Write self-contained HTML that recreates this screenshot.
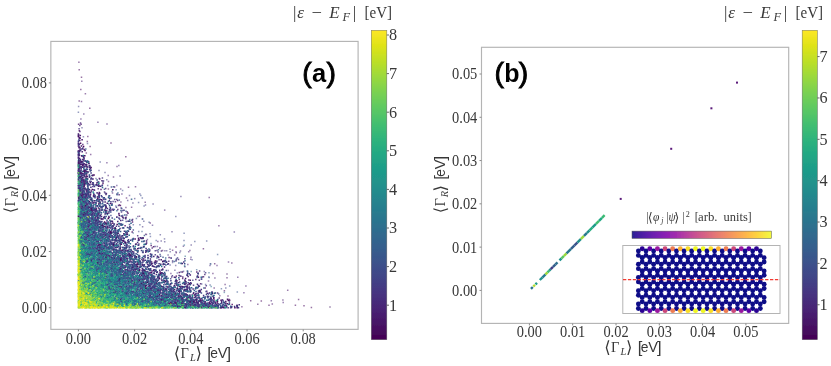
<!DOCTYPE html><html><head><meta charset="utf-8"><style>html,body{margin:0;padding:0;background:#fff;}svg{display:block;}</style></head><body><svg width="831" height="366" viewBox="0 0 831 366"><defs><linearGradient id="vir" x1="0" y1="1" x2="0" y2="0"><stop offset="0.000" stop-color="#440154"/><stop offset="0.050" stop-color="#471365"/><stop offset="0.100" stop-color="#482475"/><stop offset="0.150" stop-color="#463480"/><stop offset="0.200" stop-color="#414487"/><stop offset="0.250" stop-color="#3b528b"/><stop offset="0.300" stop-color="#355f8d"/><stop offset="0.350" stop-color="#2f6c8e"/><stop offset="0.400" stop-color="#2a788e"/><stop offset="0.450" stop-color="#25848e"/><stop offset="0.500" stop-color="#21918c"/><stop offset="0.550" stop-color="#1e9c89"/><stop offset="0.600" stop-color="#22a884"/><stop offset="0.650" stop-color="#2fb47c"/><stop offset="0.700" stop-color="#44bf70"/><stop offset="0.750" stop-color="#5ec962"/><stop offset="0.800" stop-color="#7ad151"/><stop offset="0.850" stop-color="#9bd93c"/><stop offset="0.900" stop-color="#bddf26"/><stop offset="0.950" stop-color="#dfe318"/><stop offset="1.000" stop-color="#fde725"/></linearGradient><linearGradient id="pla" x1="0" y1="0" x2="1" y2="0"><stop offset="0.000" stop-color="#0d0887"/><stop offset="0.050" stop-color="#2a0593"/><stop offset="0.100" stop-color="#41049d"/><stop offset="0.150" stop-color="#5601a4"/><stop offset="0.200" stop-color="#6a00a8"/><stop offset="0.250" stop-color="#7e03a8"/><stop offset="0.300" stop-color="#8f0da4"/><stop offset="0.350" stop-color="#a11b9b"/><stop offset="0.400" stop-color="#b12a90"/><stop offset="0.450" stop-color="#bf3984"/><stop offset="0.500" stop-color="#cc4778"/><stop offset="0.550" stop-color="#d6556d"/><stop offset="0.600" stop-color="#e16462"/><stop offset="0.650" stop-color="#ea7457"/><stop offset="0.700" stop-color="#f2844b"/><stop offset="0.750" stop-color="#f89540"/><stop offset="0.800" stop-color="#fca636"/><stop offset="0.850" stop-color="#feba2c"/><stop offset="0.900" stop-color="#fcce25"/><stop offset="0.950" stop-color="#f7e425"/><stop offset="1.000" stop-color="#f0f921"/></linearGradient><clipPath id="clipA"><rect x="51" y="41.5" width="306.5" height="287.3"/></clipPath><filter id="bl" x="-5%" y="-5%" width="110%" height="110%"><feGaussianBlur stdDeviation="0.45"/></filter></defs><rect width="831" height="366" fill="#fff"/><filter id="gb" x="0" y="0" width="100%" height="100%" filterUnits="userSpaceOnUse"><feGaussianBlur stdDeviation="0.3"/></filter><g filter="url(#gb)"><g clip-path="url(#clipA)"><g filter="url(#bl)" stroke-linecap="square" stroke-width="1.5" fill="none"><path stroke="#46085c" d="M100.1 199.4h0M92.3 189.6h0M128.4 241.6h0M183.6 297.8h0M146.1 273.5h0M177.9 300.2h0M160.7 292.4h0M102.0 218.9h0M79.6 150.2h0M228.3 300.4h0M120.6 247.2h0M209.9 306.1h0M237.2 305.4h0M85.9 177.1h0M117.2 224.6h0M119.3 215.4h0M203.4 303.5h0M83.0 175.7h0M110.5 221.3h0M81.6 178.7h0M90.1 214.1h0M146.8 279.9h0M167.5 286.9h0M179.5 286.6h0M135.1 239.1h0M80.5 171.8h0M223.6 307.6h0M114.9 258.5h0M215.1 306.6h0M80.2 171.6h0M175.8 281.3h0M125.2 267.5h0M96.4 184.7h0M186.9 286.2h0M79.7 140.4h0M176.9 280.7h0M80.0 138.2h0M89.5 189.7h0M94.2 196.6h0M131.6 258.2h0M131.6 276.3h0M84.6 184.5h0M104.3 197.8h0M79.5 155.4h0M92.3 210.1h0M80.6 143.3h0M194.6 294.9h0M102.7 227.3h0M99.1 224.2h0M157.1 281.7h0M99.8 231.6h0M113.8 245.8h0M84.0 182.5h0M79.6 167.8h0M150.0 285.9h0M212.1 292.6h0M86.4 199.0h0M85.0 150.6h0M91.6 209.7h0M139.4 291.0h0M177.0 285.2h0M94.3 210.6h0M84.3 206.9h0M78.4 136.6h0M160.1 271.9h0M217.3 302.1h0M237.2 307.7h0M94.0 194.5h0M82.8 165.5h0M114.4 242.3h0M99.4 201.3h0M97.9 219.3h0M100.1 202.3h0M197.8 302.9h0M146.6 275.9h0M101.8 257.6h0M79.0 166.2h0M131.5 255.1h0M201.1 298.7h0M84.8 155.7h0M113.7 243.7h0M84.0 225.0h0M88.5 194.3h0M122.3 265.8h0M105.7 206.7h0M133.2 261.8h0M229.4 304.1h0M103.0 231.8h0M117.2 233.2h0M109.4 236.3h0M86.5 175.0h0M78.4 164.6h0M85.7 194.1h0M172.6 294.2h0M222.1 307.3h0M82.5 180.2h0M83.9 164.0h0M96.5 251.6h0M143.0 260.6h0M78.4 150.9h0M120.3 248.8h0M83.0 194.6h0M187.3 275.3h0M80.3 195.7h0M204.4 303.4h0M141.6 275.6h0M200.1 300.1h0M120.3 244.0h0M108.3 218.5h0M174.0 298.3h0M89.3 201.6h0"/><path stroke="#46085c" stroke-opacity="0.8" d="M125.1 225.8h0M127.3 211.9h0M229.1 299.4h0M196.8 272.0h0M101.0 189.6h0M153.5 246.7h0M229.7 300.3h0M205.1 288.0h0M132.5 222.0h0M120.4 205.6h0M128.0 213.3h0M132.2 232.0h0"/><path stroke="#46085c" stroke-opacity="0.55" d="M79.2 69.8h0M81.5 77.3h0M80.8 89.4h0M269.0 305.3h0M250.7 300.8h0M261.3 301.0h0M298.6 299.5h0M295.4 305.3h0M304.0 305.7h0M311.4 307.4h0M79.2 101.0h0M111.0 143.0h0M86.3 152.9h0M125.8 156.7h0M89.8 108.3h0M214.7 263.8h0M150.2 222.9h0M228.0 296.1h0M203.4 248.7h0M224.4 290.7h0M176.0 247.0h0"/><path stroke="#48186a" d="M138.6 239.0h0M104.0 217.2h0M83.3 194.7h0M198.1 293.3h0M125.4 217.9h0M82.0 155.9h0M110.1 235.8h0M82.9 188.8h0M116.2 238.5h0M137.4 266.3h0M91.6 214.4h0M148.6 281.3h0M236.8 305.4h0M183.1 286.8h0M106.8 211.1h0M109.6 259.0h0M201.2 304.7h0M84.5 185.3h0M218.0 303.7h0M200.2 291.9h0M84.8 176.7h0M89.6 218.1h0M79.1 147.8h0M155.4 262.6h0M170.2 290.4h0M193.7 306.6h0M82.6 164.5h0M89.7 176.8h0M85.9 170.0h0M216.4 304.3h0M126.3 247.8h0M150.9 272.4h0M181.3 296.4h0M112.9 223.2h0M91.8 215.8h0M227.5 299.2h0M210.5 301.0h0M83.1 186.7h0M110.7 203.4h0M198.5 285.6h0M96.9 183.1h0M89.9 197.8h0M154.2 273.6h0M139.4 275.9h0M84.8 172.1h0M107.3 203.3h0M103.7 248.7h0M88.6 192.7h0M112.4 248.1h0M84.8 170.0h0M92.2 184.3h0M80.3 135.6h0M198.4 277.2h0M84.8 172.9h0M90.4 195.0h0M161.2 259.7h0M88.3 208.8h0M127.4 234.6h0M119.0 258.1h0M188.6 300.7h0M94.0 210.4h0M157.8 277.8h0M190.2 291.2h0M181.5 293.9h0M142.3 279.6h0M86.8 192.0h0M84.3 170.9h0M97.2 223.2h0M80.8 164.4h0M124.5 248.3h0M129.2 261.5h0M164.1 280.7h0M187.2 290.8h0M90.3 210.4h0M79.9 163.9h0M99.4 210.2h0M133.3 265.9h0M140.2 261.8h0M106.0 246.3h0M144.2 273.6h0M181.9 286.5h0M114.1 228.2h0M225.8 301.6h0M98.7 240.0h0M109.8 256.1h0M107.8 227.9h0M86.7 164.9h0M144.7 270.2h0M81.4 146.1h0M223.3 307.4h0M199.4 300.9h0M80.1 188.6h0M133.5 270.8h0M181.4 298.0h0M91.3 215.2h0M127.2 251.2h0M185.6 281.7h0M199.9 306.8h0M174.6 289.6h0M151.6 261.9h0M136.1 279.1h0M94.6 217.9h0M116.6 236.9h0M89.2 184.8h0M163.2 264.4h0M160.7 264.3h0M164.3 281.1h0M98.6 184.4h0M146.0 283.5h0M195.7 288.6h0M184.2 294.9h0M90.6 230.0h0M209.1 307.3h0M117.8 236.9h0M142.6 270.1h0M138.5 238.3h0M112.4 221.6h0M121.1 237.1h0M132.4 265.4h0M198.9 291.4h0M195.5 296.8h0M98.6 208.1h0M157.4 280.7h0M81.4 180.7h0M158.9 282.7h0M91.3 191.0h0M105.6 210.7h0M163.7 302.7h0M151.6 272.8h0M99.9 227.5h0M182.9 295.1h0M101.7 199.8h0M151.2 277.3h0M143.7 259.0h0M139.7 260.9h0M158.7 265.7h0M140.1 266.4h0M111.0 209.9h0M81.6 195.1h0M78.4 134.0h0M85.0 221.8h0M171.1 290.1h0M113.3 266.7h0"/><path stroke="#48186a" stroke-opacity="0.8" d="M188.8 279.9h0M217.6 292.9h0M94.5 190.2h0M78.6 124.2h0M146.2 244.0h0M132.6 219.5h0M106.4 193.4h0M202.4 276.9h0M182.8 276.9h0M119.1 194.8h0M118.9 213.4h0M109.6 195.8h0"/><path stroke="#48186a" stroke-opacity="0.55" d="M78.9 62.2h0M231.8 262.9h0M212.9 273.5h0M272.3 303.9h0M227.0 273.9h0M227.0 277.7h0M257.8 304.3h0M287.7 290.2h0M85.4 93.7h0M81.5 101.6h0M117.0 166.5h0M330.0 307.0h0M282.9 300.0h0M162.5 250.5h0M218.9 225.8h0M241.9 306.8h0M125.9 207.6h0M90.7 154.5h0M112.5 192.9h0M126.5 198.1h0M113.5 176.9h0M214.2 288.0h0M120.9 201.9h0M184.9 266.7h0M171.0 257.7h0"/><path stroke="#482576" d="M82.5 179.9h0M178.8 298.9h0M146.6 243.0h0M157.6 292.8h0M205.2 301.7h0M118.8 240.6h0M79.3 146.9h0M107.3 233.4h0M112.7 255.3h0M187.8 291.7h0M126.6 245.2h0M133.8 269.5h0M125.1 269.7h0M209.6 306.6h0M84.3 217.5h0M199.5 297.9h0M137.9 281.8h0M129.6 257.7h0M87.5 191.0h0M89.7 211.3h0M139.0 281.6h0M81.3 164.2h0M86.4 164.4h0M178.5 282.7h0M87.1 198.9h0M78.4 155.2h0M213.0 296.4h0M161.0 273.8h0M106.1 212.9h0M78.4 144.3h0M137.7 268.6h0M98.6 182.1h0M186.8 289.3h0M190.3 275.0h0M82.8 159.6h0M198.2 273.7h0M164.5 267.0h0M88.7 161.7h0M90.9 178.9h0M113.9 259.0h0M103.6 234.5h0M93.3 183.0h0M161.1 295.9h0M220.5 307.7h0M88.9 216.6h0M83.7 201.0h0M214.7 305.2h0M86.4 197.1h0M113.6 231.4h0M145.2 282.4h0M101.3 218.9h0M99.7 193.2h0M105.1 234.8h0M169.6 294.2h0M97.3 205.8h0M182.4 297.9h0M192.1 294.9h0M160.3 291.9h0M153.8 256.4h0M116.5 249.5h0M101.0 218.5h0M135.3 270.0h0M148.5 275.2h0M183.8 282.7h0M164.4 291.8h0M88.2 192.9h0M157.4 256.2h0M161.7 269.9h0M148.9 269.6h0M145.8 252.3h0M115.4 233.7h0M164.2 261.1h0M101.5 240.4h0M94.3 200.7h0M106.6 255.7h0M105.1 214.1h0M107.4 208.5h0M153.7 266.6h0M129.9 254.6h0M90.7 192.5h0M210.5 307.0h0M168.3 297.3h0M142.6 257.8h0M117.4 247.2h0M101.8 243.8h0M133.4 246.1h0M143.0 280.5h0M99.4 194.9h0M80.0 186.9h0M187.5 285.1h0M136.1 264.3h0M80.2 172.2h0M104.0 254.0h0M200.4 291.0h0M122.2 272.4h0M224.4 302.8h0M221.0 307.2h0M204.9 306.2h0M150.6 278.6h0M214.6 301.9h0M83.2 156.3h0M102.4 225.4h0M102.3 185.2h0M88.4 183.8h0M98.9 213.0h0M116.0 234.4h0M138.6 245.2h0M150.4 288.3h0M118.4 233.4h0M179.1 275.4h0M186.5 296.0h0M213.2 306.0h0M195.8 294.0h0M84.7 212.8h0M108.5 268.0h0M186.9 286.8h0M83.9 184.9h0M97.0 199.5h0M95.6 239.6h0M97.7 217.3h0M84.1 181.1h0M205.9 305.1h0M131.3 268.6h0M150.4 258.9h0M147.5 262.4h0M103.9 199.4h0M113.3 257.0h0M113.6 249.5h0M118.2 261.1h0M196.1 295.7h0M94.4 238.7h0M120.0 238.1h0M97.1 220.4h0M155.0 284.7h0M221.8 307.4h0M122.7 255.4h0M199.4 297.4h0M102.1 234.5h0M128.5 231.3h0M140.8 288.7h0M134.6 278.9h0M105.6 211.5h0M96.0 220.5h0M78.4 162.0h0M130.0 266.4h0M150.5 254.0h0M193.1 288.9h0M94.9 209.6h0M78.6 173.7h0M185.5 303.9h0M82.9 223.4h0M92.3 211.6h0M95.0 196.4h0M112.6 236.0h0M110.3 237.3h0M136.2 269.4h0"/><path stroke="#482576" stroke-opacity="0.8" d="M201.5 278.9h0M204.8 274.5h0M79.8 125.5h0M157.0 250.5h0M178.5 259.5h0M199.6 270.9h0M171.7 277.1h0M99.8 179.1h0M187.6 271.6h0M105.7 188.5h0M104.5 191.9h0M98.2 188.7h0M199.3 280.2h0M106.0 194.6h0M122.5 228.1h0M138.9 244.0h0M181.0 276.2h0M193.5 285.2h0M161.4 251.1h0M176.0 261.1h0"/><path stroke="#482576" stroke-opacity="0.55" d="M81.8 81.2h0M228.5 261.9h0M271.3 300.8h0M217.0 265.4h0M245.9 286.0h0M237.8 277.3h0M243.9 292.8h0M83.8 114.0h0M107.0 124.0h0M97.9 122.2h0M283.2 302.4h0M147.4 239.5h0M188.7 251.7h0M80.9 119.1h0M146.4 234.5h0M190.7 259.2h0M214.9 278.1h0M108.2 175.6h0M187.8 264.5h0M183.4 246.3h0"/><path stroke="#46337f" d="M87.3 179.8h0M125.5 242.4h0M130.9 249.5h0M107.3 226.2h0M198.0 297.6h0M176.7 282.3h0M206.6 305.6h0M102.4 206.2h0M114.8 235.4h0M101.1 210.4h0M99.7 209.1h0M168.4 263.7h0M126.2 233.9h0M124.0 210.2h0M172.9 288.7h0M110.7 228.0h0M132.1 266.5h0M154.4 262.9h0M120.0 228.6h0M183.6 295.9h0M83.5 165.1h0M111.8 221.2h0M146.1 248.6h0M82.9 148.0h0M137.1 261.9h0M156.2 267.4h0M94.5 208.8h0M208.1 306.0h0M104.3 231.4h0M210.2 299.2h0M215.6 302.2h0M103.5 225.7h0M212.0 292.1h0M119.9 240.9h0M138.9 264.2h0M101.6 216.6h0M142.4 264.2h0M108.5 197.4h0M97.1 193.0h0M103.2 230.3h0M117.5 240.3h0M109.7 198.8h0M151.0 284.8h0M112.1 203.9h0M137.6 242.5h0M133.6 251.9h0M163.4 273.8h0M129.6 258.1h0M85.1 161.2h0M207.6 296.2h0M105.5 223.0h0M139.6 256.2h0M175.4 293.7h0M102.4 231.7h0M96.9 219.3h0M83.7 184.9h0M162.3 293.2h0M113.1 232.3h0M197.4 284.2h0M177.0 293.1h0M123.5 240.5h0M122.7 247.5h0M107.2 253.1h0M118.2 236.0h0M97.7 222.3h0M123.5 271.2h0M195.3 294.4h0M87.1 179.6h0M206.9 304.9h0M160.2 292.8h0M215.6 302.9h0M167.1 291.0h0M162.2 272.9h0M171.0 286.6h0M83.7 190.6h0M160.2 292.9h0M150.6 270.3h0M181.5 288.6h0M114.3 224.1h0M96.4 209.0h0M150.7 268.8h0M154.6 262.2h0M81.3 169.9h0M145.0 278.7h0M128.4 250.4h0M95.1 222.6h0M115.5 249.7h0M112.7 237.7h0M118.6 259.5h0M90.5 202.6h0M115.9 245.3h0M144.6 273.3h0M130.1 277.3h0M159.2 274.9h0M209.5 302.4h0M120.0 250.1h0M194.5 300.8h0M78.7 143.8h0M136.2 265.2h0M190.2 291.9h0M153.3 279.4h0M165.3 277.1h0M112.3 253.3h0M145.4 260.2h0M103.0 243.9h0M116.8 243.7h0M156.9 261.2h0M174.6 291.4h0M156.9 283.4h0M176.9 283.7h0M115.7 228.9h0M140.3 237.8h0M185.4 291.0h0M129.6 278.0h0M129.0 245.9h0M179.7 294.1h0M84.0 210.6h0M115.2 237.6h0M80.5 167.4h0M118.6 246.8h0M148.2 273.4h0M125.7 272.4h0M124.8 245.4h0M141.2 238.6h0M121.9 259.5h0M164.8 264.2h0M178.8 295.7h0M98.0 201.3h0M119.8 239.6h0M157.2 266.0h0M138.9 272.7h0M110.0 233.5h0M159.7 282.7h0M79.6 168.5h0M111.5 230.1h0M97.8 218.7h0M97.1 192.8h0M123.3 218.1h0M138.5 270.8h0M201.1 300.3h0M190.7 290.2h0M148.9 277.5h0M95.5 219.0h0M143.8 269.8h0M104.5 210.1h0M97.9 243.7h0M158.8 276.8h0M156.2 283.5h0M125.5 273.5h0M130.2 229.3h0M145.0 255.6h0M183.3 303.1h0M102.1 231.0h0M99.0 195.4h0M125.8 218.8h0M159.3 288.6h0M179.7 288.7h0M94.1 223.1h0M93.8 233.6h0M114.0 256.9h0M104.9 204.9h0M102.1 200.8h0M171.2 288.9h0M118.4 256.7h0M183.1 293.2h0M121.7 257.5h0M91.2 227.6h0M79.8 187.8h0M175.7 299.3h0M163.5 292.3h0M97.6 219.4h0M108.1 235.8h0M184.6 284.3h0M183.6 302.3h0M87.0 183.6h0M160.0 298.7h0M187.7 295.3h0M194.9 300.5h0M99.1 201.8h0M93.6 196.6h0M105.1 233.8h0M87.8 188.9h0M105.2 253.7h0M85.3 181.6h0M168.3 295.3h0"/><path stroke="#46337f" stroke-opacity="0.8" d="M172.4 275.8h0M118.5 205.5h0M206.3 285.7h0M102.4 177.9h0M158.1 252.0h0M79.1 128.8h0M105.1 193.1h0M116.9 194.0h0M116.7 199.6h0M180.1 276.0h0M155.3 254.8h0M155.3 250.7h0M184.8 258.8h0M114.7 199.5h0"/><path stroke="#46337f" stroke-opacity="0.55" d="M174.7 254.9h0M168.1 255.0h0M120.1 175.9h0M234.3 232.0h0M164.9 250.7h0M161.2 241.0h0M191.0 257.2h0M210.0 265.5h0M96.0 178.4h0M118.8 165.5h0M132.9 202.9h0M116.8 185.6h0M145.5 204.9h0"/><path stroke="#424086" d="M196.2 287.3h0M88.6 205.9h0M167.7 282.1h0M114.2 240.0h0M181.4 298.6h0M92.0 207.0h0M170.9 280.8h0M211.2 300.9h0M99.4 245.9h0M203.6 297.3h0M106.0 252.1h0M88.2 212.2h0M186.2 300.1h0M113.0 244.3h0M163.9 284.8h0M92.5 228.7h0M85.1 194.2h0M169.0 286.5h0M96.0 184.9h0M115.0 254.3h0M80.8 149.9h0M152.5 286.2h0M96.3 200.8h0M124.6 248.8h0M145.7 268.4h0M78.4 163.3h0M97.8 199.6h0M103.3 227.5h0M96.1 237.1h0M89.9 207.6h0M185.2 300.4h0M91.3 178.4h0M199.5 291.9h0M171.0 288.2h0M124.8 258.5h0M156.6 263.1h0M95.3 221.7h0M159.5 286.5h0M115.7 238.4h0M124.8 247.8h0M198.1 287.6h0M133.8 253.3h0M101.0 214.2h0M81.8 167.1h0M129.1 262.5h0M139.8 274.8h0M158.7 290.5h0M85.1 196.1h0M178.1 296.9h0M126.0 243.3h0M98.3 217.2h0M133.4 255.1h0M110.5 208.2h0M151.8 287.6h0M111.3 244.1h0M174.9 295.1h0M167.7 264.3h0M128.5 239.8h0M107.0 222.1h0M78.4 141.3h0M108.9 216.5h0M80.9 187.9h0M147.3 275.5h0M216.7 305.7h0M153.2 281.2h0M147.6 276.0h0M129.8 221.2h0M231.8 306.7h0M142.6 284.3h0M218.4 306.9h0M141.5 250.4h0M166.5 280.5h0M93.3 184.6h0M182.3 287.8h0M165.5 289.0h0M121.0 253.1h0M98.6 218.1h0M109.1 234.4h0M204.0 301.8h0M86.7 161.2h0M88.9 202.9h0M151.8 254.5h0M91.4 178.0h0M118.2 231.7h0M88.0 187.4h0M178.8 290.0h0M144.9 256.4h0M158.3 280.2h0M155.0 269.7h0M109.6 246.2h0M134.7 256.0h0M102.9 202.1h0M202.4 300.7h0M150.5 261.1h0M127.9 242.8h0M105.6 199.3h0M186.4 304.5h0M142.6 238.0h0M116.2 249.7h0M149.0 281.9h0M128.8 275.7h0M121.2 260.6h0M83.8 223.1h0M190.7 282.8h0M119.2 241.1h0M120.6 274.1h0M113.2 210.2h0M97.6 182.2h0M118.9 226.3h0M109.5 255.4h0M142.5 292.4h0M99.3 197.5h0M90.3 228.8h0M162.7 282.4h0M111.0 267.0h0M120.3 259.6h0M84.2 166.3h0M95.6 225.3h0M91.1 170.2h0M118.9 250.5h0M110.1 223.1h0M87.1 194.7h0M102.8 229.8h0M118.1 258.2h0M93.9 235.4h0M87.4 212.1h0M116.3 240.5h0M143.7 270.6h0M103.0 257.7h0M83.0 177.7h0M85.1 173.5h0M145.1 257.5h0M116.5 232.5h0M127.8 240.8h0M95.5 219.7h0M210.8 303.9h0M166.8 298.8h0M122.1 265.9h0M105.0 251.9h0M144.0 246.7h0M121.3 224.1h0M97.4 255.1h0M90.8 170.4h0M111.9 261.3h0M86.9 206.2h0M85.5 196.5h0M158.7 275.0h0M107.2 250.9h0M110.6 242.4h0M157.6 284.8h0M104.5 248.6h0M114.7 245.9h0M158.4 291.2h0M223.8 302.1h0M112.4 260.7h0M119.9 253.0h0M89.7 169.4h0M115.6 231.1h0M193.9 301.1h0M84.9 198.1h0M104.0 223.3h0M154.4 283.9h0M175.6 277.6h0M80.8 185.1h0"/><path stroke="#424086" stroke-opacity="0.8" d="M122.7 220.3h0M166.3 270.5h0M192.8 280.3h0M155.0 246.6h0M92.7 179.0h0M181.0 272.1h0"/><path stroke="#424086" stroke-opacity="0.55" d="M210.4 263.8h0M175.7 265.6h0M164.7 241.8h0M170.1 265.0h0M139.9 194.1h0M82.0 127.8h0M83.4 136.7h0M143.8 221.2h0M172.6 262.4h0M105.0 172.6h0M129.5 195.6h0"/><path stroke="#3e4c8a" d="M162.8 261.4h0M135.6 244.6h0M133.4 246.8h0M89.9 181.2h0M114.0 244.4h0M91.5 197.9h0M189.8 287.9h0M126.8 263.3h0M86.7 176.7h0M96.4 230.5h0M193.6 299.8h0M108.3 221.9h0M85.0 198.4h0M176.3 282.9h0M130.7 281.0h0M117.8 230.8h0M175.3 281.6h0M128.5 264.8h0M140.5 265.1h0M163.4 286.5h0M109.9 246.8h0M109.4 230.7h0M105.8 230.6h0M205.5 297.1h0M111.5 270.3h0M109.5 243.6h0M133.6 278.5h0M84.4 189.0h0M152.3 265.9h0M126.7 258.3h0M115.4 239.7h0M160.4 274.9h0M216.5 305.6h0M133.1 274.2h0M168.3 299.6h0M129.6 268.8h0M92.2 225.2h0M82.7 173.7h0M140.7 274.0h0M184.9 279.9h0M103.0 232.8h0M106.1 206.2h0M100.2 226.4h0M208.8 296.6h0M153.4 273.3h0M97.1 225.0h0M98.1 226.4h0M106.7 230.5h0M122.3 262.6h0M120.5 261.1h0M208.4 294.0h0M91.9 175.5h0M100.5 241.1h0M78.8 140.1h0M158.2 287.5h0M92.2 208.7h0M100.0 212.0h0M217.8 299.6h0M148.2 276.9h0M112.2 263.0h0M112.2 225.9h0M126.7 269.7h0M112.4 239.3h0M223.6 304.8h0M129.4 261.2h0M83.1 185.9h0M85.3 182.0h0M126.9 273.2h0M93.1 220.6h0M123.4 262.2h0M92.0 227.7h0M126.9 231.9h0M91.3 218.6h0M96.5 223.0h0M124.2 261.9h0M154.4 271.9h0M107.9 234.0h0M105.6 230.1h0M151.7 274.4h0M122.5 262.7h0M211.6 299.9h0M90.9 228.9h0M82.9 161.3h0M144.5 270.5h0M130.6 275.3h0M106.6 241.5h0M195.5 288.7h0M147.8 276.2h0M90.3 213.3h0M166.2 290.0h0M95.7 223.9h0M156.0 270.7h0M80.5 161.0h0M115.2 227.7h0M96.8 241.5h0M101.4 233.0h0M113.2 249.8h0M130.9 276.2h0M182.9 299.2h0M87.8 213.1h0M109.7 245.1h0M124.4 252.4h0M136.9 267.1h0M93.7 212.3h0M150.5 275.1h0M143.8 264.9h0M105.5 246.6h0M132.5 280.8h0M110.0 269.0h0M113.4 254.9h0M173.9 299.3h0M116.8 257.9h0M80.9 190.4h0M113.5 258.8h0M141.0 272.4h0M102.4 235.8h0M100.0 230.7h0M88.0 215.3h0M127.8 250.8h0M115.8 230.4h0M143.3 285.1h0M144.2 241.1h0M109.6 205.7h0M176.0 297.7h0M125.7 232.2h0M187.3 297.5h0M82.8 221.3h0M165.5 260.2h0M197.9 295.3h0M88.2 201.6h0M83.5 225.1h0M129.0 271.0h0M208.1 300.3h0M86.1 189.3h0M167.9 281.5h0M100.8 203.8h0M130.9 273.1h0M115.0 252.5h0M123.8 255.8h0M109.2 232.9h0M184.6 295.4h0M138.3 240.4h0M95.9 213.6h0M78.6 157.8h0M97.0 234.6h0M189.7 300.8h0M128.7 253.9h0"/><path stroke="#3e4c8a" stroke-opacity="0.8" d="M123.8 228.1h0M116.9 217.0h0M163.0 257.2h0M104.4 189.2h0M160.6 256.2h0M110.9 215.4h0"/><path stroke="#3e4c8a" stroke-opacity="0.55" d="M184.0 240.4h0M156.2 240.5h0M177.3 272.9h0M100.2 162.0h0M206.7 240.9h0M142.3 198.0h0M138.6 202.6h0M142.3 218.9h0M150.0 233.7h0M144.1 206.1h0M194.8 241.4h0M168.2 270.6h0"/><path stroke="#38588c" d="M111.4 242.4h0M119.6 248.5h0M134.7 255.3h0M111.4 262.8h0M138.2 272.3h0M138.1 250.7h0M131.3 250.2h0M198.3 302.5h0M124.9 215.1h0M135.1 256.4h0M138.6 248.3h0M98.2 232.3h0M146.8 261.2h0M214.4 293.3h0M164.2 288.1h0M149.9 262.9h0M102.6 225.2h0M182.6 283.5h0M143.5 241.4h0M98.4 224.5h0M100.6 226.6h0M140.0 264.8h0M80.9 171.0h0M151.6 255.8h0M141.5 266.7h0M90.2 171.1h0M83.7 205.2h0M88.1 202.8h0M133.6 276.7h0M108.0 241.6h0M164.5 272.5h0M143.0 251.0h0M112.3 229.5h0M203.9 303.6h0M117.5 240.7h0M196.0 291.5h0M97.1 180.1h0M187.0 275.0h0M220.8 303.7h0M131.8 276.9h0M195.7 297.4h0M127.5 278.9h0M193.2 299.7h0M89.4 213.9h0M135.6 275.4h0M176.5 290.2h0M129.1 266.3h0M80.3 177.9h0M111.6 249.0h0M207.0 300.5h0M138.8 268.9h0M131.0 268.1h0M138.3 273.3h0M118.9 262.5h0M79.3 164.3h0M105.4 205.5h0M197.2 295.6h0M115.7 235.8h0M147.4 266.7h0M98.5 222.2h0M130.3 251.2h0M177.4 288.0h0M129.2 251.2h0M121.0 210.4h0M103.4 206.2h0M184.6 293.4h0M122.7 256.6h0M166.7 262.0h0M109.7 226.1h0M131.3 275.5h0M179.5 292.7h0M122.2 280.2h0M114.8 242.9h0M98.8 200.1h0M166.5 281.9h0M176.7 284.5h0M184.8 303.6h0M198.0 273.5h0M125.7 274.2h0M117.8 264.9h0M171.7 287.8h0M105.5 212.6h0M126.4 248.8h0M169.1 296.4h0M181.9 301.0h0M165.9 288.2h0M141.1 281.5h0M136.5 257.4h0M111.7 205.1h0M86.0 193.6h0M125.8 266.4h0M161.3 282.8h0M99.7 222.1h0M132.4 254.6h0M81.3 214.9h0M148.5 261.8h0M91.8 198.8h0M125.4 257.3h0M139.4 286.6h0M82.3 179.6h0M125.3 248.4h0M110.2 241.4h0M166.2 278.1h0M119.2 249.0h0M125.7 274.7h0M120.6 231.5h0M122.8 261.9h0M99.9 245.1h0M172.4 291.3h0M95.0 229.7h0M187.7 273.1h0M145.4 283.4h0M108.9 195.9h0M171.4 283.2h0M89.3 222.6h0M185.1 304.8h0M150.5 280.1h0M176.8 291.0h0"/><path stroke="#38588c" stroke-opacity="0.8" d="M156.9 257.9h0M126.1 211.3h0M218.7 293.9h0M117.1 194.8h0M144.4 235.6h0"/><path stroke="#38588c" stroke-opacity="0.55" d="M229.7 286.1h0M112.0 191.6h0M142.7 219.1h0M209.2 277.6h0M142.0 231.5h0"/><path stroke="#33638d" d="M123.0 237.6h0M129.1 251.8h0M117.7 237.3h0M154.7 279.5h0M85.0 199.1h0M119.2 267.3h0M136.8 266.6h0M142.6 238.6h0M178.8 277.8h0M116.1 247.3h0M98.5 233.9h0M158.5 275.7h0M104.3 224.2h0M87.5 192.7h0M106.6 230.8h0M129.0 242.9h0M191.6 287.8h0M106.7 231.7h0M153.3 290.9h0M190.3 284.7h0M112.5 249.3h0M191.0 291.5h0M112.9 246.0h0M101.5 212.8h0M89.6 210.7h0M190.3 296.6h0M125.6 271.8h0M105.8 252.4h0M80.9 215.9h0M117.2 234.7h0M158.6 274.2h0M128.7 221.2h0M149.7 270.6h0M217.3 305.3h0M103.0 235.8h0M140.2 293.2h0M116.5 255.6h0M146.3 262.8h0M142.3 257.7h0M198.8 295.2h0M146.4 282.5h0M105.9 250.4h0M148.5 282.9h0M126.2 236.6h0M98.8 204.6h0M217.3 300.6h0M116.9 262.3h0M110.3 246.9h0M182.1 302.1h0M168.0 278.2h0M90.2 249.1h0M92.8 200.6h0M179.1 288.7h0M132.3 269.6h0M183.7 297.2h0M99.3 196.8h0M115.5 271.4h0M91.8 219.4h0M104.0 197.7h0M156.1 270.2h0M89.0 204.0h0M82.9 185.1h0M167.1 297.6h0M164.1 278.7h0M162.4 298.5h0M101.3 246.7h0M98.1 225.0h0M88.5 222.8h0M181.5 299.6h0M86.6 244.7h0M207.8 305.4h0M123.1 261.8h0M87.2 184.1h0M118.9 267.6h0M166.0 301.6h0M85.7 215.5h0M111.4 252.7h0M81.5 187.0h0M98.1 224.1h0M133.7 272.3h0M151.4 275.7h0M165.0 273.5h0M85.4 211.4h0M129.1 258.7h0M137.6 277.5h0M115.4 273.2h0M79.5 165.7h0M92.8 239.0h0M194.6 306.1h0M137.5 254.5h0"/><path stroke="#33638d" stroke-opacity="0.8" d="M178.9 263.0h0M113.4 186.8h0M117.9 193.0h0"/><path stroke="#33638d" stroke-opacity="0.55" d="M151.0 243.5h0M196.7 269.7h0M191.2 271.5h0M209.0 272.8h0"/><path stroke="#2e6d8e" d="M106.3 211.8h0M93.6 193.2h0M149.0 277.0h0M129.2 235.2h0M150.5 283.3h0M111.0 259.2h0M204.7 299.0h0M107.6 251.4h0M103.6 223.2h0M110.2 257.4h0M78.4 152.3h0M171.3 294.5h0M158.6 288.9h0M118.0 265.7h0M138.6 257.6h0M119.3 259.8h0M102.2 240.9h0M202.3 297.9h0M160.4 285.3h0M192.1 297.8h0M162.2 294.0h0M95.6 236.1h0M95.8 238.6h0M132.6 241.0h0M170.4 293.1h0M108.2 237.9h0M150.3 288.3h0M163.7 286.9h0M83.2 207.8h0M101.4 260.3h0M118.9 252.9h0M152.6 282.8h0M120.5 242.9h0M198.5 295.1h0M123.6 257.7h0M86.8 194.4h0M107.4 214.6h0M140.6 276.7h0M153.5 294.6h0M171.2 298.0h0M162.5 293.7h0M97.5 227.0h0M201.2 277.3h0"/><path stroke="#2e6d8e" stroke-opacity="0.8" d="M184.6 266.0h0M116.9 210.7h0"/><path stroke="#2e6d8e" stroke-opacity="0.55" d="M184.3 245.1h0"/><path stroke="#2a778e" d="M133.2 258.9h0M138.3 268.2h0M100.7 225.0h0M88.1 206.5h0M135.4 261.7h0M144.4 274.4h0M143.6 247.0h0M117.5 257.3h0M161.7 274.7h0M113.0 269.6h0M122.7 260.2h0M91.7 205.5h0M108.3 240.9h0M95.4 216.3h0M98.6 237.8h0M102.4 245.5h0M126.0 278.8h0M115.4 256.5h0M184.1 290.6h0M106.2 241.3h0M123.7 243.7h0M81.9 185.7h0M109.9 220.3h0M109.8 252.6h0M164.2 278.2h0M105.5 245.7h0"/><path stroke="#2a778e" stroke-opacity="0.55" d="M131.7 199.3h0"/><path stroke="#26828e" d="M186.7 296.9h0M146.8 274.4h0M118.5 277.2h0M81.8 202.8h0M110.0 251.4h0M99.6 202.1h0M90.1 197.2h0M144.1 244.6h0M210.8 305.5h0M127.8 271.9h0M82.3 191.2h0M127.4 271.6h0M103.2 225.9h0M203.8 306.3h0"/><path stroke="#228b8d" d="M190.5 300.7h0M83.3 223.2h0M122.4 253.6h0M121.2 274.7h0M132.4 273.7h0M131.3 277.5h0M131.1 278.0h0"/><path stroke="#1f958b" d="M148.3 284.2h0M92.0 225.0h0M147.1 282.1h0"/><path stroke="#1fa088" d="M139.6 271.7h0M128.7 277.3h0M86.3 222.6h0"/><path stroke="#3fbc73" d="M97.7 219.7h0"/><path stroke="#46085c" d="M91.3 208.4h0M98.8 212.9h0M193.3 305.3h0M79.1 161.1h0M143.2 238.0h0M85.9 225.6h0M79.0 172.6h0M79.5 196.9h0M123.8 284.7h0M83.9 160.0h0M123.9 233.7h0M87.6 211.1h0M109.0 217.4h0M160.3 273.2h0M110.4 232.7h0M80.4 177.3h0M185.1 281.0h0M161.9 295.5h0M121.4 244.3h0M148.7 268.7h0M170.4 284.0h0M84.0 183.6h0M105.7 254.8h0M116.5 250.9h0M161.3 286.3h0M155.5 261.1h0M83.1 180.7h0M86.3 178.8h0M91.1 167.4h0M116.6 269.9h0M103.0 236.7h0M108.4 253.3h0M208.4 307.6h0M90.8 226.3h0M170.9 297.2h0M182.3 300.9h0M159.3 278.8h0M153.6 270.5h0M87.4 178.8h0M179.8 290.7h0M114.1 236.9h0M98.5 196.6h0M106.1 207.6h0M106.0 235.3h0M82.9 167.3h0M134.8 273.4h0M100.4 244.5h0M166.1 289.3h0M174.9 293.7h0M124.0 241.4h0M84.8 170.6h0M87.9 171.8h0M85.7 164.8h0M225.8 303.2h0M128.8 271.6h0M100.4 215.7h0M102.2 209.7h0M91.5 243.6h0M96.1 209.1h0M182.3 299.0h0M80.4 215.1h0M87.6 185.9h0M104.6 221.9h0M120.7 243.4h0M122.6 217.0h0M122.5 235.7h0M162.6 292.3h0M85.0 208.6h0M90.7 209.0h0M97.8 198.6h0M86.3 195.3h0M139.1 240.1h0M112.8 265.7h0M138.5 262.8h0M119.5 271.0h0M86.5 214.0h0M234.9 307.7h0M128.7 293.7h0M144.5 270.9h0M80.1 181.7h0M189.4 283.4h0M78.4 173.5h0M115.3 228.4h0M147.3 282.2h0M85.8 180.1h0M129.9 286.8h0M96.3 220.7h0M112.6 263.8h0M136.4 256.8h0M136.8 272.3h0M104.4 250.2h0M198.0 304.6h0M172.1 300.3h0M127.0 275.5h0M162.9 261.6h0"/><path stroke="#46085c" stroke-opacity="0.8" d="M179.3 272.4h0M119.4 205.1h0M94.2 174.9h0M182.5 272.0h0"/><path stroke="#46085c" stroke-opacity="0.55" d="M108.4 189.1h0M176.3 252.8h0M139.5 216.3h0M128.5 187.2h0"/><path stroke="#48186a" d="M188.1 301.5h0M79.5 158.5h0M82.3 162.1h0M124.7 254.7h0M99.3 192.5h0M80.4 191.7h0M198.8 301.4h0M197.3 276.5h0M179.0 294.1h0M88.2 189.0h0M142.2 265.3h0M114.8 240.4h0M186.0 283.6h0M132.4 259.6h0M84.0 163.8h0M84.2 186.5h0M85.0 188.7h0M98.6 245.2h0M176.9 295.1h0M88.6 219.1h0M164.2 290.1h0M82.6 177.4h0M136.1 250.3h0M121.2 239.8h0M137.7 251.9h0M146.4 292.2h0M94.6 213.7h0M125.1 242.7h0M117.3 261.8h0M78.4 146.1h0M97.4 197.0h0M89.8 167.6h0M187.5 288.0h0M94.0 202.4h0M87.2 176.4h0M147.2 267.0h0M205.4 305.1h0M123.2 240.5h0M164.2 275.0h0M84.6 194.0h0M84.1 149.6h0M105.2 244.4h0M139.4 281.3h0M83.6 196.5h0M164.9 296.1h0M80.1 148.1h0M152.0 270.9h0M86.2 171.7h0M103.4 262.1h0M130.5 259.9h0M113.3 250.4h0M94.4 215.6h0M142.1 288.5h0M178.1 297.6h0M188.8 305.4h0M88.2 208.4h0M207.2 293.3h0M100.8 255.3h0M87.4 226.1h0M165.3 303.1h0M92.9 213.8h0M137.7 248.8h0M181.5 303.0h0M184.0 300.8h0M78.4 135.4h0M88.1 190.9h0M82.1 193.7h0M82.1 139.7h0M103.9 217.7h0M187.1 287.6h0M94.3 255.3h0M89.6 207.2h0M78.4 180.1h0M190.2 280.2h0M169.3 296.3h0M100.3 224.3h0M124.9 267.7h0M78.4 179.6h0M79.7 151.4h0M104.9 235.9h0M83.8 188.3h0M78.8 159.4h0M82.3 206.7h0M111.1 224.0h0M85.0 166.5h0M83.7 157.5h0M78.4 154.4h0M85.7 183.5h0M179.0 296.2h0M174.7 285.4h0M222.7 306.7h0M129.0 287.8h0M137.2 288.9h0M209.4 303.4h0"/><path stroke="#48186a" stroke-opacity="0.8" d="M82.8 144.5h0M114.5 187.0h0M117.8 209.6h0M117.7 200.4h0M99.3 178.5h0"/><path stroke="#48186a" stroke-opacity="0.55" d="M209.2 197.4h0M145.7 234.2h0M131.6 207.2h0M189.9 250.4h0M172.6 250.3h0M108.5 181.6h0M225.1 284.6h0M135.5 186.7h0"/><path stroke="#482576" d="M202.6 300.1h0M187.0 294.8h0M118.0 252.7h0M82.8 208.3h0M129.9 226.5h0M108.1 227.0h0M184.6 296.7h0M194.2 297.6h0M93.5 243.2h0M183.5 301.2h0M104.5 243.5h0M84.1 183.6h0M149.9 273.9h0M78.7 134.9h0M191.8 300.3h0M213.7 298.2h0M78.4 157.9h0M90.5 168.4h0M86.7 173.4h0M180.4 297.8h0M194.7 307.1h0M93.7 210.0h0M90.5 194.3h0M80.0 190.7h0M187.3 289.6h0M144.6 275.3h0M105.5 210.2h0M81.7 155.7h0M87.7 204.1h0M218.5 307.7h0M117.8 221.6h0M105.1 202.0h0M237.4 306.7h0M102.0 180.7h0M81.0 166.6h0M128.5 273.9h0M78.4 157.0h0M183.8 299.7h0M86.9 162.2h0M208.9 304.6h0M157.1 284.6h0M185.5 289.4h0M149.8 249.9h0M95.0 240.2h0M166.3 262.2h0M99.2 253.8h0M189.7 295.8h0M182.3 263.4h0M147.3 276.2h0M112.7 240.2h0M89.8 220.9h0M204.3 305.2h0M135.1 248.6h0M114.4 271.6h0M205.5 303.1h0M79.6 138.1h0M154.3 285.2h0M116.6 269.1h0M123.8 273.9h0M199.1 306.6h0M89.7 196.0h0M87.7 228.9h0M115.4 269.1h0M146.5 241.0h0M127.4 250.5h0M103.0 218.9h0M90.9 250.1h0M142.7 271.6h0M86.7 178.9h0M82.2 151.7h0M171.6 291.5h0M107.6 254.7h0M211.2 298.6h0M93.6 195.8h0M152.7 287.7h0M189.9 301.5h0M83.3 163.7h0M143.0 252.4h0M129.8 278.8h0M142.7 297.0h0M142.8 293.1h0M142.4 273.0h0M124.2 266.1h0M106.7 227.7h0M92.1 202.9h0M127.7 273.2h0M80.9 181.2h0M137.6 261.7h0M93.5 209.5h0M135.2 269.3h0M130.5 259.0h0M189.3 304.9h0M215.2 303.6h0M192.6 301.2h0M99.5 259.8h0M159.7 274.5h0M99.0 255.5h0M217.3 307.7h0M129.5 256.2h0M119.1 268.1h0M86.4 190.9h0M211.8 306.2h0M211.4 307.7h0M114.7 268.4h0M78.4 143.1h0M209.4 292.9h0M85.5 170.9h0M172.3 294.9h0M152.7 266.1h0M95.3 209.5h0M97.5 217.2h0M122.2 266.2h0M149.9 272.7h0M81.1 189.7h0M189.3 296.6h0M119.9 278.2h0M200.2 307.1h0M171.8 295.8h0M98.5 242.3h0M89.0 222.2h0M158.7 257.4h0M100.1 260.4h0M81.7 179.4h0M95.9 206.9h0M96.0 211.6h0M78.7 162.9h0M173.3 288.0h0M87.4 238.6h0M109.1 256.4h0M160.9 289.9h0M83.6 157.4h0M172.9 303.4h0M131.9 256.8h0M95.2 233.8h0M93.6 203.1h0M174.1 285.9h0M126.1 234.4h0M149.3 303.3h0"/><path stroke="#482576" stroke-opacity="0.8" d="M127.9 221.2h0M159.1 259.7h0M80.5 123.1h0M115.4 201.8h0M152.2 247.9h0M203.5 276.8h0M116.8 217.3h0M79.9 131.6h0M168.8 261.3h0"/><path stroke="#482576" stroke-opacity="0.55" d="M106.9 162.7h0M157.3 246.4h0M120.7 189.0h0M208.5 281.0h0M170.9 273.4h0"/><path stroke="#46337f" d="M180.6 287.2h0M152.5 277.7h0M104.0 233.0h0M80.7 162.7h0M86.3 213.2h0M198.5 304.3h0M149.0 266.2h0M81.5 162.5h0M121.0 238.9h0M92.7 215.7h0M145.4 288.3h0M189.6 303.9h0M132.5 256.6h0M114.7 233.0h0M129.6 254.7h0M143.6 246.4h0M188.5 303.5h0M95.7 217.8h0M113.2 226.1h0M170.3 286.5h0M182.1 293.3h0M144.5 283.5h0M102.4 207.0h0M88.1 191.4h0M133.5 266.7h0M197.3 302.8h0M83.7 211.3h0M103.6 232.3h0M118.6 276.7h0M127.3 233.0h0M161.7 277.1h0M180.4 299.9h0M93.3 232.6h0M135.8 264.8h0M228.1 307.7h0M144.0 276.4h0M150.2 261.9h0M100.5 224.7h0M162.9 294.7h0M127.6 270.2h0M189.2 286.9h0M96.5 230.3h0M82.2 148.8h0M110.7 233.8h0M151.3 263.9h0M196.1 293.5h0M109.5 209.4h0M150.3 265.3h0M166.6 292.9h0M148.7 265.1h0M127.8 254.9h0M89.2 225.9h0M144.1 287.2h0M126.5 261.3h0M84.2 214.1h0M85.5 193.5h0M83.2 201.6h0M175.3 302.9h0M180.4 289.7h0M144.6 292.1h0M104.5 243.1h0M92.9 186.5h0M126.2 246.8h0M91.1 181.5h0M112.9 209.2h0M105.6 205.2h0M140.5 285.6h0M151.7 275.0h0M131.2 264.2h0M181.8 302.9h0M212.3 304.5h0M122.0 277.2h0M163.5 303.4h0M156.4 274.6h0M186.0 282.0h0M130.3 256.0h0M142.0 274.6h0M155.2 280.9h0M184.3 289.7h0M128.4 264.3h0M164.1 261.2h0M182.0 297.8h0M108.6 247.8h0M146.9 288.6h0M81.8 213.2h0M128.0 253.1h0M175.1 283.7h0M186.0 303.8h0M134.0 249.0h0M158.0 256.9h0M97.8 238.0h0M126.4 258.5h0M127.2 274.2h0M87.9 213.4h0M108.4 223.4h0M218.7 305.2h0M135.5 266.7h0M89.3 165.6h0M87.9 167.1h0M99.2 185.9h0M234.6 306.5h0M130.8 288.1h0M86.4 209.2h0M142.3 274.1h0M82.1 184.2h0M121.9 251.9h0M100.8 206.7h0M94.9 236.4h0M155.3 290.3h0M154.8 283.6h0M192.0 298.1h0M173.4 303.2h0M134.3 263.3h0M155.3 296.5h0M187.6 273.8h0M201.8 301.1h0M142.1 270.8h0M138.9 270.5h0M180.8 286.4h0M126.4 245.0h0M90.4 235.4h0M124.6 256.8h0M79.5 162.9h0M152.8 286.6h0M139.6 269.4h0M203.6 295.5h0M132.1 291.4h0M91.5 204.8h0M174.1 301.0h0M84.0 202.2h0M88.3 189.9h0M82.0 149.1h0"/><path stroke="#46337f" stroke-opacity="0.8" d="M103.0 182.0h0M106.2 193.7h0M121.5 212.1h0M172.6 261.1h0M176.5 258.9h0M126.8 214.9h0"/><path stroke="#46337f" stroke-opacity="0.55" d="M204.3 271.5h0M191.2 245.1h0M142.6 226.8h0M137.8 216.5h0M180.9 196.5h0M127.7 200.4h0M152.5 225.3h0"/><path stroke="#424086" d="M79.2 178.6h0M94.2 215.1h0M127.4 236.8h0M137.2 294.2h0M167.1 284.6h0M159.5 282.4h0M91.1 172.9h0M113.9 271.4h0M124.0 235.0h0M171.3 293.9h0M84.0 197.6h0M100.0 237.9h0M125.9 272.1h0M85.5 179.1h0M132.6 264.4h0M133.8 277.6h0M123.5 258.1h0M119.3 260.4h0M97.3 185.6h0M213.0 302.4h0M83.1 163.1h0M179.2 298.0h0M92.4 218.3h0M110.6 237.2h0M113.2 252.7h0M159.1 263.8h0M92.7 182.7h0M122.9 258.5h0M113.9 224.9h0M110.9 242.9h0M159.8 284.1h0M109.0 240.4h0M96.6 210.6h0M202.1 303.7h0M138.8 277.2h0M199.3 300.3h0M189.6 289.8h0M129.1 264.8h0M114.0 247.8h0M139.4 284.6h0M184.1 287.5h0M128.3 254.9h0M137.7 275.2h0M103.4 245.9h0M101.3 236.2h0M78.9 171.2h0M106.9 224.7h0M102.9 249.9h0M199.2 304.5h0M145.2 276.8h0M134.7 257.7h0M150.5 256.6h0M121.9 238.5h0M105.2 238.4h0M125.7 277.3h0M140.3 288.5h0M148.6 274.9h0M129.3 285.8h0M96.3 203.0h0M133.7 263.2h0M81.0 196.9h0M104.7 232.4h0M128.1 277.9h0M119.3 281.9h0M87.8 184.0h0M104.7 216.6h0M131.4 255.7h0M149.5 251.3h0M85.6 223.6h0M135.5 266.3h0M84.7 214.0h0M120.1 255.2h0M226.1 307.6h0M106.8 236.9h0M119.3 223.5h0M80.3 199.2h0M81.3 211.7h0M155.2 264.2h0M118.5 237.2h0M166.1 290.8h0M148.1 292.6h0M80.8 166.9h0M94.5 186.4h0M97.4 213.6h0M110.6 264.0h0M99.8 215.6h0M108.9 213.0h0M90.0 184.7h0M112.3 228.3h0M212.8 305.0h0M78.4 200.9h0M145.1 266.7h0M116.7 251.6h0M109.7 251.8h0M150.1 294.6h0M134.6 264.4h0M153.8 286.7h0M195.4 304.4h0M106.2 242.6h0M177.8 286.1h0M149.5 287.5h0M140.1 289.8h0M85.2 196.2h0M93.8 185.1h0M91.7 218.0h0M163.3 288.3h0M96.0 205.5h0M83.8 221.1h0M95.3 219.4h0M115.9 276.1h0M88.4 189.5h0M127.6 277.1h0M107.7 237.6h0M156.4 288.9h0M142.9 278.9h0M238.5 307.7h0M117.8 250.4h0M129.1 241.8h0M224.6 305.8h0M83.3 211.3h0M110.5 225.6h0M132.0 220.2h0M148.1 269.3h0M94.2 210.2h0M122.2 242.6h0M99.6 199.4h0M110.9 275.9h0M98.6 226.9h0M115.6 264.4h0M119.5 284.1h0M213.7 301.6h0M86.3 199.9h0M189.7 288.4h0M115.6 239.4h0M159.7 270.3h0M161.4 289.2h0M188.4 307.1h0M94.9 232.7h0M137.4 283.5h0M218.2 306.3h0M145.5 244.3h0M138.4 285.5h0M111.7 266.6h0M138.1 285.9h0M107.3 256.2h0M202.2 302.9h0M80.8 176.2h0M109.3 238.9h0M80.8 173.7h0M170.2 289.2h0M166.7 276.4h0M127.1 244.9h0M121.0 258.8h0M91.6 242.8h0M88.2 198.1h0M131.9 274.4h0M105.7 237.7h0M109.7 227.4h0M201.2 306.9h0M80.5 207.4h0M118.1 272.3h0M120.3 277.3h0M92.3 201.7h0M137.8 289.8h0M101.9 221.4h0M136.2 268.2h0M95.6 204.2h0"/><path stroke="#424086" stroke-opacity="0.8" d="M121.1 207.9h0M205.6 272.7h0M170.7 278.7h0M116.4 207.3h0M122.8 210.4h0"/><path stroke="#424086" stroke-opacity="0.55" d="M106.8 179.8h0M225.8 287.9h0M160.3 234.7h0M166.7 250.8h0M107.7 185.6h0M205.6 284.6h0M78.6 106.5h0M170.2 251.7h0M170.0 249.3h0"/><path stroke="#3e4c8a" d="M102.4 234.2h0M140.0 281.7h0M102.1 254.3h0M139.1 285.1h0M146.3 285.5h0M190.3 298.2h0M185.9 304.3h0M140.3 262.2h0M101.3 230.0h0M84.7 193.0h0M125.9 265.2h0M83.5 191.3h0M151.1 254.8h0M105.9 213.5h0M80.9 194.4h0M99.1 230.8h0M107.8 223.6h0M105.3 232.2h0M185.1 284.4h0M86.1 236.4h0M111.1 261.4h0M98.2 220.4h0M128.3 274.9h0M79.0 154.9h0M134.3 259.7h0M86.2 166.4h0M105.9 226.3h0M108.6 238.8h0M118.0 252.4h0M117.7 232.3h0M121.0 225.3h0M151.2 284.5h0M114.1 230.7h0M148.7 280.1h0M85.3 210.0h0M229.4 302.0h0M135.1 284.4h0M96.0 240.6h0M180.4 288.7h0M213.4 295.8h0M108.8 243.9h0M131.3 262.0h0M154.1 282.1h0M101.5 222.1h0M111.0 247.6h0M157.4 271.9h0M132.0 252.9h0M114.1 252.3h0M134.9 255.8h0M143.8 272.7h0M165.2 278.2h0M195.8 302.9h0M91.1 221.6h0M93.8 223.7h0M130.4 251.7h0M127.1 263.1h0M96.7 216.2h0M111.2 274.8h0M130.9 251.9h0M123.9 251.8h0M98.3 184.8h0M176.9 290.5h0M157.7 291.0h0M105.6 208.4h0M204.8 304.3h0M111.0 197.9h0M127.4 269.5h0M148.1 277.8h0M133.8 267.1h0M133.6 264.1h0M113.8 244.8h0M105.2 269.9h0M188.2 282.7h0M111.2 251.0h0M163.8 299.3h0M113.6 232.3h0M116.7 282.8h0M151.6 257.1h0M80.8 201.6h0M110.5 234.4h0M107.4 248.0h0M172.3 287.7h0M155.7 279.8h0M205.0 298.3h0M88.3 200.5h0M134.2 268.7h0M206.4 294.4h0M125.8 283.8h0M185.0 294.7h0M100.4 254.1h0M124.2 257.8h0M112.2 218.1h0M114.8 284.8h0M104.9 241.9h0M163.9 298.2h0M223.0 304.3h0M81.9 207.1h0M164.1 299.9h0M81.9 222.4h0M117.0 245.3h0M107.5 237.9h0M188.7 306.4h0M92.6 215.0h0M92.0 216.7h0M135.5 258.7h0M127.5 247.1h0M99.6 221.6h0M122.2 261.0h0M162.3 273.4h0M127.5 227.4h0M96.0 223.4h0M105.0 264.0h0M157.7 289.7h0M130.6 256.6h0M100.0 233.2h0M118.9 218.0h0M123.7 275.3h0M187.8 301.8h0M85.7 206.9h0M138.7 283.0h0M136.8 259.4h0M110.8 262.9h0M141.7 278.3h0M222.7 305.5h0M98.2 259.5h0M147.8 296.7h0M133.0 281.3h0M185.5 306.0h0M165.8 290.8h0M212.4 300.1h0M103.3 198.1h0M159.8 291.3h0M143.3 277.8h0M163.4 282.0h0M109.4 260.2h0M151.2 279.6h0M118.5 263.1h0M101.4 251.8h0M141.9 283.1h0M86.5 203.9h0M111.8 232.9h0M92.4 222.5h0M94.4 228.5h0M155.0 291.7h0M78.7 201.4h0M137.1 275.2h0M127.2 259.8h0M169.9 293.0h0M83.9 225.9h0M100.5 234.3h0M196.4 304.1h0M101.8 225.7h0M116.5 284.2h0M142.8 299.4h0M142.0 285.9h0M95.2 226.6h0M116.8 261.4h0M105.6 259.3h0M175.4 302.1h0M179.8 301.8h0M80.5 182.6h0M90.9 204.7h0M187.4 303.1h0M201.4 293.1h0"/><path stroke="#3e4c8a" stroke-opacity="0.8" d="M160.1 254.6h0M201.5 279.2h0M129.5 224.5h0M133.3 230.0h0"/><path stroke="#3e4c8a" stroke-opacity="0.55" d="M201.7 283.9h0M133.3 224.8h0M210.1 285.0h0M78.4 112.3h0M138.7 231.4h0M87.5 143.4h0M184.1 233.3h0M115.8 206.0h0M150.4 236.5h0M116.1 189.8h0"/><path stroke="#38588c" d="M95.2 233.0h0M196.8 300.6h0M149.7 260.9h0M164.7 303.3h0M114.2 266.2h0M178.9 291.6h0M134.7 271.5h0M175.7 296.2h0M158.9 283.7h0M165.8 298.5h0M95.9 215.5h0M99.9 239.9h0M81.2 201.5h0M132.3 240.0h0M159.0 266.2h0M151.1 289.0h0M115.9 249.7h0M95.0 223.5h0M105.9 261.4h0M87.7 209.5h0M97.6 237.6h0M140.6 263.8h0M119.7 257.7h0M123.7 268.4h0M143.8 266.4h0M110.2 251.3h0M83.8 204.8h0M94.8 235.6h0M142.6 268.5h0M90.1 240.4h0M119.0 251.9h0M175.6 295.4h0M81.8 175.4h0M102.2 256.0h0M184.2 287.4h0M182.4 300.1h0M128.1 271.9h0M90.5 219.1h0M129.2 274.8h0M84.2 175.9h0M110.8 225.1h0M105.2 237.8h0M211.0 294.5h0M122.2 270.5h0M93.6 207.1h0M103.7 252.2h0M138.1 244.9h0M112.3 244.8h0M153.5 285.5h0M104.0 205.0h0M129.3 228.9h0M122.0 264.2h0M158.1 279.1h0M96.4 244.1h0M79.5 183.2h0M215.4 305.3h0M209.3 299.2h0M99.7 238.7h0M141.6 291.2h0M104.0 228.9h0M179.7 282.0h0M106.1 265.6h0M111.9 237.3h0M160.9 300.6h0M213.2 303.3h0M89.4 229.8h0M137.0 283.8h0M117.0 257.8h0M121.6 240.6h0M114.3 257.4h0M165.1 261.8h0M163.5 299.2h0M122.8 271.1h0M172.9 300.4h0M148.6 284.1h0M118.3 280.0h0M165.6 284.5h0M96.1 244.8h0M114.2 240.2h0M144.0 265.5h0M94.7 225.1h0M107.7 260.4h0M99.5 209.5h0M168.1 293.1h0M106.1 228.6h0M91.4 199.3h0M106.4 249.1h0M96.8 232.6h0M190.5 299.8h0M108.1 252.0h0M118.9 256.1h0M124.9 272.1h0M120.1 253.3h0M96.0 244.1h0M134.4 265.3h0M101.3 237.7h0M82.9 224.2h0M147.2 278.4h0M122.7 275.6h0M89.0 196.7h0M143.1 285.9h0M91.4 249.3h0M112.5 258.0h0M81.9 225.7h0M110.3 248.1h0M158.8 296.6h0M118.9 271.2h0M90.8 206.8h0M111.0 256.4h0M111.3 230.7h0M107.1 259.2h0M106.1 247.9h0M89.3 220.2h0M95.0 197.7h0M103.2 254.6h0M149.7 262.9h0M132.7 262.6h0M136.6 268.6h0M143.3 295.4h0M152.8 293.3h0M216.8 306.1h0M87.7 160.9h0M115.5 252.4h0M192.3 296.8h0M81.1 199.3h0M109.3 247.9h0M109.0 211.6h0M189.3 302.6h0M148.6 269.1h0M194.2 304.7h0M191.3 301.8h0M128.5 275.9h0M155.9 286.6h0M156.3 296.4h0M118.3 229.8h0M123.4 284.3h0M82.0 214.2h0M211.4 307.6h0M114.2 261.6h0M127.4 275.4h0M88.2 234.3h0M88.9 227.9h0M85.5 226.3h0M104.4 234.3h0M131.9 282.0h0M84.5 191.0h0M165.9 265.0h0M93.3 226.6h0M129.9 265.0h0M101.8 275.8h0M122.2 271.2h0M93.0 221.8h0M135.7 294.5h0M152.7 281.8h0M114.7 272.6h0M156.8 266.7h0M165.7 277.9h0M84.3 191.9h0M88.5 230.7h0M141.9 284.9h0M117.3 263.5h0M93.0 228.2h0M94.4 229.4h0M111.6 279.6h0M104.5 254.2h0M159.7 295.3h0M96.2 255.6h0M105.4 227.4h0M148.1 272.2h0M132.6 266.3h0M127.8 263.6h0M217.1 306.6h0M122.6 278.6h0M108.9 203.9h0M80.7 178.9h0M157.7 284.1h0"/><path stroke="#38588c" stroke-opacity="0.8" d="M119.3 200.1h0"/><path stroke="#38588c" stroke-opacity="0.55" d="M136.4 218.4h0M149.1 222.3h0M122.6 190.4h0M133.2 233.1h0"/><path stroke="#33638d" d="M98.9 239.8h0M84.1 169.2h0M101.9 207.2h0M97.9 238.6h0M87.9 186.1h0M78.5 175.3h0M142.3 276.4h0M138.6 256.5h0M146.1 285.0h0M80.7 200.4h0M130.9 265.9h0M126.5 288.3h0M134.7 266.3h0M149.8 269.6h0M83.8 168.3h0M93.6 207.9h0M86.1 172.7h0M88.6 189.1h0M148.3 281.0h0M115.9 233.2h0M132.7 268.9h0M111.6 244.5h0M101.6 257.8h0M129.4 267.7h0M85.4 197.9h0M140.3 267.3h0M123.8 276.2h0M133.2 275.1h0M94.5 237.6h0M125.3 254.0h0M96.9 228.2h0M97.6 235.4h0M169.7 295.1h0M112.7 238.6h0M118.3 264.7h0M171.8 283.3h0M85.0 223.3h0M82.3 188.8h0M129.3 288.8h0M149.5 284.6h0M130.4 246.7h0M118.9 276.4h0M105.8 239.8h0M107.6 261.1h0M135.2 262.3h0M109.0 249.8h0M149.9 288.9h0M144.6 289.2h0M87.6 179.0h0M172.4 301.6h0M113.0 236.7h0M105.9 261.7h0M124.0 273.8h0M117.6 269.3h0M188.5 291.3h0M101.8 242.5h0M106.0 245.4h0M109.4 267.3h0M160.3 288.9h0M103.5 229.0h0M148.9 248.9h0M132.5 267.1h0M97.7 246.8h0M201.0 302.0h0M175.0 305.5h0M139.6 293.6h0M91.4 224.5h0M119.2 239.4h0M118.6 269.3h0M175.3 306.1h0M183.3 302.3h0M79.5 188.7h0M128.8 284.4h0M112.1 274.7h0M102.6 203.7h0M152.0 277.3h0M117.7 261.2h0M92.7 229.3h0M87.9 219.5h0M225.1 303.9h0M168.4 288.9h0M117.1 232.6h0M113.8 262.1h0M99.1 266.6h0M110.0 271.2h0M99.8 206.2h0M117.7 274.4h0M107.0 239.3h0M130.9 279.8h0M211.6 294.6h0M172.8 297.1h0M144.6 292.2h0M129.1 271.8h0M132.0 295.5h0M88.6 240.7h0M127.0 274.7h0M90.2 199.6h0M143.0 291.3h0M142.0 300.3h0M93.2 205.7h0M94.5 242.8h0M124.7 275.2h0M116.7 272.6h0M136.7 276.3h0M169.1 292.7h0M168.4 289.4h0M97.8 249.8h0M87.6 230.6h0M185.6 296.0h0M139.3 293.1h0M122.9 277.0h0M156.3 297.4h0M84.3 199.5h0M105.3 255.0h0M121.6 251.5h0M121.1 279.1h0M96.1 221.6h0M108.0 254.6h0M176.2 305.3h0M173.2 289.2h0M148.0 258.1h0M92.7 242.4h0M95.8 237.1h0M85.1 205.2h0M95.0 243.2h0M152.9 289.9h0M135.9 278.0h0M118.6 264.7h0M118.9 279.4h0M84.9 174.3h0M106.7 245.4h0M121.4 267.1h0M181.8 293.1h0M82.5 197.7h0M84.9 204.7h0M80.7 177.0h0M99.2 211.2h0M145.3 299.6h0M88.5 162.9h0M194.4 302.2h0M103.7 259.4h0M189.6 306.3h0M141.5 283.9h0"/><path stroke="#33638d" stroke-opacity="0.8" d="M165.7 258.0h0M174.2 261.6h0M203.8 288.0h0M197.1 277.4h0M158.5 249.7h0M185.0 260.8h0"/><path stroke="#33638d" stroke-opacity="0.55" d="M224.3 292.4h0"/><path stroke="#2e6d8e" d="M114.4 250.9h0M178.3 284.8h0M101.5 227.8h0M182.3 293.8h0M128.6 266.5h0M90.5 228.3h0M155.2 280.8h0M152.9 284.0h0M210.9 296.9h0M207.6 306.4h0M146.0 297.5h0M82.6 223.6h0M142.7 290.5h0M116.4 269.2h0M89.9 223.8h0M145.7 268.5h0M172.9 293.0h0M93.7 222.1h0M98.1 227.8h0M81.5 210.1h0M129.8 287.3h0M151.7 276.2h0M95.1 208.2h0M106.2 250.9h0M136.3 271.7h0M135.0 249.9h0M104.7 238.9h0M155.6 285.5h0M110.2 274.2h0M101.3 225.9h0M101.7 245.0h0M83.1 225.6h0M118.1 273.2h0M99.6 212.6h0M120.0 285.1h0M143.7 294.7h0M124.0 277.7h0M196.4 302.3h0M92.7 223.3h0M117.1 252.5h0M135.3 295.3h0M162.1 276.1h0M82.5 229.3h0M104.7 241.2h0M192.8 304.7h0M105.6 261.5h0M137.2 283.7h0M114.5 260.3h0M95.0 256.4h0M133.2 284.6h0M112.1 271.2h0M162.7 269.8h0M98.4 250.4h0M87.6 182.3h0M130.2 285.8h0M133.1 272.0h0M174.4 302.9h0M135.0 286.6h0M195.8 287.8h0M141.0 286.3h0M113.4 267.7h0"/><path stroke="#2e6d8e" stroke-opacity="0.8" d="M114.5 219.2h0M187.4 270.9h0"/><path stroke="#2e6d8e" stroke-opacity="0.55" d="M211.2 286.5h0"/><path stroke="#2a778e" d="M85.6 188.7h0M176.4 295.2h0M104.7 248.3h0M166.2 297.5h0M107.5 245.7h0M90.0 211.0h0M92.5 242.9h0M146.4 279.3h0M102.9 259.9h0M117.4 283.3h0M167.2 294.5h0M79.6 174.8h0M109.0 225.0h0M108.5 251.6h0M81.3 176.8h0M211.9 306.0h0M91.7 243.4h0M165.0 299.4h0M162.6 303.4h0M111.1 239.5h0M188.8 296.0h0M105.9 264.3h0M85.4 224.5h0M138.3 264.4h0M128.2 256.6h0M165.2 300.4h0M104.7 247.1h0M124.2 281.5h0M141.1 290.2h0M99.2 243.1h0M166.4 292.2h0M109.0 259.9h0M103.3 260.6h0M91.1 204.1h0M98.2 234.3h0M121.4 277.5h0M173.6 294.7h0M87.3 219.1h0M162.3 282.5h0M139.8 294.8h0M104.9 240.6h0"/><path stroke="#26828e" d="M90.3 227.3h0M150.4 274.7h0M92.5 244.3h0M147.1 290.5h0M204.5 305.5h0M105.5 251.8h0M177.1 301.5h0M136.8 293.3h0M166.7 278.8h0M94.7 255.1h0M121.4 269.4h0M94.7 247.2h0M152.1 294.8h0M126.2 264.0h0M105.3 218.6h0M122.8 280.6h0M108.4 201.6h0M117.4 267.1h0M94.9 220.4h0M228.6 304.4h0M101.2 256.3h0M122.6 267.1h0M117.9 278.7h0M114.0 270.9h0M143.6 283.6h0M138.3 260.3h0M98.7 242.8h0M104.6 259.6h0M117.5 281.9h0M92.4 223.9h0M145.7 300.5h0M102.0 265.7h0M125.9 276.4h0M113.9 267.3h0M87.2 198.5h0M83.9 209.2h0M149.2 287.1h0M85.6 237.7h0M142.9 281.2h0M157.9 292.1h0M136.7 273.1h0M156.2 286.3h0M119.0 288.6h0M126.0 287.0h0"/><path stroke="#228b8d" d="M98.4 230.3h0M124.3 260.7h0M118.7 283.3h0M94.0 246.6h0M149.3 297.4h0M98.9 249.1h0M89.3 219.2h0M133.1 285.2h0M156.0 289.7h0M151.4 280.8h0M129.1 281.7h0M153.5 298.6h0M181.0 297.6h0M87.3 225.3h0M103.1 230.9h0M145.0 283.9h0M126.4 253.5h0M87.6 231.6h0M115.4 284.5h0M156.2 291.2h0M201.2 303.5h0M94.3 239.9h0M142.6 276.8h0M100.7 242.5h0M90.8 199.4h0M135.3 246.5h0M83.0 220.1h0"/><path stroke="#1f958b" d="M87.2 200.4h0M146.8 289.4h0M143.1 295.9h0M128.5 282.5h0M129.3 282.0h0M209.8 307.5h0M121.3 263.0h0M116.6 273.6h0M176.5 298.3h0M83.8 211.4h0M130.8 275.9h0M135.0 276.9h0M89.5 248.9h0M98.9 183.3h0M126.0 270.9h0M151.1 303.5h0"/><path stroke="#1fa088" d="M139.8 280.9h0M78.4 160.6h0M163.1 296.4h0M192.7 295.6h0M105.6 249.9h0M137.9 280.1h0M83.7 211.8h0M123.7 259.2h0M118.4 281.6h0M97.8 264.8h0"/><path stroke="#23a983" d="M121.4 271.8h0M189.8 305.8h0M83.5 237.6h0"/><path stroke="#2eb37c" d="M137.6 290.2h0M198.4 307.7h0"/><path stroke="#46085c" d="M125.4 242.4h0M137.3 264.3h0M104.8 226.6h0M152.3 288.6h0M189.5 301.8h0M128.4 281.0h0M82.4 197.0h0M113.5 244.7h0M130.1 255.3h0M124.3 273.9h0M159.6 294.6h0M82.5 206.4h0M94.0 244.2h0M112.7 226.5h0M88.4 235.7h0M177.1 294.5h0M91.4 230.6h0M99.0 203.6h0M214.0 299.9h0M187.2 300.1h0M226.1 305.3h0M97.4 247.9h0M182.9 304.1h0M154.9 297.6h0M176.6 305.0h0M90.8 247.7h0M86.0 248.7h0M151.7 290.7h0M85.5 213.7h0M82.6 199.9h0M132.7 267.6h0M196.6 298.8h0M95.0 273.7h0M86.7 230.2h0M217.5 301.6h0M78.9 163.0h0M99.1 244.5h0M92.8 175.5h0M204.5 307.6h0M157.5 289.6h0M88.7 216.5h0M145.2 286.8h0M151.7 263.8h0M126.0 255.4h0M150.9 288.7h0M84.4 221.7h0M85.6 238.3h0M221.1 300.3h0M99.7 250.4h0M199.5 290.6h0M147.2 277.1h0M119.4 280.4h0M112.8 189.8h0M86.9 205.0h0"/><path stroke="#46085c" stroke-opacity="0.8" d="M79.3 130.7h0"/><path stroke="#46085c" stroke-opacity="0.55" d="M87.8 136.5h0M87.3 141.4h0M90.1 146.5h0"/><path stroke="#48186a" d="M92.2 234.1h0M99.7 227.3h0M87.5 222.8h0M114.9 257.9h0M79.1 174.1h0M95.7 211.1h0M141.8 283.0h0M227.4 303.8h0M161.7 297.1h0M156.3 283.0h0M176.1 298.7h0M134.3 285.1h0M105.2 238.6h0M120.8 277.5h0M164.6 282.7h0M132.3 280.4h0M187.8 304.5h0M176.1 303.6h0M91.1 199.6h0M122.7 240.7h0M146.3 251.3h0M179.7 292.1h0M185.6 278.6h0M87.0 167.0h0M104.6 246.1h0M89.7 165.8h0M80.2 194.1h0M89.8 167.2h0M143.9 293.8h0M161.5 299.8h0M193.3 302.2h0M79.3 137.4h0M120.6 260.8h0M100.4 228.4h0M79.5 177.1h0M89.0 163.4h0M156.9 291.4h0M99.4 252.0h0M78.6 198.8h0M124.2 238.6h0M195.4 305.2h0M129.2 279.2h0M91.6 210.8h0M98.4 239.4h0M83.9 179.5h0M161.7 301.1h0M166.0 294.1h0M143.7 290.4h0M85.3 197.5h0M137.8 264.0h0M84.4 212.5h0M95.1 249.0h0M120.1 250.9h0M83.8 174.0h0M108.9 247.1h0M78.5 187.3h0M157.9 276.4h0M161.9 280.4h0M91.8 237.8h0M213.1 307.4h0M132.6 287.2h0M91.4 246.3h0M104.6 277.9h0M82.0 192.3h0M113.6 245.6h0M101.2 264.8h0M98.5 194.0h0M122.7 264.8h0M164.8 305.7h0M153.8 295.6h0M91.6 199.9h0M82.3 173.5h0M80.1 207.7h0M82.8 213.0h0M82.8 208.9h0"/><path stroke="#48186a" stroke-opacity="0.8" d="M169.1 257.5h0M200.6 283.8h0M182.7 278.4h0M126.1 217.2h0M179.3 279.4h0"/><path stroke="#48186a" stroke-opacity="0.55" d="M145.2 202.3h0"/><path stroke="#482576" d="M88.0 224.3h0M78.7 166.9h0M221.6 303.0h0M174.4 277.3h0M79.9 199.7h0M82.5 201.9h0M187.4 298.4h0M137.4 295.2h0M177.4 301.6h0M86.8 212.3h0M146.6 296.5h0M127.2 258.6h0M85.5 205.4h0M135.5 292.7h0M123.5 284.9h0M141.8 279.0h0M174.0 304.6h0M196.9 305.8h0M199.3 307.5h0M188.8 297.6h0M132.6 273.1h0M174.9 293.5h0M86.2 239.4h0M191.9 303.0h0M98.5 229.9h0M88.7 250.8h0M188.1 276.4h0M195.0 304.8h0M127.9 269.9h0M122.2 263.3h0M196.9 299.6h0M123.7 249.9h0M167.9 303.3h0M194.5 303.0h0M135.0 292.3h0M78.6 200.4h0M102.4 267.0h0M136.1 269.3h0M189.0 284.6h0M84.6 175.3h0M120.5 244.3h0M116.3 262.5h0M120.8 220.4h0M81.0 176.7h0M147.9 297.8h0M141.6 238.2h0M114.6 284.0h0M111.4 232.4h0M221.6 301.4h0M87.0 196.0h0M210.7 298.1h0M116.0 240.4h0M82.6 189.4h0M116.8 274.3h0M133.8 296.0h0M88.6 226.2h0M86.2 211.8h0M186.1 307.4h0M173.5 290.7h0M160.8 287.1h0M215.1 307.7h0M202.4 305.6h0M143.8 279.0h0M204.5 303.5h0M79.0 200.2h0M87.0 220.8h0M184.3 290.6h0M173.4 296.1h0M86.3 190.0h0M186.3 294.2h0M108.6 232.3h0M84.0 181.1h0M78.7 183.8h0M95.9 220.7h0M79.5 170.9h0M107.9 290.2h0M120.5 255.6h0M154.7 287.1h0M79.1 187.4h0M183.9 305.4h0M98.9 257.0h0M155.7 307.1h0M99.8 221.2h0M198.0 303.3h0M134.2 301.5h0M80.7 202.1h0M100.7 186.3h0M191.2 299.1h0M88.1 246.1h0M79.9 208.2h0M109.6 236.7h0M79.0 154.3h0"/><path stroke="#482576" stroke-opacity="0.8" d="M181.3 263.4h0M93.2 175.1h0M206.8 291.3h0M159.9 248.0h0M137.7 235.8h0M222.4 299.8h0"/><path stroke="#482576" stroke-opacity="0.55" d="M157.8 241.4h0M121.9 194.1h0"/><path stroke="#46337f" d="M92.6 219.6h0M93.9 189.7h0M90.0 221.1h0M84.9 201.0h0M89.3 176.9h0M182.4 303.9h0M103.3 226.6h0M147.2 249.9h0M109.3 256.8h0M208.1 302.9h0M153.4 299.0h0M178.2 299.8h0M108.8 261.8h0M127.6 255.2h0M85.4 180.6h0M147.9 303.8h0M86.6 203.3h0M90.0 203.0h0M91.2 238.9h0M170.7 284.0h0M164.9 293.6h0M185.9 304.4h0M132.5 259.8h0M156.0 282.5h0M111.7 235.4h0M102.7 224.0h0M181.2 291.3h0M102.0 209.1h0M204.7 301.5h0M197.7 306.2h0M79.4 144.2h0M192.0 305.7h0M86.2 195.0h0M159.9 293.0h0M80.3 173.0h0M147.2 281.0h0M135.0 280.3h0M125.5 270.0h0M206.5 303.8h0M190.0 297.8h0M107.0 247.3h0M211.7 302.2h0M144.4 264.8h0M85.4 240.2h0M108.7 272.2h0M140.2 248.2h0M158.2 300.2h0M87.6 214.8h0M99.8 265.3h0M148.0 255.6h0M185.4 289.8h0M126.2 292.7h0M192.3 302.1h0M80.5 159.5h0M78.4 183.4h0M196.1 302.2h0M85.3 193.9h0M139.5 275.5h0M88.4 193.9h0M90.4 211.2h0M145.3 295.2h0M110.5 240.9h0M147.6 264.3h0M79.7 194.0h0M174.3 299.7h0M125.1 251.8h0M113.4 243.1h0M98.9 247.4h0M171.3 291.6h0M93.2 219.1h0M151.8 302.2h0M87.6 248.7h0M81.7 175.2h0M92.4 217.4h0M186.4 306.4h0M152.0 276.3h0M109.9 275.6h0M201.3 289.6h0M146.3 296.3h0M123.9 265.5h0M136.7 282.3h0M187.4 297.6h0M133.2 300.6h0M87.9 240.2h0M140.8 282.9h0M98.4 261.8h0M179.1 300.1h0M107.8 282.0h0M226.1 305.7h0M81.2 248.5h0M111.2 270.1h0M128.1 288.7h0M130.9 261.7h0M186.6 305.6h0M94.6 225.4h0M154.7 276.9h0M123.7 256.4h0M156.1 280.2h0M128.0 294.3h0M82.9 228.7h0M130.6 274.1h0M183.8 262.0h0M126.6 293.4h0M131.1 270.6h0M148.1 257.8h0M110.4 244.9h0M111.8 243.5h0M106.7 254.2h0M122.8 268.1h0M112.9 276.3h0M117.3 254.7h0M86.4 217.3h0M85.2 248.8h0M80.0 200.7h0M109.3 200.8h0M187.0 301.9h0M211.3 299.0h0M108.6 265.5h0M182.2 297.2h0M148.2 286.3h0M88.1 250.6h0M81.1 174.8h0M86.0 164.6h0M131.6 279.0h0M207.6 296.8h0M161.3 278.9h0M212.7 303.6h0M149.1 295.8h0M92.9 239.9h0M198.5 306.6h0M166.1 296.1h0M116.2 244.7h0M108.9 260.6h0M136.3 284.9h0M99.2 259.0h0M151.1 288.9h0M112.2 273.4h0M131.9 278.9h0M152.1 263.6h0M89.8 243.6h0"/><path stroke="#46337f" stroke-opacity="0.8" d="M103.5 180.9h0"/><path stroke="#46337f" stroke-opacity="0.55" d="M172.0 231.8h0M153.1 204.0h0M174.9 270.3h0M180.5 250.9h0"/><path stroke="#424086" d="M89.4 174.9h0M102.2 261.7h0M89.3 225.3h0M147.1 287.4h0M198.5 286.2h0M125.4 261.6h0M147.5 271.4h0M79.2 153.1h0M120.1 247.2h0M86.5 231.1h0M120.3 224.0h0M150.7 286.3h0M109.6 248.4h0M108.1 236.8h0M171.8 290.1h0M133.3 277.1h0M223.0 300.4h0M154.5 288.4h0M131.8 288.0h0M174.3 303.8h0M133.2 285.8h0M107.9 260.1h0M148.2 251.1h0M126.5 294.8h0M78.5 153.2h0M99.1 229.0h0M80.1 213.1h0M184.4 306.1h0M121.1 270.3h0M79.3 196.2h0M180.3 291.1h0M124.4 260.1h0M214.6 306.3h0M115.1 255.7h0M134.9 271.6h0M162.5 290.2h0M150.8 281.2h0M94.1 240.7h0M83.3 171.5h0M93.5 254.9h0M117.1 284.4h0M139.4 256.7h0M138.7 289.6h0M154.1 286.0h0M167.9 283.2h0M188.0 287.9h0M201.6 306.1h0M124.7 241.4h0M143.4 266.0h0M107.0 220.3h0M92.7 207.8h0M130.6 240.3h0M101.2 255.1h0M144.1 260.7h0M173.8 306.8h0M137.8 289.5h0M142.3 300.7h0M152.3 280.9h0M101.9 248.8h0M94.8 214.1h0M100.4 229.9h0M124.8 283.9h0M97.1 249.6h0M94.8 219.9h0M78.9 181.2h0M163.0 297.9h0M112.5 272.0h0M117.8 256.3h0M84.5 219.1h0M108.7 248.6h0M146.1 300.8h0M176.7 300.1h0M95.1 212.4h0M100.9 276.2h0M80.2 160.5h0M153.0 299.2h0M80.0 180.2h0M122.6 261.1h0M110.7 221.7h0M110.5 279.3h0M126.9 265.7h0M85.9 221.6h0M95.7 247.3h0M195.2 299.5h0M97.7 262.9h0M159.8 296.3h0M177.4 302.7h0M138.3 279.6h0M123.7 238.3h0M91.2 244.8h0M127.0 278.0h0M136.4 297.0h0M163.3 305.8h0M136.1 296.3h0M116.4 226.2h0M92.0 212.0h0M83.6 220.1h0M153.4 291.7h0M91.9 211.2h0M100.4 223.9h0M123.9 259.4h0M85.0 198.0h0M154.4 287.1h0M95.7 223.1h0M142.8 287.3h0M86.5 161.8h0M78.6 193.1h0M142.0 262.6h0M121.7 263.9h0M87.4 197.2h0M83.9 215.4h0M146.1 303.0h0M148.5 291.1h0M87.0 235.2h0M87.5 193.6h0M195.0 306.6h0M191.2 304.6h0M85.1 197.1h0M103.3 296.5h0M170.8 295.7h0M224.8 307.7h0M159.7 297.1h0M84.1 158.5h0M86.1 211.7h0M138.9 255.4h0M171.5 297.9h0M148.4 260.8h0M79.7 189.5h0M129.8 280.3h0M131.5 296.0h0M106.9 257.4h0M88.0 241.9h0M105.0 272.3h0M98.4 256.4h0M90.5 260.5h0"/><path stroke="#424086" stroke-opacity="0.8" d="M171.2 258.3h0M114.3 209.6h0M206.0 291.5h0"/><path stroke="#424086" stroke-opacity="0.55" d="M164.5 238.9h0"/><path stroke="#3e4c8a" d="M135.7 289.3h0M111.2 276.2h0M125.9 267.0h0M100.7 247.3h0M185.7 299.2h0M116.2 253.8h0M196.7 298.2h0M125.8 282.6h0M159.4 285.1h0M86.6 215.1h0M201.8 305.5h0M91.5 226.7h0M89.9 212.9h0M87.8 217.5h0M132.4 277.2h0M85.3 233.9h0M94.0 223.9h0M160.9 288.6h0M146.6 272.1h0M208.9 304.7h0M130.2 272.8h0M96.1 200.7h0M89.4 203.9h0M136.7 291.8h0M99.9 246.2h0M116.3 271.7h0M156.4 279.1h0M135.4 284.2h0M166.3 279.0h0M153.9 282.4h0M118.4 238.3h0M112.0 240.8h0M113.2 259.8h0M108.9 241.8h0M184.7 263.7h0M117.2 276.0h0M128.0 263.7h0M124.4 276.3h0M84.4 173.7h0M90.5 233.0h0M107.1 240.0h0M94.5 214.0h0M193.0 299.4h0M139.0 286.8h0M87.8 208.4h0M162.1 296.4h0M144.7 272.2h0M210.7 307.6h0M124.8 250.1h0M137.2 287.7h0M90.4 224.0h0M166.9 288.7h0M166.2 286.5h0M119.0 274.1h0M97.8 240.9h0M93.6 220.6h0M121.9 236.0h0M168.7 295.9h0M97.7 214.8h0M121.9 271.0h0M120.1 273.5h0M101.1 254.6h0M97.1 252.4h0M124.0 272.5h0M142.7 301.3h0M148.4 302.5h0M155.5 294.9h0M119.4 281.7h0M79.6 216.9h0M166.8 283.8h0M144.3 300.7h0M151.3 282.7h0M111.0 272.9h0M175.6 300.8h0M139.4 280.1h0M84.2 216.3h0M89.3 191.9h0M128.7 267.6h0M114.8 274.0h0M84.3 204.5h0M82.7 189.9h0M106.1 216.4h0M97.9 235.9h0M105.6 262.5h0M127.8 267.7h0M81.8 224.6h0M106.3 280.6h0M173.9 301.4h0M118.2 256.5h0M137.0 295.3h0M102.2 229.6h0M97.4 248.5h0M111.4 274.1h0M135.0 272.0h0M88.4 224.8h0M80.8 214.0h0M159.7 300.0h0M207.9 297.8h0M150.1 265.1h0M86.1 223.7h0M154.8 292.6h0M100.5 235.7h0M79.7 197.7h0M86.3 232.5h0M154.0 285.8h0M104.0 265.0h0M122.7 274.5h0M123.9 296.3h0M163.6 296.0h0M188.6 305.1h0M148.3 288.5h0M158.1 293.2h0M167.8 294.6h0M110.3 273.8h0M105.3 258.0h0M129.3 247.8h0M81.5 223.9h0M90.6 258.6h0M83.4 233.5h0M141.8 247.8h0M106.9 289.2h0M149.3 293.2h0M152.0 303.0h0M112.3 265.0h0M119.8 241.2h0M103.1 241.0h0M92.5 214.3h0M105.1 218.2h0M80.8 183.2h0M138.9 299.6h0M83.0 199.7h0M86.7 182.5h0M125.9 237.2h0M80.4 188.9h0M136.1 253.7h0M109.3 225.6h0M86.9 227.1h0M96.0 251.3h0M177.5 305.5h0M130.2 271.6h0M104.5 273.9h0M110.5 235.2h0M115.1 263.3h0M89.7 166.4h0M128.3 283.6h0M154.7 302.9h0M105.4 257.4h0M198.5 291.0h0M119.6 270.3h0M100.1 267.8h0M174.2 305.1h0M94.3 227.0h0M89.7 245.4h0M112.3 286.3h0"/><path stroke="#3e4c8a" stroke-opacity="0.8" d="M111.4 186.9h0M126.2 221.4h0M122.7 215.6h0M121.8 208.6h0M142.6 252.3h0"/><path stroke="#3e4c8a" stroke-opacity="0.55" d="M139.9 224.8h0M183.5 271.2h0M140.8 195.5h0M179.8 252.4h0"/><path stroke="#38588c" d="M147.3 279.7h0M169.0 303.0h0M110.6 281.9h0M115.7 259.7h0M89.2 249.4h0M96.7 227.6h0M84.6 225.8h0M93.7 244.0h0M127.6 273.5h0M159.2 298.2h0M112.9 260.3h0M85.3 224.8h0M131.5 253.3h0M127.3 282.1h0M159.1 266.6h0M107.2 249.1h0M119.7 235.1h0M120.4 283.5h0M150.2 287.0h0M150.2 286.4h0M97.4 228.4h0M86.0 208.6h0M169.8 289.0h0M178.7 293.8h0M116.5 252.6h0M179.6 300.2h0M133.0 288.5h0M137.4 280.1h0M172.2 302.3h0M82.5 203.9h0M128.7 287.2h0M169.5 291.3h0M91.5 229.9h0M89.5 192.3h0M153.2 276.3h0M148.1 284.7h0M114.6 281.2h0M99.1 218.5h0M86.5 219.9h0M86.1 207.3h0M147.4 289.3h0M85.6 200.9h0M87.7 185.5h0M185.5 306.9h0M108.0 267.0h0M101.1 247.6h0M97.6 219.7h0M133.7 260.2h0M82.6 210.4h0M184.8 286.7h0M104.6 255.2h0M167.7 304.4h0M94.0 254.0h0M94.0 239.5h0M152.2 275.2h0M164.3 294.8h0M131.0 289.1h0M111.8 257.8h0M125.0 279.5h0M161.3 298.3h0M91.2 246.3h0M125.4 256.3h0M107.0 280.4h0M98.0 265.0h0M119.4 272.7h0M112.0 255.0h0M184.0 294.2h0M168.8 300.5h0M112.1 269.0h0M105.1 262.0h0M158.4 298.6h0M93.9 248.1h0M143.5 274.6h0M94.0 229.9h0M110.2 207.6h0M174.9 301.7h0M115.8 278.0h0M135.4 289.1h0M131.4 284.9h0M149.5 302.1h0M208.8 299.9h0M167.5 297.3h0M101.3 267.8h0M95.1 195.5h0M123.9 278.2h0M98.9 243.5h0M79.6 198.0h0M120.6 266.2h0M143.4 300.2h0M110.4 267.6h0M84.3 233.6h0M132.5 272.1h0M139.3 300.0h0M196.6 305.1h0M138.8 279.4h0M87.4 169.2h0M100.7 228.1h0M111.7 246.7h0M138.3 298.4h0M95.4 245.4h0M88.7 230.9h0M115.9 285.5h0M146.1 293.7h0M88.5 237.1h0M150.5 296.1h0M88.5 233.3h0M146.8 291.0h0M78.4 173.0h0M126.0 291.7h0M88.0 208.0h0M96.4 250.8h0M120.9 251.7h0M84.8 236.6h0M88.6 214.7h0M79.0 160.4h0M145.8 294.1h0M87.5 207.7h0M101.1 251.9h0M107.2 290.2h0M109.1 285.4h0M175.3 292.3h0M83.8 229.3h0M87.9 206.9h0M152.7 277.3h0M94.4 253.4h0M136.2 293.5h0M80.7 197.4h0M104.0 271.3h0M114.7 267.0h0M115.5 276.7h0M127.5 267.1h0M90.8 207.0h0M92.2 235.0h0M162.1 304.8h0M117.3 265.6h0M85.4 214.2h0M98.8 231.8h0M120.9 242.6h0M155.2 302.9h0M95.0 219.3h0M100.0 226.8h0M116.8 279.3h0M146.4 301.4h0M103.7 266.5h0M86.6 181.1h0M136.2 285.4h0M136.9 280.3h0M97.0 271.4h0M202.9 307.4h0M85.0 229.1h0M175.1 286.9h0M190.3 301.7h0M119.4 279.4h0M146.3 292.6h0M92.6 245.4h0M79.9 206.9h0M128.0 271.3h0M137.7 286.5h0M78.9 173.1h0"/><path stroke="#38588c" stroke-opacity="0.55" d="M131.4 199.2h0M221.4 288.7h0"/><path stroke="#33638d" d="M84.5 222.6h0M116.5 260.3h0M125.2 278.4h0M127.4 275.8h0M127.7 268.5h0M197.3 288.0h0M127.3 283.2h0M87.5 209.2h0M84.3 242.5h0M162.7 292.5h0M135.0 281.8h0M184.6 301.2h0M115.7 253.5h0M127.8 287.5h0M105.6 243.4h0M85.4 244.5h0M102.9 265.6h0M168.8 301.8h0M154.5 282.9h0M95.5 256.5h0M90.1 224.4h0M203.2 303.9h0M106.1 263.0h0M87.2 234.3h0M116.7 263.5h0M141.9 241.6h0M79.8 193.0h0M103.2 258.0h0M131.9 280.9h0M119.2 243.0h0M87.1 221.9h0M101.0 243.0h0M83.6 203.0h0M138.9 259.6h0M122.5 250.3h0M197.1 307.3h0M131.5 283.5h0M118.8 270.2h0M145.5 290.7h0M121.4 278.6h0M168.0 284.2h0M126.1 253.9h0M150.9 292.8h0M155.0 294.0h0M82.5 214.1h0M158.8 285.3h0M103.7 211.9h0M82.5 224.3h0M105.5 266.8h0M105.6 267.5h0M190.8 299.5h0M135.5 276.8h0M104.6 247.7h0M164.4 297.6h0M98.1 253.0h0M83.6 208.6h0M105.5 256.2h0M169.6 299.4h0M165.6 297.1h0M102.5 187.4h0M82.6 208.5h0M107.4 278.0h0M156.6 288.9h0M90.3 206.3h0M123.2 247.6h0M154.0 289.7h0M121.9 225.0h0M189.6 301.8h0M207.0 303.3h0M112.2 259.4h0M90.8 225.4h0M100.7 259.0h0M126.8 285.7h0M96.5 214.4h0M139.2 278.6h0M167.6 296.0h0M128.2 293.4h0M150.0 297.5h0M119.0 287.0h0M116.0 283.4h0M108.5 264.0h0M86.6 208.7h0M120.2 245.8h0M192.9 303.1h0M194.3 290.5h0M150.1 270.6h0M105.1 266.6h0M147.8 297.9h0M88.1 200.8h0M138.7 287.5h0M147.9 260.3h0M183.6 291.9h0M87.5 254.0h0M138.0 296.4h0M125.3 293.4h0M135.9 293.8h0M128.7 261.6h0M191.1 303.0h0M109.8 274.0h0M96.0 282.7h0M157.0 295.6h0M158.7 300.5h0M118.4 272.1h0M102.5 236.8h0M88.6 246.8h0M148.9 293.0h0M131.1 293.2h0M106.5 244.3h0M103.2 242.5h0M116.0 259.3h0M123.9 294.5h0M85.3 227.0h0M172.7 304.9h0M117.2 265.2h0M151.4 294.3h0M102.8 239.3h0M86.1 253.2h0M90.2 250.6h0M126.6 264.9h0M124.1 284.2h0M96.8 199.9h0M148.8 300.0h0M86.4 168.9h0M113.9 273.0h0M105.7 224.1h0M130.7 282.6h0M96.2 248.4h0M93.9 204.7h0M103.0 238.2h0M128.0 251.7h0M88.5 242.2h0M152.3 293.2h0M91.5 200.4h0M137.5 278.2h0M116.3 285.2h0M117.1 252.0h0M113.6 284.1h0M230.7 306.2h0M134.3 248.2h0M115.0 267.0h0M118.2 275.1h0M91.7 266.2h0M141.5 295.6h0M150.1 291.2h0M100.8 256.2h0M118.6 287.2h0M152.3 282.3h0M93.4 219.3h0M91.9 262.9h0M89.1 247.5h0M92.3 226.1h0M140.7 299.8h0M102.1 268.5h0M117.4 281.4h0M87.3 228.2h0M155.3 295.3h0M85.0 243.8h0M101.4 253.2h0M141.2 287.5h0M106.7 233.2h0M125.7 296.0h0M111.4 278.4h0M104.4 236.2h0M80.6 241.2h0M104.4 272.7h0M122.3 254.2h0"/><path stroke="#33638d" stroke-opacity="0.55" d="M210.7 264.0h0"/><path stroke="#2e6d8e" d="M105.8 243.8h0M106.7 242.3h0M146.2 299.2h0M83.8 230.5h0M154.6 276.3h0M86.8 200.7h0M111.5 233.3h0M133.8 279.0h0M188.1 304.3h0M82.9 205.5h0M94.5 244.4h0M104.2 253.0h0M133.8 261.8h0M113.8 249.7h0M136.9 273.8h0M96.4 254.8h0M112.9 269.2h0M164.3 303.5h0M90.8 242.9h0M156.8 291.8h0M92.1 244.6h0M136.1 286.6h0M159.5 301.4h0M175.2 287.5h0M167.6 299.5h0M141.6 273.6h0M112.7 275.6h0M102.9 252.0h0M166.8 294.0h0M145.1 298.9h0M170.0 286.3h0M137.9 284.7h0M142.6 293.9h0M87.3 229.7h0M178.0 289.5h0M82.3 218.3h0M203.7 301.1h0M146.6 300.5h0M84.7 241.9h0M126.2 286.4h0M114.6 262.0h0M87.6 223.4h0M123.4 285.2h0M168.7 291.8h0M173.6 287.2h0M120.3 262.8h0M154.4 305.9h0M164.5 299.1h0M183.5 282.4h0M163.0 297.7h0M199.2 298.3h0M109.2 229.4h0M141.1 290.8h0M134.1 288.2h0M130.5 293.4h0M186.5 290.7h0M187.6 305.9h0M134.1 273.4h0M99.5 271.9h0M131.6 271.9h0M145.4 290.3h0M119.3 229.7h0M145.2 301.5h0M89.3 242.7h0M81.7 187.3h0M119.3 269.0h0M83.7 236.4h0M125.9 286.3h0M157.5 284.0h0M155.1 301.3h0M178.8 305.1h0M88.4 248.4h0M137.6 251.5h0M158.9 283.0h0M109.3 258.3h0M92.9 234.9h0M114.2 249.2h0M78.9 193.5h0M81.9 229.3h0M88.7 196.3h0M113.8 234.2h0M127.9 230.7h0M113.5 268.9h0M163.5 290.7h0M143.8 297.5h0M181.0 290.5h0M111.5 271.5h0M148.0 294.2h0M111.5 268.3h0M80.4 204.4h0M96.9 215.3h0M168.0 305.5h0M115.1 263.9h0M81.9 241.3h0M118.8 231.0h0"/><path stroke="#2e6d8e" stroke-opacity="0.8" d="M181.0 263.3h0"/><path stroke="#2a778e" d="M113.8 262.5h0M98.1 240.7h0M104.7 239.4h0M160.1 301.7h0M111.0 269.3h0M133.9 282.1h0M154.2 293.6h0M117.1 268.4h0M84.7 224.5h0M167.5 283.9h0M152.0 292.2h0M94.9 246.9h0M81.0 216.5h0M96.7 239.2h0M86.3 241.2h0M119.5 261.3h0M153.3 297.1h0M111.0 262.6h0M179.1 305.7h0M107.7 244.7h0M109.7 262.6h0M172.3 302.6h0M107.4 279.5h0M89.3 240.2h0M127.7 288.1h0M178.6 285.6h0M137.8 285.3h0M113.2 279.5h0M135.3 285.9h0M146.9 294.8h0M117.8 260.3h0M96.9 264.2h0M124.2 280.7h0M118.9 223.7h0M145.2 293.2h0M99.0 215.5h0M90.4 251.9h0M163.3 302.8h0M108.6 286.6h0M163.9 305.0h0M126.2 278.2h0M165.5 303.5h0M187.2 296.8h0M82.8 209.6h0M138.9 261.7h0M138.8 262.7h0M130.6 291.3h0M103.9 262.9h0M119.9 291.2h0M121.4 268.5h0M160.6 265.3h0M128.2 262.9h0M166.8 306.2h0M117.5 275.1h0M98.8 246.9h0M111.6 248.3h0M113.5 271.3h0M125.7 288.7h0M85.3 260.2h0M137.2 261.3h0M122.3 269.4h0M147.6 301.3h0M129.1 277.7h0M126.5 280.3h0M98.2 228.6h0M107.1 266.7h0M139.3 294.0h0M108.7 263.0h0M164.2 275.8h0M128.6 294.6h0M93.9 271.1h0M133.9 276.4h0M86.0 240.8h0M96.7 229.8h0M78.6 202.5h0M97.6 286.5h0M115.2 255.0h0M104.6 270.6h0M146.1 303.9h0M119.8 281.8h0M175.1 297.3h0M158.7 287.5h0M99.5 268.9h0M79.3 183.8h0M148.7 290.4h0M87.3 242.4h0M91.3 236.2h0"/><path stroke="#26828e" d="M142.3 299.0h0M161.7 302.5h0M181.3 304.9h0M144.0 290.0h0M91.3 251.2h0M119.6 274.2h0M174.8 306.2h0M149.7 292.3h0M80.8 210.5h0M133.8 281.8h0M140.2 277.7h0M129.1 279.9h0M83.6 213.8h0M93.1 192.1h0M136.9 281.9h0M207.5 307.7h0M130.4 273.6h0M103.3 265.5h0M87.9 241.5h0M98.4 263.3h0M82.5 202.7h0M138.1 291.3h0M98.8 233.4h0M84.9 245.7h0M124.5 295.7h0M109.4 246.9h0M107.0 271.4h0M121.9 263.1h0M80.6 211.6h0M120.8 278.3h0M103.4 247.3h0M145.4 288.7h0M90.8 211.7h0M120.4 278.0h0M131.8 289.7h0M131.9 259.0h0M82.8 249.2h0M122.4 281.3h0M107.3 285.0h0M160.3 286.7h0M104.8 252.9h0M175.9 307.1h0M107.4 263.9h0M125.5 292.0h0M135.1 288.0h0M86.3 232.0h0M116.9 277.5h0M160.2 304.1h0M125.6 283.5h0M126.5 289.9h0M159.5 292.5h0M96.7 236.7h0M161.2 301.5h0M144.1 286.7h0M114.4 269.7h0M122.0 299.0h0M142.1 296.5h0M101.8 277.6h0M90.1 241.5h0M165.7 302.6h0M88.9 251.2h0M143.9 280.9h0M95.0 238.0h0M156.3 301.0h0"/><path stroke="#228b8d" d="M124.5 277.5h0M123.8 283.1h0M99.2 265.5h0M81.2 196.9h0M136.1 283.1h0M138.6 296.0h0M129.2 274.1h0M155.2 298.1h0M87.9 162.3h0M130.3 279.2h0M83.2 226.6h0M115.8 245.7h0M85.1 238.4h0M104.0 256.0h0M174.6 304.4h0M148.8 298.4h0M101.3 243.5h0M97.7 260.0h0M187.0 300.9h0M146.9 298.7h0M103.2 251.2h0M138.3 276.5h0M101.0 271.6h0M169.7 292.5h0M156.7 306.1h0M155.9 293.2h0M89.3 236.3h0M166.0 299.7h0M144.0 297.0h0M83.3 200.2h0M106.3 244.0h0M109.2 254.0h0M116.3 272.4h0M108.3 267.9h0M93.4 255.5h0M116.1 258.2h0M89.6 231.1h0M163.2 294.0h0M94.1 245.6h0M108.9 269.4h0M100.1 262.0h0M146.2 277.0h0M153.1 297.0h0M116.3 263.7h0M95.9 253.3h0M108.2 280.8h0M122.4 288.2h0M80.2 217.7h0M99.2 248.9h0M109.7 267.0h0M104.2 272.6h0M165.3 305.1h0M104.6 258.6h0"/><path stroke="#1f958b" d="M135.8 294.2h0M140.9 291.3h0M116.5 278.8h0M134.5 295.5h0M109.0 278.6h0M205.2 307.2h0M100.8 250.3h0M103.4 278.1h0M140.3 298.7h0M154.9 290.2h0M104.0 279.4h0M146.8 300.8h0M122.8 287.0h0M124.7 292.7h0M123.0 279.4h0M84.2 234.5h0M138.1 275.7h0M111.7 276.0h0M95.3 263.9h0M92.9 253.6h0M141.6 300.9h0M88.1 244.0h0M101.3 265.7h0M113.2 278.0h0M123.9 268.3h0M95.9 271.0h0M95.8 267.0h0M157.0 305.6h0M102.8 279.6h0M96.4 230.3h0M134.8 300.1h0"/><path stroke="#1fa088" d="M151.3 302.8h0M93.2 246.3h0M110.9 280.5h0M100.9 274.5h0M115.6 274.6h0M123.8 280.2h0M216.2 300.4h0M181.8 305.8h0M101.6 268.5h0M130.0 284.1h0M96.7 226.5h0M130.8 298.8h0M100.9 257.9h0M114.8 270.4h0M133.2 297.8h0M114.8 282.4h0M87.6 271.3h0M141.3 295.0h0M128.1 289.7h0M98.2 258.0h0M132.4 285.8h0"/><path stroke="#23a983" d="M217.9 307.7h0M95.4 255.5h0M107.9 262.1h0M114.2 265.3h0M110.8 254.3h0M79.5 198.7h0M128.0 277.0h0M105.6 256.2h0M98.2 263.0h0M137.6 270.4h0M104.9 278.6h0M79.8 204.9h0M133.8 297.1h0M149.2 301.8h0M96.2 264.2h0M103.9 231.0h0M98.1 269.6h0M89.7 255.6h0M82.0 198.7h0M134.3 293.0h0M100.5 275.5h0"/><path stroke="#2eb37c" d="M107.1 281.4h0M102.2 267.6h0M115.4 288.9h0M109.3 283.5h0M131.4 298.6h0M148.9 304.0h0M110.5 279.9h0M82.5 272.3h0M136.7 299.0h0"/><path stroke="#3fbc73" d="M87.0 260.1h0M114.3 267.3h0M150.1 304.8h0M108.9 265.0h0M113.1 274.3h0"/><path stroke="#52c569" d="M78.4 176.8h0M90.9 264.1h0M190.5 305.4h0"/><path stroke="#46085c" d="M102.1 225.2h0M112.1 268.0h0M190.0 301.6h0M91.5 260.8h0M79.0 218.3h0M177.2 288.6h0M193.4 293.5h0M125.9 289.2h0M81.1 182.4h0M146.0 288.2h0M144.0 284.9h0M85.6 205.8h0M111.0 232.9h0M97.1 270.4h0M140.8 283.7h0M80.8 218.1h0M169.4 303.8h0M122.0 250.3h0M99.9 252.9h0M106.1 223.6h0M110.2 291.1h0M102.5 299.4h0M143.2 273.3h0M212.4 293.5h0M139.6 270.2h0M150.3 290.6h0M137.6 266.5h0M185.7 307.7h0M121.3 275.2h0M156.9 272.3h0M81.2 161.4h0M105.9 257.3h0M83.6 146.5h0M176.5 303.1h0M124.6 292.7h0M145.9 285.7h0M190.7 307.7h0M114.4 291.1h0"/><path stroke="#46085c" stroke-opacity="0.8" d="M232.2 304.5h0M103.0 183.5h0M162.7 269.1h0"/><path stroke="#48186a" d="M78.5 185.8h0M81.7 199.5h0M125.5 287.3h0M196.9 301.7h0M213.8 297.8h0M182.5 303.4h0M166.4 297.3h0M89.2 239.9h0M177.0 303.8h0M100.0 236.6h0M149.7 297.1h0M107.6 213.3h0M190.5 305.0h0M125.8 250.4h0M90.3 182.7h0M99.5 247.6h0M157.4 296.3h0M178.8 291.2h0M165.4 306.2h0M91.7 210.1h0M102.5 253.5h0M191.1 283.6h0M88.4 220.9h0M175.1 302.5h0M86.9 234.2h0M149.4 285.7h0M134.6 282.6h0M221.1 307.7h0M166.2 294.7h0M85.3 232.4h0M136.1 244.0h0M79.0 198.2h0M139.5 280.3h0M86.0 242.8h0M88.4 226.6h0M83.5 246.5h0M206.2 307.5h0M78.5 170.1h0M80.8 231.1h0M80.3 229.8h0M125.7 301.6h0M78.5 168.7h0M79.7 170.1h0M85.9 183.4h0M158.3 303.5h0M144.6 279.0h0M79.8 176.7h0M120.5 258.1h0"/><path stroke="#48186a" stroke-opacity="0.8" d="M219.2 298.1h0M151.2 245.6h0M195.8 279.4h0"/><path stroke="#48186a" stroke-opacity="0.55" d="M219.8 295.7h0"/><path stroke="#482576" d="M151.7 297.8h0M173.8 292.0h0M170.3 302.5h0M126.4 286.3h0M102.2 279.6h0M155.2 292.1h0M175.3 306.5h0M96.9 241.9h0M125.9 281.5h0M190.7 302.8h0M101.7 272.5h0M144.0 285.2h0M113.8 249.3h0M129.5 253.6h0M181.7 306.1h0M142.4 268.7h0M144.9 277.9h0M87.3 181.9h0M150.4 295.5h0M79.5 185.8h0M165.1 301.2h0M145.7 271.6h0M94.1 258.3h0M192.6 307.7h0M201.8 302.4h0M203.2 305.9h0M173.8 292.7h0M113.2 286.3h0M131.7 304.9h0M215.6 307.2h0M88.0 252.9h0M132.4 251.4h0M180.2 296.3h0M143.6 293.0h0M91.4 253.1h0M104.2 274.7h0M93.1 248.5h0M97.9 258.9h0M160.2 290.2h0M96.9 260.1h0M166.7 304.2h0M123.1 289.9h0M115.3 264.8h0M78.4 172.1h0M94.2 236.9h0M100.1 234.4h0M79.4 138.6h0M87.8 236.6h0M109.8 287.4h0M79.5 190.7h0M100.3 264.7h0M134.1 305.3h0M115.8 247.8h0M80.9 205.9h0M163.8 291.5h0M106.0 271.6h0M126.5 298.2h0M112.6 299.4h0"/><path stroke="#482576" stroke-opacity="0.8" d="M118.9 214.1h0M230.6 307.7h0"/><path stroke="#482576" stroke-opacity="0.55" d="M164.7 210.1h0"/><path stroke="#46337f" d="M104.6 246.1h0M85.1 188.0h0M87.9 264.8h0M88.4 226.9h0M98.2 241.7h0M153.0 281.1h0M170.9 302.3h0M164.1 301.6h0M161.0 302.4h0M101.5 248.3h0M80.1 237.2h0M91.4 223.7h0M155.9 288.5h0M150.4 292.3h0M85.7 202.9h0M135.4 258.1h0M111.2 259.8h0M95.1 274.8h0M112.5 275.3h0M78.6 200.5h0M108.6 283.3h0M169.6 305.3h0M163.4 288.0h0M94.6 267.9h0M199.4 286.2h0M81.9 240.2h0M166.7 297.2h0M167.5 300.5h0M90.3 197.0h0M179.4 306.5h0M146.4 250.7h0M85.6 228.1h0M159.1 277.5h0M150.2 298.1h0M177.5 303.5h0M200.9 307.1h0M116.9 259.1h0M106.2 273.2h0M174.3 307.6h0M89.0 238.0h0M124.4 231.3h0M98.5 254.1h0M83.9 218.2h0M153.9 287.8h0M84.4 252.4h0M97.6 215.4h0M122.9 289.4h0M217.3 307.5h0M153.1 279.1h0M94.2 266.0h0M114.9 264.8h0M78.4 170.8h0M103.1 259.3h0M105.5 278.2h0M80.9 234.7h0M162.3 286.7h0M81.8 204.9h0M110.4 280.2h0M136.1 290.6h0M112.9 281.1h0M134.6 280.3h0M94.2 260.1h0M186.7 299.1h0M127.2 263.8h0M197.5 307.7h0M119.6 219.1h0M81.9 244.7h0M139.5 267.4h0M226.8 306.2h0M131.0 280.8h0M143.1 302.1h0M110.0 210.6h0M85.0 215.0h0M114.5 290.5h0M119.8 236.1h0M83.1 217.9h0M106.9 243.3h0M81.9 231.5h0M96.0 274.4h0M95.0 231.4h0M138.4 293.9h0M86.2 269.0h0"/><path stroke="#46337f" stroke-opacity="0.55" d="M176.0 251.8h0"/><path stroke="#424086" d="M158.9 304.5h0M83.0 209.7h0M137.6 292.4h0M154.7 301.7h0M80.1 150.2h0M99.4 257.6h0M82.5 191.0h0M91.5 261.7h0M150.6 277.9h0M182.6 305.5h0M130.2 286.3h0M134.9 261.4h0M156.0 302.8h0M201.0 302.8h0M143.0 262.1h0M96.1 233.4h0M97.3 246.4h0M83.6 191.9h0M177.3 304.6h0M121.2 258.1h0M129.1 227.8h0M163.1 280.1h0M80.6 183.8h0M213.3 301.2h0M125.5 259.5h0M163.2 289.8h0M98.1 221.6h0M132.5 239.3h0M85.9 259.5h0M148.3 278.8h0M80.2 243.8h0M154.8 266.8h0M139.9 261.1h0M100.8 235.4h0M124.6 293.8h0M171.6 304.0h0M155.3 292.9h0M107.5 284.2h0M211.4 292.7h0M88.4 193.9h0M88.5 208.0h0M164.6 298.3h0M155.2 271.0h0M106.5 234.4h0M127.6 262.0h0M198.8 297.0h0M157.2 272.3h0M128.4 290.4h0M83.9 198.2h0M83.2 198.3h0M125.4 294.2h0M154.0 277.8h0M97.5 271.3h0M91.9 212.5h0M128.0 291.3h0M133.6 291.3h0M198.2 305.6h0M87.1 217.8h0M122.4 282.8h0M88.2 232.2h0M110.5 291.8h0M99.2 206.1h0M176.5 298.8h0M171.8 300.8h0M106.1 274.3h0M84.2 203.7h0M88.8 215.1h0M130.6 278.6h0M84.2 202.1h0M86.4 202.7h0M131.9 269.5h0M126.7 265.4h0M100.5 276.6h0M101.4 195.7h0M99.7 283.3h0M83.7 226.9h0M140.3 279.5h0M149.8 296.5h0M107.7 273.6h0M104.4 293.0h0M81.2 168.3h0M206.8 304.3h0M155.8 286.5h0M94.8 259.9h0M115.3 232.2h0M95.1 282.3h0M87.8 251.3h0M111.7 267.4h0M103.2 282.5h0M112.5 285.1h0M102.6 250.4h0M121.3 216.0h0M169.9 300.9h0M160.4 299.6h0M147.9 299.9h0M80.9 247.3h0M152.7 297.7h0M151.1 278.7h0M146.3 305.3h0M78.4 166.4h0M142.5 289.4h0M112.1 243.0h0M81.3 199.6h0M154.6 278.9h0M89.6 232.2h0"/><path stroke="#424086" stroke-opacity="0.8" d="M177.5 257.9h0"/><path stroke="#424086" stroke-opacity="0.55" d="M99.0 170.5h0M192.1 259.8h0M175.8 216.4h0"/><path stroke="#3e4c8a" d="M127.4 289.2h0M130.2 256.8h0M171.4 293.0h0M142.4 298.6h0M106.5 262.4h0M111.9 265.5h0M123.7 299.0h0M116.2 282.2h0M162.5 276.4h0M117.8 285.5h0M97.4 245.3h0M93.4 251.7h0M124.2 258.3h0M90.7 223.3h0M116.8 251.9h0M140.1 284.8h0M111.4 263.2h0M168.3 302.1h0M99.8 263.0h0M185.5 286.4h0M89.7 259.7h0M135.7 276.7h0M182.2 289.1h0M100.1 249.7h0M109.3 231.2h0M117.7 297.9h0M125.0 252.9h0M109.3 275.9h0M147.8 289.8h0M123.1 284.7h0M112.1 275.8h0M153.1 276.0h0M105.4 199.5h0M172.2 296.3h0M89.7 239.0h0M101.3 260.6h0M130.3 294.4h0M200.8 305.0h0M95.7 202.7h0M89.9 230.2h0M158.9 295.8h0M116.6 275.8h0M81.0 172.5h0M131.6 267.8h0M85.8 219.1h0M83.2 217.1h0M116.7 246.9h0M86.9 169.5h0M120.9 271.2h0M128.0 286.0h0M127.3 260.7h0M102.4 246.9h0M83.6 238.8h0M165.2 274.9h0M141.7 294.6h0M93.6 228.1h0M128.9 291.3h0M106.9 244.6h0M117.2 281.3h0M126.4 280.8h0M146.1 278.3h0M85.4 201.8h0M144.0 291.5h0M93.1 222.7h0M130.2 271.0h0M92.5 251.7h0M134.2 273.7h0M165.6 305.3h0M159.3 305.0h0M167.0 280.5h0M91.6 249.5h0M106.7 234.7h0M211.7 305.4h0M116.0 280.8h0M109.8 286.3h0M137.1 269.6h0M88.9 238.3h0M111.3 281.6h0M82.9 230.7h0M111.0 248.5h0M107.3 257.9h0M87.8 232.7h0M81.1 236.7h0M144.5 297.6h0M83.5 227.2h0M117.4 270.8h0M127.4 292.3h0M178.3 289.9h0M163.5 263.8h0M89.6 244.5h0M128.2 277.6h0M119.8 251.0h0M84.0 242.5h0M86.4 220.6h0M120.6 264.6h0M102.4 250.8h0M109.9 285.7h0M80.1 215.7h0M121.4 289.9h0M78.9 216.9h0M92.7 247.6h0M79.6 174.2h0M149.3 283.6h0M116.1 261.7h0M103.7 300.1h0M126.2 278.0h0M192.6 300.3h0M137.0 295.4h0M93.5 256.6h0M133.9 292.6h0M101.6 252.8h0M123.8 278.6h0M100.4 248.2h0M116.2 283.5h0M102.9 281.1h0M157.8 300.7h0M119.6 291.4h0M83.9 167.2h0M81.0 185.5h0M135.3 294.4h0M108.2 270.2h0M80.0 219.6h0M112.2 226.7h0M107.9 238.2h0M143.4 276.4h0M79.7 185.0h0M83.5 257.0h0M118.6 280.6h0M207.0 307.1h0M82.5 182.6h0M92.3 238.7h0M110.5 283.7h0M142.1 297.8h0M139.5 258.7h0"/><path stroke="#3e4c8a" stroke-opacity="0.55" d="M208.8 277.1h0"/><path stroke="#38588c" d="M207.3 304.1h0M178.8 306.3h0M149.0 289.0h0M79.2 206.3h0M203.6 305.3h0M96.6 240.1h0M96.5 261.1h0M216.8 307.0h0M112.8 287.3h0M120.7 281.7h0M109.1 262.5h0M174.3 306.1h0M81.4 220.1h0M106.2 259.9h0M179.2 297.7h0M122.7 224.6h0M99.9 217.0h0M131.3 285.9h0M109.0 276.7h0M93.0 229.7h0M113.6 292.5h0M81.2 218.6h0M107.0 267.8h0M136.5 279.6h0M123.0 286.5h0M100.6 222.5h0M187.7 301.2h0M147.8 299.3h0M98.5 196.5h0M189.3 273.7h0M106.9 268.1h0M107.2 240.2h0M124.6 278.1h0M176.5 299.5h0M160.5 303.3h0M95.4 252.3h0M166.3 304.8h0M115.6 268.0h0M117.4 284.1h0M157.5 276.6h0M80.1 209.4h0M148.0 288.3h0M83.2 227.5h0M95.5 241.9h0M92.5 227.0h0M94.0 224.7h0M85.0 253.3h0M100.0 257.3h0M83.1 218.3h0M214.9 305.4h0M126.5 244.8h0M83.5 195.8h0M102.2 279.0h0M140.3 263.3h0M88.9 233.8h0M87.9 244.3h0M147.3 298.7h0M116.0 241.6h0M94.8 227.8h0M123.4 249.6h0M134.6 274.3h0M132.3 304.1h0M112.1 277.0h0M219.5 304.2h0M93.2 209.2h0M119.9 258.6h0M83.0 256.9h0M119.7 282.9h0M179.6 302.7h0M96.8 226.7h0M114.5 254.7h0M187.1 291.6h0M138.1 296.3h0M93.1 233.1h0M80.4 211.8h0M88.1 238.9h0M137.3 273.6h0M135.6 291.8h0M102.0 228.2h0M79.4 170.6h0M97.9 253.8h0M116.7 291.6h0M144.6 303.0h0M82.0 217.2h0M97.0 258.0h0M109.5 279.5h0M140.5 279.3h0M195.7 306.9h0M86.6 247.2h0M85.3 218.6h0M148.1 301.7h0M115.2 280.4h0M153.4 277.0h0M139.7 258.2h0M86.1 233.5h0M177.7 303.8h0M119.9 267.4h0M132.6 275.3h0M195.3 306.2h0M95.6 227.6h0M104.0 274.9h0M81.1 204.2h0M128.9 288.6h0M141.0 247.4h0M154.2 289.0h0M185.2 295.0h0M168.8 294.2h0M101.3 234.5h0M178.2 301.8h0M138.4 296.6h0M85.9 249.9h0M80.2 195.2h0M177.3 307.4h0M141.6 293.6h0M94.1 249.3h0M170.5 299.8h0M97.8 210.9h0M87.3 266.4h0M101.6 284.0h0M122.9 297.5h0M95.7 229.1h0M126.1 291.0h0M149.4 301.5h0M88.1 259.2h0M138.6 301.3h0M159.7 306.0h0M89.5 224.0h0M117.8 245.8h0M117.2 290.1h0M90.1 262.5h0M109.0 263.9h0M123.3 227.7h0M109.4 277.6h0M83.3 219.8h0M148.1 289.5h0M124.0 281.6h0M92.9 250.0h0M153.8 306.1h0M83.4 257.9h0M145.0 293.8h0M79.0 177.5h0M152.3 296.4h0M96.0 246.0h0M90.2 252.8h0M99.1 235.2h0M101.5 284.5h0M86.6 252.6h0M86.5 213.1h0M132.8 293.3h0"/><path stroke="#38588c" stroke-opacity="0.8" d="M85.8 149.0h0M176.2 260.0h0"/><path stroke="#38588c" stroke-opacity="0.55" d="M217.6 254.4h0M237.3 292.0h0"/><path stroke="#33638d" d="M165.5 295.3h0M90.7 259.8h0M120.8 279.7h0M82.7 171.4h0M80.3 225.8h0M101.6 259.2h0M88.2 191.0h0M134.9 268.1h0M153.7 303.9h0M94.6 266.2h0M94.1 252.8h0M118.5 250.9h0M99.3 236.6h0M132.7 271.3h0M91.0 230.7h0M81.1 225.0h0M121.6 225.0h0M119.0 257.3h0M85.4 160.7h0M88.9 210.1h0M89.6 235.5h0M101.1 263.3h0M124.6 274.1h0M140.8 284.8h0M83.3 221.9h0M118.3 245.1h0M97.6 206.5h0M130.9 282.5h0M133.1 239.2h0M113.0 280.1h0M87.9 260.1h0M121.2 298.3h0M112.6 276.5h0M132.1 298.2h0M122.2 254.7h0M94.4 231.0h0M151.5 296.7h0M126.7 288.7h0M148.2 295.2h0M143.4 256.3h0M137.1 280.1h0M141.6 301.5h0M96.2 269.2h0M173.2 305.0h0M170.5 304.0h0M107.5 269.5h0M92.4 251.7h0M151.8 305.1h0M88.7 254.5h0M158.3 288.2h0M131.0 223.2h0M85.3 230.8h0M84.5 228.5h0M130.6 257.8h0M105.9 268.2h0M86.1 254.3h0M91.2 234.4h0M156.4 302.4h0M88.6 255.0h0M123.7 280.9h0M157.9 297.6h0M91.8 258.1h0M145.9 281.6h0M131.5 290.9h0M121.1 242.8h0M178.9 294.4h0M87.2 228.6h0M124.1 282.3h0M87.5 272.0h0M177.3 293.4h0M117.8 278.2h0M118.0 285.5h0M133.4 283.8h0M112.0 279.2h0M136.7 259.3h0M137.7 286.3h0M102.5 258.0h0M159.3 305.8h0M111.8 271.1h0M93.1 241.4h0M149.1 298.8h0M96.1 277.2h0M101.2 231.2h0M136.1 288.8h0M132.7 303.7h0M120.3 300.2h0M84.3 193.4h0M112.0 282.4h0M94.9 245.1h0M88.9 253.1h0M90.3 261.8h0M119.6 295.9h0M171.4 301.0h0M158.6 302.8h0M155.1 306.2h0M138.0 302.3h0M81.7 251.1h0M79.7 191.4h0M92.1 248.3h0M108.0 270.5h0M95.0 275.3h0M79.5 224.3h0M115.8 282.6h0M111.0 255.4h0M98.8 226.4h0M165.9 295.5h0M95.7 234.0h0M83.8 209.6h0M111.5 258.7h0M84.0 206.5h0M93.9 263.4h0M95.5 229.6h0M162.3 301.4h0M91.4 285.2h0M224.8 307.2h0M104.3 273.1h0M95.1 247.7h0M157.5 294.7h0M81.6 237.5h0M99.9 205.3h0M101.4 270.3h0M89.9 233.9h0M84.2 246.6h0M98.4 270.1h0M105.2 270.8h0M108.9 261.1h0M143.0 302.9h0M156.4 299.1h0M81.6 260.4h0M119.3 283.5h0M91.2 282.4h0M85.9 262.2h0M107.7 277.0h0M165.1 290.6h0M110.5 262.1h0M81.4 209.8h0M163.0 292.4h0M94.1 244.7h0M91.1 257.2h0"/><path stroke="#33638d" stroke-opacity="0.8" d="M129.7 219.6h0"/><path stroke="#2e6d8e" d="M114.2 282.2h0M161.7 266.4h0M123.5 287.6h0M157.3 286.4h0M130.8 292.4h0M124.8 234.3h0M122.5 279.2h0M113.5 256.8h0M85.8 239.0h0M90.2 264.2h0M135.0 291.1h0M116.6 266.8h0M103.3 255.2h0M192.2 304.0h0M189.2 300.4h0M149.0 304.8h0M81.8 238.2h0M90.0 238.5h0M86.9 206.1h0M84.3 231.2h0M89.7 239.4h0M131.5 297.3h0M220.7 306.4h0M86.7 200.9h0M110.9 260.3h0M104.6 253.4h0M113.9 264.4h0M140.1 278.3h0M159.4 296.8h0M139.8 295.2h0M184.1 299.9h0M127.1 289.0h0M111.9 281.4h0M112.0 287.8h0M170.4 305.2h0M108.4 290.0h0M135.0 259.2h0M183.5 297.0h0M94.1 256.8h0M130.4 273.9h0M79.4 217.5h0M123.7 253.4h0M80.0 209.8h0M113.5 257.7h0M80.9 223.9h0M101.6 261.8h0M146.4 273.6h0M100.6 264.1h0M81.3 197.3h0M97.4 243.3h0M112.4 264.0h0M177.1 305.9h0M81.4 203.6h0M103.0 277.0h0M84.7 203.6h0M114.6 245.5h0M100.6 257.2h0M133.3 283.5h0M152.2 301.7h0M169.5 296.4h0M176.2 279.5h0M87.0 252.2h0M92.7 246.2h0M96.2 259.4h0M110.1 260.9h0M83.2 234.5h0M117.3 298.0h0M123.1 253.9h0M96.7 285.9h0M148.2 251.8h0M104.6 295.1h0M118.3 290.6h0M97.8 253.9h0M98.8 272.9h0M124.2 297.3h0M117.2 280.4h0M130.8 227.7h0M103.6 269.7h0M92.1 272.8h0M117.6 265.6h0M86.1 219.4h0M110.1 298.1h0M150.1 301.9h0M180.1 302.5h0M119.5 298.7h0M138.4 296.0h0M100.4 242.0h0M129.7 298.3h0M125.3 277.7h0M106.5 258.8h0M82.6 227.1h0M100.5 264.7h0M93.6 235.6h0M186.3 291.2h0M96.0 276.4h0M103.6 263.0h0M114.2 275.0h0M125.5 287.0h0M103.8 257.0h0M93.8 264.7h0M106.5 291.4h0M97.5 270.8h0M106.3 289.5h0M90.6 254.1h0M140.2 296.0h0M106.6 278.9h0M128.4 300.3h0M101.3 252.1h0M159.6 302.5h0M86.6 272.3h0M98.1 251.3h0M92.3 277.6h0M84.7 239.9h0"/><path stroke="#2e6d8e" stroke-opacity="0.55" d="M185.2 256.3h0"/><path stroke="#2a778e" d="M128.7 301.6h0M163.6 291.5h0M163.5 293.6h0M108.3 282.2h0M114.6 261.1h0M162.0 306.1h0M157.7 292.0h0M111.7 264.7h0M93.6 225.9h0M142.0 278.5h0M91.1 247.6h0M86.3 183.2h0M95.4 267.5h0M112.3 291.9h0M108.8 197.5h0M115.9 265.9h0M87.4 244.0h0M100.5 250.5h0M121.7 281.1h0M91.3 255.3h0M144.6 244.4h0M114.6 267.5h0M109.8 249.4h0M92.8 255.8h0M92.1 265.2h0M88.5 263.9h0M150.9 300.3h0M100.8 278.8h0M129.0 272.5h0M214.0 295.5h0M120.3 256.3h0M113.7 254.2h0M108.8 266.0h0M158.9 303.0h0M85.8 243.3h0M95.2 275.0h0M150.5 281.6h0M85.5 241.0h0M132.6 300.6h0M91.3 249.4h0M164.3 281.8h0M154.0 302.2h0M107.7 272.1h0M136.1 276.8h0M124.9 235.3h0M151.4 304.0h0M94.7 251.3h0M195.1 307.7h0M99.7 258.2h0M155.8 298.2h0M87.2 260.4h0M108.4 288.6h0M178.3 299.2h0M130.4 243.7h0M115.4 298.8h0M87.5 223.3h0M129.7 296.3h0M149.7 299.9h0M172.2 298.8h0M129.7 281.9h0M93.3 216.2h0M132.6 302.8h0M170.5 296.5h0M106.2 269.2h0M135.5 297.1h0M123.2 294.5h0M83.2 222.4h0M179.9 306.7h0M83.7 245.9h0M119.6 293.2h0M134.1 295.3h0M86.6 269.4h0M98.1 271.7h0M89.8 236.6h0M153.0 303.8h0M150.9 290.6h0M145.6 302.2h0M140.5 301.0h0M86.6 262.8h0M115.3 290.3h0M113.8 251.6h0M96.7 282.1h0M122.7 293.7h0M116.5 293.7h0M189.4 306.9h0M108.3 249.5h0M87.0 241.9h0M114.2 280.3h0M97.3 263.5h0M98.7 260.8h0M95.0 270.5h0M122.7 302.6h0M83.0 222.6h0M108.2 234.8h0M188.6 291.6h0M124.1 303.0h0"/><path stroke="#26828e" d="M136.6 286.6h0M80.6 209.0h0M81.7 221.2h0M120.0 276.8h0M91.1 213.0h0M143.7 287.3h0M183.9 296.5h0M99.3 254.9h0M109.4 276.6h0M99.7 275.7h0M119.8 272.0h0M91.9 250.4h0M125.8 280.7h0M111.7 292.7h0M108.4 281.3h0M79.5 207.3h0M102.6 274.0h0M166.0 296.0h0M83.3 155.4h0M114.1 292.6h0M121.2 297.3h0M114.3 273.7h0M79.3 208.5h0M133.8 302.6h0M104.5 264.5h0M96.6 250.3h0M118.7 294.0h0M95.5 240.4h0M132.6 286.7h0M102.1 240.7h0M80.2 200.9h0M89.6 263.6h0M102.6 285.1h0M109.3 277.9h0M91.7 220.8h0M118.5 297.4h0M92.8 284.3h0M119.5 276.0h0M88.1 257.1h0M123.2 280.7h0M120.0 273.1h0M84.0 251.3h0M94.4 285.4h0M93.8 279.7h0M84.3 220.7h0M96.4 261.7h0M80.8 228.7h0M134.5 294.5h0M123.2 265.7h0M93.4 217.5h0M138.7 294.4h0M155.5 304.9h0M87.7 252.4h0M93.7 225.2h0M101.9 263.1h0M163.7 307.2h0M141.2 299.1h0M96.2 213.6h0M107.5 253.3h0M122.1 283.9h0M122.6 299.6h0M163.2 301.4h0M109.5 281.9h0M116.4 290.1h0M131.9 303.6h0M111.1 290.3h0M102.8 249.6h0M107.6 239.2h0M102.8 270.0h0M110.9 235.8h0M92.7 254.5h0M81.9 234.3h0M126.8 284.9h0M101.2 223.9h0M90.3 205.2h0M135.8 299.2h0M85.3 211.7h0M131.8 277.9h0M157.7 305.3h0M130.5 296.9h0M115.3 270.1h0M121.7 292.2h0M102.1 280.2h0M119.7 252.6h0M113.6 284.1h0M115.1 293.4h0M154.2 296.3h0M85.0 261.7h0M162.3 288.4h0M112.2 281.5h0M134.0 286.7h0M87.6 249.5h0M109.7 272.1h0M97.8 270.3h0M132.3 298.1h0M87.4 267.8h0M143.0 298.0h0M112.0 266.9h0M90.6 267.9h0M174.0 293.2h0"/><path stroke="#228b8d" d="M183.9 304.5h0M118.2 288.7h0M206.6 300.2h0M129.1 300.7h0M111.6 278.9h0M141.8 298.7h0M103.2 239.4h0M120.7 275.8h0M105.1 260.7h0M121.8 282.3h0M154.2 294.2h0M99.4 271.2h0M102.7 274.7h0M85.0 218.0h0M100.0 273.3h0M119.5 289.8h0M157.4 289.4h0M126.0 290.9h0M138.8 289.0h0M83.7 257.9h0M97.9 274.0h0M111.0 291.7h0M117.7 277.1h0M82.5 216.1h0M88.1 245.5h0M93.4 229.2h0M103.7 286.1h0M92.6 241.9h0M149.6 277.7h0M80.9 222.0h0M173.5 295.4h0M110.7 291.3h0M152.8 303.0h0M85.0 239.4h0M150.7 291.3h0M126.8 280.8h0M112.3 293.2h0M117.3 292.2h0M96.4 235.3h0M130.0 300.7h0M81.1 230.1h0M87.1 270.1h0M143.9 301.9h0M116.8 294.9h0M104.8 289.5h0M145.8 273.0h0M96.1 250.0h0M125.8 295.0h0M129.6 297.1h0M113.4 292.7h0M93.0 266.1h0M140.2 300.3h0M104.8 296.1h0M85.4 250.6h0M83.0 270.7h0M157.8 293.6h0M102.5 271.4h0M91.9 238.2h0M92.2 262.5h0M86.5 226.0h0M106.1 279.7h0M154.4 295.9h0M96.5 257.3h0M107.5 287.3h0M143.5 294.8h0M83.5 256.6h0M114.7 297.4h0M102.4 275.7h0M97.2 295.0h0"/><path stroke="#1f958b" d="M125.5 290.9h0M102.7 272.3h0M169.0 300.9h0M114.9 291.8h0M86.6 210.6h0M134.4 294.7h0M83.9 272.8h0M88.7 239.4h0M86.5 230.3h0M98.7 265.1h0M95.1 245.9h0M124.5 299.1h0M120.9 292.8h0M153.5 302.6h0M99.5 267.4h0M81.9 244.0h0M88.6 256.5h0M80.3 238.4h0M87.1 248.9h0M98.9 239.3h0M82.8 211.7h0M132.8 301.3h0M162.9 305.9h0M103.1 251.0h0M96.6 272.6h0M112.6 272.9h0M125.4 295.2h0M100.7 237.1h0M136.0 297.0h0M123.1 293.1h0M82.7 246.3h0M105.9 279.6h0M123.4 294.8h0M131.7 291.7h0M123.9 300.4h0M86.2 260.4h0M105.5 284.5h0M100.0 278.1h0M93.3 259.7h0M97.2 238.9h0M127.6 299.9h0M114.2 276.9h0M88.8 245.9h0M108.2 253.8h0M150.7 304.5h0M181.6 306.5h0M121.9 286.4h0M103.7 285.8h0M102.6 263.9h0M92.3 282.9h0M96.5 242.9h0M87.9 263.0h0M94.1 266.6h0M109.6 298.0h0M82.6 238.8h0M110.8 292.9h0M93.8 241.5h0M87.3 263.6h0M113.5 289.6h0M150.0 302.6h0M97.5 260.0h0M120.9 285.9h0M107.0 279.9h0M115.6 300.7h0M112.9 280.2h0M92.6 282.0h0M111.3 258.3h0M104.7 267.5h0M99.0 270.5h0M141.0 292.6h0M88.8 266.7h0M91.2 254.8h0M153.9 304.2h0M88.7 263.5h0M109.6 300.8h0M87.9 255.3h0M140.2 296.7h0"/><path stroke="#1fa088" d="M108.2 289.0h0M87.2 270.2h0M110.9 277.9h0M167.7 299.1h0M86.7 255.5h0M107.5 265.0h0M120.8 272.8h0M129.7 289.5h0M80.2 245.3h0M140.6 290.5h0M102.6 284.0h0M102.9 262.2h0M143.7 298.2h0M114.8 279.5h0M82.9 235.2h0M86.2 268.1h0M125.6 261.2h0M110.8 280.2h0M98.8 286.3h0M102.9 289.2h0M92.1 236.2h0M107.8 284.8h0M162.9 305.1h0M103.8 280.5h0M112.9 278.2h0M86.7 275.8h0M130.5 290.2h0M85.7 249.4h0M92.5 264.6h0M95.6 296.1h0M84.0 272.2h0M128.9 299.8h0M80.0 236.4h0M83.5 253.0h0M119.8 294.8h0M96.0 294.5h0M119.4 300.8h0M82.4 259.0h0M86.1 179.4h0M116.6 296.1h0M99.3 267.6h0M91.0 266.2h0M111.7 289.8h0M129.4 292.4h0M164.1 304.1h0M113.4 300.2h0M144.3 292.2h0M95.8 283.9h0M165.2 298.9h0M105.7 292.1h0M104.4 280.2h0M82.4 238.8h0M83.1 253.9h0M99.7 269.3h0M101.9 290.1h0M97.9 275.0h0M110.0 277.2h0M141.8 296.6h0M118.4 268.2h0M79.4 243.4h0M123.0 304.6h0M192.4 307.1h0"/><path stroke="#23a983" d="M120.2 294.0h0M116.3 285.8h0M89.8 227.6h0M119.7 297.6h0M81.4 201.7h0M91.0 226.3h0M115.8 292.9h0M81.7 230.2h0M94.2 285.2h0M115.6 288.3h0M127.2 265.3h0M123.9 295.4h0M110.7 283.6h0M86.1 244.5h0M116.9 267.9h0M209.3 307.7h0M82.1 250.9h0M104.0 251.1h0M84.7 254.4h0M109.9 299.2h0M99.0 270.9h0M103.4 284.0h0M177.5 303.0h0M118.9 301.0h0M89.5 262.1h0M105.2 273.7h0M125.1 297.4h0M95.0 285.1h0M166.8 303.9h0M91.2 247.1h0M104.3 291.7h0M114.4 297.9h0M100.3 242.7h0M97.1 275.2h0M141.4 304.8h0M80.1 180.5h0"/><path stroke="#2eb37c" d="M78.4 178.5h0M183.4 306.7h0M94.4 274.4h0M97.9 256.3h0M107.4 288.4h0M180.9 301.5h0M78.9 207.0h0M117.7 290.3h0M133.5 282.3h0M187.8 307.7h0M204.4 307.7h0M114.1 263.0h0M107.3 286.6h0M203.2 307.7h0M103.4 287.5h0M184.2 307.7h0M93.7 283.5h0M95.5 280.7h0M84.1 273.1h0M112.8 299.2h0M96.0 281.0h0M137.8 300.9h0M166.1 307.7h0M120.8 284.7h0M131.8 302.0h0M78.4 165.5h0M78.5 167.4h0M217.0 307.6h0M92.4 258.3h0M108.8 289.9h0M94.9 286.1h0M130.4 299.8h0M93.6 283.4h0M117.2 291.8h0M122.4 293.1h0"/><path stroke="#3fbc73" d="M100.0 271.0h0M171.0 305.3h0M156.8 304.9h0M96.2 276.7h0M188.3 298.9h0M87.9 264.2h0M103.7 260.5h0M171.8 299.4h0M102.5 296.9h0M101.5 276.5h0M79.3 175.6h0M89.4 264.6h0M93.4 272.1h0M202.2 307.7h0M138.6 297.8h0M78.4 210.0h0M79.5 212.5h0M103.5 295.4h0M99.3 286.3h0M78.4 165.3h0M116.0 286.4h0M102.7 262.5h0M88.4 276.4h0M78.4 194.5h0M78.4 211.7h0"/><path stroke="#52c569" d="M157.6 306.3h0M106.4 283.0h0M79.8 207.9h0M200.5 307.2h0M83.7 218.0h0M151.4 306.6h0M96.6 287.5h0"/><path stroke="#69cd5b" d="M103.3 290.9h0M150.8 305.6h0M144.0 299.4h0M216.0 307.7h0M83.1 231.4h0"/><path stroke="#84d44b" d="M90.6 285.7h0M130.5 303.0h0"/><path stroke="#9dd93b" d="M170.7 303.8h0"/><path stroke="#bade28" d="M173.6 307.7h0"/><path stroke="#46085c" d="M83.5 251.1h0M94.6 283.4h0M93.6 231.7h0M177.8 306.5h0M119.5 278.8h0M78.4 222.6h0M81.9 195.7h0M119.9 286.6h0M110.8 231.7h0M193.9 301.5h0M81.0 173.1h0M90.6 278.3h0M91.9 268.3h0M200.4 300.9h0M120.8 259.3h0M165.5 281.2h0"/><path stroke="#46085c" stroke-opacity="0.8" d="M176.3 276.1h0"/><path stroke="#48186a" d="M98.6 250.4h0M114.1 262.5h0M91.6 214.8h0M209.7 302.3h0M97.8 262.8h0M102.7 237.8h0M83.5 245.1h0M84.0 171.1h0M180.5 307.1h0M145.3 306.4h0M171.1 303.0h0M196.3 300.1h0M120.8 299.3h0M98.7 186.3h0M78.8 161.0h0M105.8 285.1h0M207.9 307.3h0M79.3 260.0h0M102.8 268.3h0M94.7 289.0h0M98.6 268.0h0"/><path stroke="#48186a" stroke-opacity="0.8" d="M81.1 124.3h0"/><path stroke="#482576" d="M122.0 291.4h0M143.6 282.3h0M95.5 285.8h0M89.2 254.3h0M184.6 307.4h0M111.6 257.6h0M121.4 287.6h0M120.8 268.3h0M78.7 177.1h0M184.5 284.0h0M93.4 261.9h0M192.9 303.6h0M161.6 272.7h0M174.6 297.4h0M180.5 304.2h0M83.2 181.0h0M182.8 307.7h0M86.0 272.4h0M120.5 288.6h0M117.6 295.6h0M157.9 289.9h0M79.0 176.2h0M81.5 208.2h0M172.2 305.8h0M141.9 259.4h0M79.8 189.1h0M210.6 303.7h0M110.9 287.7h0M115.7 292.0h0M88.1 220.0h0"/><path stroke="#482576" stroke-opacity="0.8" d="M92.9 179.1h0"/><path stroke="#46337f" d="M101.1 239.9h0M103.2 256.2h0M179.7 307.2h0M96.5 248.4h0M92.2 213.6h0M81.0 225.9h0M193.7 292.8h0M121.4 287.1h0M124.8 262.8h0M82.9 193.5h0M102.1 269.6h0M88.5 207.2h0M79.9 220.8h0M151.9 283.7h0M122.5 295.6h0M78.4 151.4h0M85.9 278.1h0M131.9 291.8h0M134.9 299.8h0M95.6 279.2h0M92.2 234.4h0M187.2 301.1h0M89.2 229.3h0M231.4 307.4h0M101.2 245.3h0M107.2 262.1h0M108.5 255.5h0M95.9 268.9h0M162.6 299.9h0M81.5 193.6h0M218.0 305.6h0M122.4 291.7h0M148.4 266.0h0M94.3 278.2h0M97.3 225.3h0M98.8 214.5h0M101.6 290.0h0M99.8 291.0h0M97.8 268.9h0M78.4 185.4h0M145.9 276.5h0M82.1 179.1h0M82.1 234.9h0M78.4 188.4h0M92.3 278.9h0M90.9 187.2h0M151.4 299.3h0M175.7 280.4h0M115.9 255.1h0M113.2 288.5h0M120.0 271.9h0M87.7 280.5h0M156.9 299.4h0M154.0 269.8h0M84.8 239.3h0M83.3 241.6h0M185.6 294.0h0M99.7 293.7h0M239.2 304.8h0"/><path stroke="#46337f" stroke-opacity="0.8" d="M113.1 201.4h0"/><path stroke="#46337f" stroke-opacity="0.55" d="M134.7 198.6h0"/><path stroke="#424086" d="M148.3 290.8h0M81.0 240.0h0M121.6 295.5h0M172.1 297.5h0M113.5 291.0h0M107.3 284.8h0M198.2 273.2h0M83.1 215.8h0M93.3 258.6h0M79.0 196.2h0M90.2 254.9h0M120.2 290.1h0M117.4 235.8h0M80.0 242.5h0M107.0 265.1h0M85.3 275.0h0M78.8 204.3h0M91.2 253.7h0M79.3 165.5h0M91.5 207.6h0M140.2 304.5h0M150.8 307.2h0M81.7 242.6h0M97.9 252.7h0M87.2 254.6h0M82.8 175.2h0M102.0 196.7h0M91.2 267.6h0M169.7 291.3h0M160.1 290.1h0M151.0 279.5h0M115.5 296.2h0M199.8 305.4h0M174.6 296.5h0M95.1 211.1h0M132.7 292.1h0M84.5 237.1h0M142.2 297.5h0M89.9 235.4h0M111.7 235.8h0M106.5 272.6h0M180.8 295.7h0M197.6 276.1h0M131.3 287.1h0M110.9 201.7h0M90.6 293.0h0M90.7 294.4h0M146.6 306.7h0M82.5 249.1h0M163.8 307.7h0M157.8 266.5h0M109.3 288.7h0M108.6 306.3h0M107.4 300.8h0M150.5 283.9h0"/><path stroke="#3e4c8a" d="M89.2 269.3h0M91.8 215.2h0M112.2 258.6h0M178.3 306.9h0M162.5 293.0h0M86.0 232.2h0M95.6 265.5h0M100.1 248.3h0M135.6 304.8h0M124.9 301.1h0M158.2 294.9h0M149.6 295.0h0M84.7 249.0h0M111.9 227.0h0M189.9 294.9h0M117.6 242.2h0M100.5 271.6h0M121.3 283.7h0M222.0 306.5h0M85.0 215.6h0M110.8 212.0h0M113.8 255.5h0M110.2 289.5h0M87.9 172.6h0M122.3 252.6h0M104.9 294.0h0M155.2 300.5h0M116.8 301.3h0M88.5 195.7h0M145.1 290.9h0M140.6 287.0h0M128.3 301.6h0M100.3 274.5h0M99.2 264.4h0M124.7 299.6h0M91.1 259.2h0M111.2 276.6h0M148.9 290.1h0M119.3 302.6h0M126.1 299.4h0M81.3 227.2h0M190.7 306.9h0M124.7 260.0h0M173.0 291.9h0M89.4 260.3h0M84.8 270.9h0M145.7 250.7h0M80.5 242.3h0M150.0 306.3h0M103.7 263.4h0M138.8 303.8h0M108.1 287.5h0M111.7 288.5h0M120.7 295.4h0M143.0 272.0h0M150.4 293.1h0M147.2 276.4h0M122.9 291.3h0M91.9 265.0h0M163.2 292.8h0M142.7 275.6h0M139.5 291.6h0M145.8 298.4h0M85.3 271.9h0M79.2 206.5h0M93.7 244.8h0M80.8 271.4h0M139.1 297.5h0M123.6 267.3h0M88.1 213.7h0M85.8 202.4h0M129.1 249.5h0M141.9 301.9h0M124.8 272.5h0M81.5 204.2h0M100.9 269.3h0M105.3 268.8h0M120.6 274.7h0M236.8 305.9h0M174.7 307.4h0"/><path stroke="#38588c" d="M141.1 295.5h0M107.1 235.0h0M146.8 305.1h0M87.6 220.5h0M180.1 284.4h0M146.2 269.3h0M94.7 250.7h0M90.8 269.7h0M100.9 234.1h0M199.1 307.2h0M103.8 264.1h0M126.7 303.3h0M215.4 293.1h0M124.6 286.2h0M81.7 242.2h0M110.6 288.0h0M89.1 234.1h0M138.9 302.2h0M147.5 294.2h0M113.6 270.2h0M83.0 188.0h0M108.0 267.8h0M111.2 281.9h0M81.6 189.3h0M167.6 306.0h0M92.2 253.4h0M117.8 300.5h0M93.2 237.8h0M81.7 199.1h0M135.7 300.7h0M198.6 300.8h0M133.4 286.7h0M91.4 241.8h0M93.3 269.2h0M90.2 214.9h0M109.9 280.7h0M93.3 263.5h0M116.8 287.9h0M98.6 273.2h0M82.3 272.1h0M133.4 238.4h0M144.2 284.9h0M110.5 296.2h0M116.1 297.4h0M118.5 286.6h0M152.4 305.1h0M125.4 275.4h0M97.3 212.1h0M89.7 256.6h0M123.8 270.8h0M160.5 305.8h0M100.3 261.8h0M148.4 305.8h0M126.7 256.4h0M80.1 263.5h0M114.5 293.2h0M148.3 266.5h0M178.2 307.7h0M153.2 294.9h0M153.5 290.4h0M102.6 271.6h0M87.3 257.1h0M83.4 255.3h0M81.5 217.5h0M92.8 236.9h0M103.9 278.0h0M90.4 203.1h0M143.0 275.2h0M126.5 301.3h0M81.5 226.4h0M118.8 292.4h0M220.7 305.6h0M114.0 287.4h0M203.0 304.8h0M92.4 268.3h0M152.7 278.8h0M94.1 286.6h0M144.3 296.2h0M79.8 220.2h0M107.4 297.4h0M192.8 299.2h0M116.4 272.7h0M177.1 297.6h0M86.3 255.0h0M124.1 305.5h0M134.5 299.9h0M117.9 291.6h0M96.1 262.2h0M101.1 263.6h0M85.2 286.2h0M105.5 291.1h0M116.0 251.0h0M86.2 261.9h0M218.2 307.0h0M120.0 281.0h0M103.9 292.2h0M115.6 306.3h0M165.7 304.2h0M101.7 269.9h0M169.2 285.1h0M94.2 277.2h0M128.6 296.6h0M152.3 281.0h0M153.9 304.5h0M145.9 307.2h0M86.6 264.5h0M82.4 269.1h0M144.1 278.6h0M127.8 305.5h0"/><path stroke="#38588c" stroke-opacity="0.8" d="M102.3 185.7h0"/><path stroke="#33638d" d="M108.9 284.3h0M111.9 205.3h0M125.5 300.1h0M108.9 280.4h0M86.9 258.6h0M157.1 288.2h0M126.0 231.3h0M148.2 292.0h0M120.3 272.7h0M125.6 281.6h0M107.7 257.8h0M91.3 240.6h0M110.2 281.6h0M95.4 234.2h0M137.7 292.6h0M126.4 300.8h0M97.1 280.0h0M125.6 251.6h0M107.3 265.5h0M127.0 296.8h0M86.7 218.2h0M96.4 262.2h0M126.0 296.2h0M137.1 250.8h0M127.9 291.9h0M98.4 252.0h0M112.0 300.5h0M114.8 260.6h0M83.1 239.7h0M142.8 302.9h0M113.7 282.4h0M89.8 209.2h0M88.3 261.4h0M143.4 286.3h0M100.3 261.6h0M102.8 247.3h0M122.1 303.0h0M132.1 283.3h0M106.2 227.9h0M114.8 236.2h0M117.1 258.9h0M99.2 273.8h0M112.4 274.1h0M90.4 237.6h0M128.3 289.2h0M111.2 299.0h0M129.2 290.3h0M170.1 291.2h0M127.9 301.9h0M187.7 307.4h0M81.2 223.4h0M147.3 293.0h0M84.1 249.9h0M176.4 305.9h0M131.6 293.4h0M106.3 276.0h0M118.2 297.2h0M167.3 306.8h0M113.4 301.1h0M87.0 246.4h0M102.9 285.5h0M115.9 301.9h0M101.5 259.9h0M131.8 301.0h0M84.1 263.9h0M101.2 257.1h0M157.2 300.0h0M130.4 265.1h0M81.8 263.7h0M104.6 265.2h0M86.7 260.7h0M97.8 285.0h0M119.9 301.4h0M133.4 294.7h0M122.3 297.7h0M106.5 265.0h0M86.2 236.0h0M102.7 287.0h0M97.2 268.1h0M89.5 288.4h0M89.5 175.4h0M158.7 292.9h0M108.8 296.2h0M113.8 298.0h0M83.1 256.1h0M105.9 284.8h0M157.5 302.9h0M105.1 281.0h0M90.2 270.9h0M127.5 291.3h0M125.0 289.5h0M87.5 261.3h0M92.4 231.9h0M84.9 256.5h0M83.8 196.2h0M107.3 262.9h0M93.4 281.9h0M83.5 274.7h0M97.8 255.7h0M204.8 297.3h0M105.4 298.0h0M138.7 304.8h0M83.9 234.9h0M96.9 284.9h0M144.4 306.0h0M133.9 305.9h0M91.5 291.4h0M100.1 279.5h0M93.3 249.4h0M101.3 259.9h0M110.4 269.0h0M129.2 283.5h0M79.0 219.7h0M93.6 240.7h0M83.9 248.5h0M157.9 302.8h0M142.1 305.0h0M121.4 300.4h0M94.6 256.9h0M82.0 263.0h0M128.3 298.1h0M89.1 280.6h0M127.7 301.6h0M223.4 302.4h0M107.2 268.3h0M104.9 276.0h0M151.8 301.0h0M102.5 245.7h0M97.8 295.3h0M82.4 205.5h0M127.5 280.0h0M101.3 286.8h0"/><path stroke="#2e6d8e" d="M134.8 304.9h0M110.0 291.8h0M110.8 252.8h0M159.5 302.2h0M118.2 254.8h0M88.2 272.4h0M85.5 263.0h0M133.5 303.6h0M80.6 228.1h0M89.7 285.8h0M92.1 242.4h0M104.6 240.8h0M103.0 271.3h0M121.2 270.5h0M153.2 300.8h0M111.5 297.2h0M98.7 270.5h0M192.1 302.3h0M90.1 251.0h0M82.7 247.5h0M180.2 303.3h0M165.8 306.0h0M81.8 245.4h0M123.5 291.8h0M80.1 211.8h0M146.0 275.1h0M80.7 265.3h0M83.4 244.3h0M101.7 248.5h0M116.8 289.6h0M89.6 285.1h0M89.9 244.9h0M114.4 263.4h0M94.4 287.6h0M89.6 272.6h0M85.7 234.7h0M95.1 272.3h0M81.2 258.6h0M126.9 304.3h0M80.5 260.8h0M83.8 248.2h0M106.0 297.1h0M83.8 267.1h0M88.0 266.1h0M115.1 278.5h0M124.1 304.7h0M119.5 269.8h0M155.3 306.5h0M102.4 238.3h0M91.9 221.7h0M85.7 257.2h0M95.1 261.2h0M88.7 258.1h0M78.8 187.1h0M100.9 280.8h0M87.9 277.7h0M157.2 281.0h0M104.8 270.7h0M98.0 261.2h0M134.4 303.6h0M102.9 267.3h0M153.0 303.1h0M106.2 293.2h0M136.3 303.2h0M138.3 282.0h0M141.8 291.5h0M186.5 307.7h0M131.4 294.7h0M79.8 214.0h0M121.5 288.8h0M137.4 282.7h0M83.2 262.5h0M148.7 303.8h0M156.5 293.9h0M118.4 303.5h0M120.1 304.4h0M159.6 288.3h0M174.2 297.8h0M111.5 285.6h0M111.6 301.3h0M91.4 270.4h0M93.3 256.9h0M110.6 262.3h0M129.7 292.3h0M80.0 264.7h0M97.7 277.7h0M128.6 303.3h0M98.9 267.5h0M90.0 277.5h0M85.9 245.7h0M86.0 226.9h0M184.4 300.3h0M143.1 288.1h0M85.7 251.2h0M163.2 300.4h0M101.1 290.9h0M135.6 297.4h0M92.8 261.1h0"/><path stroke="#2a778e" d="M118.7 275.8h0M120.0 265.1h0M137.3 293.0h0M106.3 236.8h0M139.8 300.4h0M125.9 303.2h0M128.2 284.5h0M96.8 279.4h0M90.8 268.5h0M100.1 289.1h0M133.5 305.5h0M108.7 279.7h0M169.6 298.4h0M79.2 201.6h0M140.5 298.4h0M106.3 282.5h0M80.1 253.5h0M111.5 287.4h0M130.7 285.5h0M122.3 285.2h0M161.6 297.6h0M114.6 293.0h0M211.6 293.1h0M100.7 268.9h0M161.8 304.0h0M120.8 300.9h0M120.8 288.0h0M113.6 295.4h0M85.4 251.8h0M79.5 214.4h0M138.7 277.5h0M98.3 261.0h0M108.1 273.9h0M90.7 274.1h0M114.4 289.2h0M130.7 301.3h0M107.1 229.8h0M92.8 252.1h0M136.3 297.4h0M132.0 293.3h0M97.2 279.4h0M91.7 271.6h0M80.8 256.4h0M115.6 260.6h0M80.3 221.5h0M116.8 298.2h0M81.3 231.4h0M115.1 281.8h0M93.9 271.6h0M121.8 305.5h0M101.6 266.8h0M147.6 302.6h0M118.7 278.5h0M126.7 305.9h0M82.5 234.5h0M125.9 303.3h0M139.2 305.4h0M93.5 250.6h0M150.3 298.6h0M91.6 239.1h0M114.8 305.2h0M92.1 267.5h0M178.9 303.9h0M154.6 290.5h0M116.2 296.2h0M140.0 283.3h0M78.5 208.5h0M131.5 292.8h0M80.9 252.7h0M86.1 274.3h0M104.9 258.2h0M102.5 276.0h0M127.3 295.7h0M88.2 281.9h0M132.0 278.0h0M81.9 251.5h0M99.5 289.9h0M166.4 300.8h0M88.4 261.1h0M121.8 283.7h0M80.3 203.4h0M134.1 294.2h0M95.0 281.3h0M120.9 296.1h0M112.7 297.4h0M84.9 269.1h0M142.6 305.7h0"/><path stroke="#26828e" d="M95.6 264.6h0M114.7 278.0h0M84.0 232.2h0M85.8 273.1h0M119.7 264.4h0M156.8 293.7h0M102.7 295.3h0M91.2 231.2h0M155.2 299.4h0M100.9 272.5h0M136.3 298.4h0M100.3 285.1h0M89.0 248.7h0M105.4 274.6h0M115.5 286.9h0M91.5 241.0h0M126.6 284.4h0M108.9 298.1h0M101.7 277.3h0M88.6 252.1h0M89.6 246.6h0M157.2 297.7h0M110.4 265.4h0M91.3 264.5h0M108.4 259.5h0M120.9 291.8h0M137.5 299.3h0M95.4 204.4h0M87.9 229.7h0M127.7 303.6h0M86.5 256.9h0M97.2 289.8h0M177.2 294.8h0M118.7 302.4h0M99.5 281.5h0M106.7 253.6h0M94.5 272.1h0M87.4 266.2h0M135.9 303.3h0M114.9 277.6h0M85.3 254.9h0M150.6 293.5h0M105.4 283.0h0M86.3 250.0h0M100.9 290.2h0M134.9 280.0h0M124.9 253.6h0M152.4 305.3h0M92.3 270.8h0M112.4 303.9h0M113.9 294.3h0M92.8 231.2h0M105.7 281.1h0M94.7 288.1h0M162.2 303.3h0M98.5 278.4h0M125.1 286.8h0M79.3 233.4h0M109.5 261.3h0M91.2 232.2h0M139.6 292.0h0M114.7 237.3h0M95.2 272.6h0M123.9 287.4h0M161.1 305.7h0M121.4 272.9h0M93.5 250.3h0M117.6 294.3h0M84.6 247.0h0M82.1 269.7h0M93.5 296.7h0M81.6 253.1h0M118.1 305.2h0M168.5 300.0h0M116.1 302.7h0M87.2 277.3h0M97.0 290.1h0M111.6 260.3h0M134.1 302.0h0M106.3 285.9h0M95.4 253.9h0M118.9 299.2h0M104.6 266.5h0M141.9 293.8h0M82.6 281.9h0M101.9 246.3h0M95.3 268.2h0M136.7 301.8h0M103.3 302.9h0M104.1 301.1h0M144.3 289.8h0M122.6 301.3h0M89.5 234.6h0M96.5 277.6h0M128.8 299.4h0M80.3 252.9h0M87.3 246.9h0M91.4 270.0h0M116.6 270.9h0"/><path stroke="#228b8d" d="M143.6 292.3h0M113.0 282.0h0M156.8 302.0h0M130.6 295.1h0M88.2 259.3h0M145.6 296.1h0M104.1 267.9h0M84.1 198.9h0M97.3 298.8h0M144.0 304.3h0M132.4 288.3h0M101.3 257.1h0M88.4 268.5h0M106.9 277.6h0M95.1 287.4h0M79.3 227.6h0M158.0 301.8h0M92.1 284.6h0M83.6 251.1h0M94.8 269.4h0M132.3 301.9h0M86.7 263.7h0M101.6 269.2h0M99.1 282.4h0M115.5 300.9h0M107.9 275.7h0M82.4 264.7h0M139.0 302.6h0M88.1 271.8h0M82.1 240.0h0M151.9 305.5h0M99.1 287.7h0M107.9 257.0h0M92.3 257.3h0M158.7 306.2h0M103.0 268.6h0M81.0 261.6h0M89.0 276.0h0M118.1 299.5h0M82.9 237.7h0M108.0 283.3h0M132.6 300.1h0M114.7 286.0h0M82.9 267.7h0M124.6 293.0h0M115.1 293.8h0M107.8 275.3h0M93.4 292.6h0M145.9 303.7h0M108.6 297.3h0M120.8 280.6h0M92.6 275.8h0M92.5 284.5h0M106.9 272.1h0M120.0 262.7h0M140.9 303.5h0M84.8 258.5h0M103.0 270.8h0M101.8 296.7h0M111.2 286.9h0M101.2 299.3h0M114.5 229.5h0M96.2 282.2h0M111.3 284.0h0M105.3 268.2h0M118.1 291.0h0M91.6 232.7h0M117.7 295.7h0M123.5 294.1h0M98.5 294.3h0M79.6 264.0h0M122.8 297.3h0M92.6 262.9h0M118.3 295.4h0M97.5 288.8h0M94.9 269.7h0M164.5 307.0h0M112.4 277.4h0M99.6 274.0h0M113.2 295.8h0M97.4 292.5h0M104.9 275.6h0M116.4 282.8h0M191.1 307.5h0M135.1 296.6h0M82.1 256.9h0M116.5 294.1h0M88.9 291.2h0M88.8 213.2h0M92.1 284.0h0M80.0 248.7h0M92.7 277.2h0M109.3 303.7h0M85.1 267.1h0M108.1 275.2h0"/><path stroke="#1f958b" d="M94.0 265.7h0M129.1 302.6h0M84.1 247.8h0M193.2 307.6h0M135.0 304.3h0M90.5 250.5h0M103.7 261.2h0M92.3 274.3h0M151.4 299.0h0M85.5 235.0h0M147.7 294.0h0M136.8 301.0h0M84.7 241.4h0M85.4 247.6h0M130.1 302.1h0M121.1 289.3h0M116.3 280.5h0M86.6 238.0h0M174.7 298.6h0M123.1 300.5h0M116.4 299.3h0M109.3 271.1h0M110.4 293.0h0M144.4 302.7h0M99.6 277.8h0M81.1 249.6h0M93.4 289.9h0M108.9 266.7h0M143.9 288.4h0M79.4 228.7h0M121.9 292.7h0M100.1 292.1h0M100.7 289.9h0M90.5 262.3h0M115.3 279.3h0M105.4 238.9h0M103.6 294.4h0M132.5 296.4h0M86.9 257.9h0M120.3 297.6h0M127.2 304.7h0M117.1 299.4h0M125.2 284.9h0M104.5 289.1h0M101.3 287.6h0M109.4 285.8h0M113.6 268.3h0M93.5 273.4h0M124.9 298.7h0M105.6 276.8h0M92.3 290.7h0M80.3 259.4h0M107.9 294.3h0M101.4 279.6h0M126.9 301.9h0M86.4 268.2h0M152.2 300.0h0M119.2 289.1h0M106.4 298.0h0M85.5 230.1h0M133.4 298.7h0M99.8 283.5h0M103.6 277.7h0M81.9 266.4h0M148.2 304.8h0M114.4 299.6h0M97.7 292.9h0M102.6 281.2h0M95.4 290.9h0M128.5 295.4h0M93.5 262.6h0M132.4 299.6h0M83.1 270.3h0M89.2 270.5h0M98.8 297.1h0M137.4 298.6h0M112.3 278.5h0M104.7 275.0h0M135.7 287.9h0M80.0 269.3h0M81.7 246.8h0M95.0 260.7h0M84.5 264.1h0M86.1 266.1h0M152.3 306.8h0M105.6 295.7h0M81.9 253.5h0M83.7 260.8h0M100.5 287.3h0M147.4 287.8h0M82.2 228.4h0M134.8 299.8h0M94.2 295.3h0M174.6 306.8h0M80.1 273.1h0M79.7 249.8h0"/><path stroke="#1fa088" d="M112.4 294.0h0M121.5 294.2h0M124.4 302.1h0M96.5 272.9h0M84.6 250.3h0M109.5 273.3h0M93.7 275.1h0M84.1 253.7h0M95.3 273.1h0M89.7 260.0h0M90.9 288.4h0M121.3 282.8h0M135.3 306.2h0M91.3 275.3h0M89.4 285.6h0M83.0 255.9h0M96.0 263.7h0M98.3 272.8h0M127.0 302.1h0M153.3 306.3h0M123.7 288.6h0M95.6 237.6h0M90.9 276.4h0M81.4 262.2h0M143.0 303.8h0M179.7 299.5h0M97.3 252.8h0M91.5 286.0h0M103.5 291.7h0M120.5 290.2h0M98.0 279.9h0M110.8 277.4h0M82.8 262.0h0M111.6 298.0h0M82.1 271.3h0M104.8 277.3h0M133.3 289.9h0M93.3 280.8h0M104.0 289.5h0M109.1 296.5h0M96.4 277.3h0M91.2 278.1h0M98.5 270.5h0M152.0 303.8h0M94.4 282.0h0M97.5 284.5h0M84.6 276.7h0M93.8 278.7h0M89.5 287.2h0M102.1 291.0h0M98.0 297.1h0M125.9 296.7h0M95.2 270.1h0M95.1 257.8h0M84.3 260.9h0M80.4 265.1h0M96.1 288.5h0M97.5 279.6h0M100.4 283.8h0M88.4 278.4h0M80.6 257.2h0M103.7 284.6h0M84.5 265.5h0M103.6 283.2h0M91.6 284.0h0M119.6 303.6h0M97.1 294.2h0M97.4 296.3h0M87.6 283.0h0M96.1 289.8h0M94.1 270.3h0M123.8 306.7h0M104.2 268.8h0M94.6 288.3h0M124.7 303.3h0M85.3 269.8h0M88.4 251.0h0M86.2 282.5h0M84.4 272.9h0M101.0 281.7h0M101.3 274.1h0M126.1 298.1h0M90.6 270.3h0M146.6 298.0h0M99.2 293.7h0M101.6 303.2h0M113.7 287.6h0M97.4 274.5h0M142.8 304.8h0M84.8 273.0h0M89.7 275.1h0M136.9 302.5h0M104.3 301.7h0M102.6 286.4h0M81.2 252.3h0M89.4 279.7h0M82.2 258.5h0"/><path stroke="#23a983" d="M135.3 276.3h0M108.0 258.0h0M138.0 300.1h0M103.2 273.4h0M119.6 301.1h0M87.4 257.5h0M119.8 297.8h0M81.7 255.5h0M104.9 299.9h0M120.1 301.9h0M83.8 204.6h0M92.3 269.6h0M96.3 274.1h0M127.0 298.5h0M128.7 305.0h0M81.6 230.5h0M78.7 197.6h0M107.7 293.4h0M101.9 298.7h0M135.3 291.5h0M107.0 288.1h0M114.8 275.8h0M103.9 283.5h0M153.1 305.8h0M146.4 304.6h0M92.5 269.9h0M86.4 250.6h0M118.1 304.7h0M90.5 232.5h0M122.3 300.0h0M122.8 305.4h0M128.6 302.9h0M103.1 297.4h0M106.5 294.7h0M136.3 281.2h0M195.0 307.2h0M107.0 296.1h0M120.5 291.4h0M84.2 280.8h0M105.1 295.9h0M99.2 288.3h0M81.2 233.5h0M82.3 273.7h0M107.0 299.5h0M108.8 299.3h0M87.6 269.9h0M79.5 239.5h0M91.3 276.2h0M82.9 251.9h0M121.9 275.7h0M103.9 288.3h0M93.4 260.3h0M108.1 272.6h0M105.8 287.6h0M114.9 294.0h0M92.7 297.1h0M109.8 292.9h0M104.4 281.6h0M104.3 288.1h0M112.5 301.8h0M152.5 307.7h0M110.1 290.9h0M82.1 247.5h0M93.3 295.2h0M98.0 292.4h0M118.8 294.9h0M156.0 304.4h0M95.0 298.1h0M107.8 292.2h0M225.6 307.5h0M123.2 296.0h0M78.4 235.9h0M95.9 285.3h0M89.9 266.6h0M95.0 279.8h0M103.4 302.4h0M118.2 293.3h0M99.4 284.4h0M100.4 291.4h0M120.0 256.2h0M136.8 304.2h0M111.2 300.6h0M89.8 292.8h0M103.2 301.7h0M101.4 285.8h0M83.9 287.8h0M86.2 274.4h0M109.9 298.8h0M89.3 267.8h0"/><path stroke="#2eb37c" d="M86.1 271.2h0M134.0 303.7h0M130.5 284.6h0M201.1 305.6h0M85.6 268.8h0M125.1 289.0h0M126.3 299.3h0M98.8 289.7h0M81.7 219.3h0M180.5 304.9h0M80.0 210.3h0M99.9 284.6h0M179.9 303.9h0M206.3 307.7h0M78.9 213.6h0M110.5 287.6h0M78.4 202.9h0M102.3 290.7h0M98.5 282.3h0M150.0 305.3h0M102.4 288.6h0M88.5 271.4h0M102.6 279.1h0M116.7 286.6h0M86.6 273.6h0M109.8 270.8h0M207.0 307.6h0M98.8 291.4h0M188.6 307.6h0M122.1 303.4h0M100.9 292.5h0M195.6 307.6h0M115.0 300.6h0M86.5 245.7h0M103.2 293.1h0M91.3 287.6h0M83.2 239.9h0M101.0 299.6h0M108.0 290.8h0M80.5 227.0h0M91.2 271.7h0M140.8 305.5h0M214.1 307.6h0M95.7 263.6h0M78.5 222.8h0M84.4 271.5h0M104.3 299.0h0M83.8 252.0h0M183.2 307.7h0M82.1 259.6h0M82.4 243.5h0M104.9 297.1h0M104.1 302.3h0M109.7 296.7h0M83.1 274.7h0M113.0 301.6h0M97.0 299.2h0M129.0 304.3h0M86.0 264.4h0M109.7 305.5h0M90.2 292.8h0M169.7 306.6h0M105.4 300.6h0M83.0 262.0h0M97.3 285.2h0M79.8 231.2h0M83.1 281.8h0M91.3 256.9h0M99.4 299.9h0M102.0 301.6h0M81.5 277.7h0M125.8 299.7h0M94.1 300.8h0M105.2 293.3h0M91.3 276.0h0M96.2 261.4h0M83.7 274.9h0M123.3 301.8h0M128.0 298.6h0M85.4 261.5h0M98.9 274.9h0M97.8 276.6h0M181.7 307.0h0M79.9 241.3h0M82.0 256.6h0M79.3 238.8h0M89.7 284.4h0"/><path stroke="#3fbc73" d="M85.4 220.4h0M93.3 266.5h0M154.6 306.8h0M83.9 264.0h0M109.7 299.0h0M113.8 297.6h0M99.9 281.8h0M82.5 262.9h0M90.2 283.9h0M109.1 300.8h0M98.7 292.7h0M87.8 276.8h0M192.3 307.1h0M99.2 295.2h0M98.1 282.0h0M106.9 282.5h0M99.3 274.1h0M95.4 284.3h0M105.6 275.8h0M85.6 280.8h0M117.5 301.2h0M108.6 300.0h0M92.5 289.1h0M103.6 275.5h0M106.3 292.7h0M167.8 305.0h0M78.4 215.0h0M109.2 302.2h0M113.8 291.1h0M105.2 286.8h0M106.6 286.9h0M121.3 303.2h0M159.1 307.7h0M78.4 213.4h0M89.4 283.1h0M94.9 281.1h0M115.1 295.6h0M121.1 302.9h0M82.9 244.0h0M82.7 273.5h0M98.3 265.9h0M78.4 236.6h0M79.7 229.0h0M137.7 305.0h0M130.5 304.0h0M117.6 302.9h0M111.8 299.0h0M79.6 277.4h0M82.7 278.1h0M81.2 233.0h0"/><path stroke="#52c569" d="M81.0 192.5h0M82.7 270.8h0M81.2 235.2h0M98.9 280.8h0M81.6 239.4h0M106.2 274.9h0M124.7 301.6h0M78.4 217.5h0M90.1 272.4h0M98.8 295.0h0M98.9 290.4h0M79.8 231.9h0M98.4 299.2h0M84.3 243.9h0M99.7 280.2h0M78.4 203.5h0M94.4 284.1h0M78.6 218.8h0M84.7 260.8h0M79.8 262.7h0M80.1 277.6h0M78.4 181.6h0M93.0 291.5h0M95.6 299.4h0M170.4 306.2h0M86.9 287.1h0M139.9 300.9h0M156.0 307.3h0M84.1 282.2h0M80.7 239.6h0M87.4 278.2h0M101.5 294.7h0M87.8 288.0h0M120.7 304.2h0M102.6 273.4h0M78.6 203.9h0M110.5 302.8h0M83.4 242.6h0M81.1 275.0h0M87.3 290.6h0M103.6 289.3h0M89.6 280.4h0M91.8 295.3h0"/><path stroke="#69cd5b" d="M124.4 303.5h0M105.4 277.6h0M130.2 305.4h0M87.1 258.7h0M78.4 196.4h0M78.5 218.3h0M165.9 306.9h0M100.1 298.9h0M100.3 300.1h0M81.3 269.0h0M87.8 286.9h0M85.3 268.8h0M92.4 294.4h0M87.6 289.3h0M102.1 294.2h0M124.2 301.0h0M90.4 300.5h0M92.1 281.0h0M93.8 302.5h0M209.8 307.7h0M97.1 288.8h0M101.3 304.3h0M78.6 191.9h0M105.6 303.6h0"/><path stroke="#84d44b" d="M102.3 299.8h0M145.5 305.6h0M182.5 307.0h0M99.3 273.6h0M81.6 221.8h0M85.4 274.5h0M157.4 307.0h0M102.2 294.1h0M104.5 296.8h0M90.8 278.6h0M157.1 307.6h0M96.0 288.1h0M78.9 223.3h0M163.7 307.4h0M153.1 307.6h0M83.3 282.4h0M102.4 302.6h0M82.0 269.3h0M83.4 283.2h0"/><path stroke="#9dd93b" d="M88.2 217.0h0M82.2 261.1h0M81.4 263.8h0M97.3 297.5h0M85.7 292.3h0M81.8 275.3h0"/><path stroke="#bade28" d="M79.9 268.2h0M79.4 220.9h0M92.8 279.7h0M92.0 296.4h0"/><path stroke="#d8e219" d="M83.7 268.5h0M84.4 286.8h0"/><path stroke="#46085c" d="M78.4 216.3h0"/><path stroke="#48186a" d="M113.7 293.2h0M83.4 214.4h0M83.6 244.9h0"/><path stroke="#482576" d="M113.3 302.9h0M120.0 269.6h0M98.8 285.6h0M78.6 197.2h0"/><path stroke="#46337f" d="M148.7 306.9h0M162.6 300.2h0M82.2 192.5h0M101.9 249.5h0M78.6 169.9h0M201.4 307.7h0M86.8 237.7h0M81.5 267.4h0"/><path stroke="#424086" d="M85.9 229.2h0M82.1 244.0h0M78.9 145.1h0M156.7 298.6h0M82.0 254.5h0M85.7 289.7h0M97.5 236.6h0M88.1 210.8h0M78.8 234.8h0M101.1 207.4h0M95.3 235.0h0M106.6 240.3h0M82.6 180.9h0M81.2 296.1h0M87.2 261.4h0M120.0 304.4h0"/><path stroke="#3e4c8a" d="M85.5 209.3h0M79.0 178.5h0M149.8 293.7h0M168.9 287.2h0M90.3 290.9h0M95.1 294.0h0M140.6 303.1h0M85.1 277.6h0M85.7 276.6h0M106.2 276.5h0M134.4 283.8h0M121.4 301.8h0M78.6 230.9h0M150.4 290.1h0M104.6 253.1h0M94.3 236.3h0M117.6 287.2h0M130.0 269.9h0M156.8 303.7h0M81.7 236.8h0M110.0 293.4h0M174.4 307.3h0M88.7 274.1h0M89.7 247.4h0M91.8 259.5h0M164.8 307.5h0"/><path stroke="#38588c" d="M108.0 293.0h0M192.9 307.7h0M162.9 300.7h0M154.5 299.7h0M85.2 281.9h0M126.2 304.5h0M109.0 286.8h0M88.8 248.2h0M91.9 292.6h0M84.5 227.8h0M134.5 304.0h0M128.1 293.2h0M113.4 296.9h0M80.1 234.4h0M82.1 260.7h0M137.5 306.1h0M81.8 237.7h0M92.6 231.5h0M98.8 279.1h0M98.5 305.4h0M93.0 237.7h0M88.1 229.5h0M107.4 301.8h0M113.0 289.3h0M142.1 281.9h0M125.4 283.1h0M123.3 289.2h0M83.4 277.6h0M81.7 281.3h0M120.0 263.5h0M82.7 284.0h0M97.4 259.4h0M79.8 240.5h0M101.5 306.2h0M79.7 201.5h0M134.0 280.0h0M78.5 280.4h0"/><path stroke="#33638d" d="M155.4 282.6h0M171.3 306.0h0M83.9 245.4h0M117.2 300.4h0M116.3 287.2h0M100.3 269.1h0M97.9 212.6h0M89.7 265.9h0M117.6 293.5h0M155.1 302.5h0M95.6 278.2h0M88.4 285.8h0M79.9 261.7h0M108.0 237.4h0M94.0 283.0h0M97.6 303.8h0M178.9 303.3h0M117.8 303.5h0M176.4 305.3h0M112.0 247.2h0M80.6 270.3h0M97.0 300.6h0M93.2 287.8h0M92.5 259.3h0M87.8 293.5h0M89.1 267.9h0M101.7 294.0h0M81.2 212.3h0M82.6 267.0h0M139.7 305.6h0M88.8 289.6h0M145.4 296.1h0M151.7 299.9h0M102.4 281.6h0M184.6 282.5h0M101.0 238.6h0M164.0 281.4h0M108.7 270.7h0M152.5 288.2h0M97.7 280.4h0M81.7 297.1h0"/><path stroke="#2e6d8e" d="M161.4 307.1h0M97.9 266.8h0M96.1 237.4h0M107.6 306.3h0M109.2 270.3h0M81.8 254.3h0M85.6 216.6h0M116.0 304.7h0M102.6 209.9h0M141.7 282.0h0M82.1 263.4h0M101.2 285.0h0M125.8 306.3h0M80.6 262.1h0M115.0 299.1h0M100.2 296.8h0M83.0 282.9h0M129.8 258.7h0M102.8 304.8h0M82.6 183.8h0M106.6 270.0h0M110.1 302.9h0M140.4 302.1h0M96.4 267.9h0M96.5 266.6h0M82.6 285.1h0M84.4 248.2h0M80.8 296.7h0M117.7 305.1h0M92.0 284.3h0M97.1 273.4h0M135.4 301.8h0"/><path stroke="#2a778e" d="M90.0 217.5h0M98.4 276.8h0M102.2 304.6h0M116.8 245.6h0M108.3 240.1h0M118.1 284.1h0M100.2 277.1h0M93.5 290.6h0M81.1 269.8h0M92.2 297.1h0M125.2 302.2h0M86.2 293.5h0M100.8 294.3h0M103.6 246.7h0M79.1 245.1h0M126.1 256.1h0M85.2 255.7h0M124.3 291.1h0M144.9 272.1h0M168.7 306.0h0M95.4 227.1h0M100.8 295.8h0M83.5 295.1h0M100.2 301.2h0M138.7 306.9h0M141.9 280.7h0M94.8 257.9h0M103.3 287.8h0M129.0 279.7h0M136.4 300.8h0M117.3 306.9h0M110.7 295.1h0"/><path stroke="#26828e" d="M88.9 276.8h0M104.8 291.2h0M79.3 222.3h0M88.0 242.4h0M93.0 273.6h0M88.8 258.2h0M83.4 268.7h0M79.3 253.1h0M100.4 269.8h0M111.2 285.4h0M124.8 301.7h0M100.1 266.4h0M97.1 283.6h0M105.6 288.4h0M195.6 307.7h0M86.0 288.4h0M104.6 291.3h0M148.0 304.8h0M98.7 288.4h0M115.3 266.1h0M98.4 276.9h0M84.0 275.9h0M84.1 254.9h0M99.9 286.9h0M128.3 299.5h0M124.7 274.3h0M142.6 304.1h0M107.9 223.4h0M138.3 299.6h0M155.8 304.9h0M128.7 295.4h0M92.7 280.5h0M89.4 294.2h0M89.2 278.6h0M186.8 302.3h0M86.7 281.4h0M87.1 301.2h0M94.0 289.5h0M81.2 258.3h0M113.1 267.9h0M110.7 295.8h0M87.9 270.2h0M80.1 223.6h0M131.8 299.3h0"/><path stroke="#228b8d" d="M105.6 280.0h0M145.5 307.1h0M83.3 288.4h0M86.0 284.8h0M90.7 276.4h0M106.1 292.1h0M80.5 284.4h0M89.2 293.0h0M117.7 301.9h0M88.9 285.6h0M88.4 287.9h0M102.9 255.5h0M87.9 255.7h0M100.3 255.6h0M106.5 298.4h0M89.3 278.8h0M90.2 281.0h0M118.5 302.9h0M82.6 268.5h0M100.0 300.7h0M101.7 297.6h0M100.2 252.1h0M85.1 258.0h0M102.9 292.5h0M84.0 286.7h0M127.2 301.5h0M107.3 295.8h0M101.6 305.3h0M109.9 285.1h0M106.8 305.7h0M81.6 290.2h0M95.8 285.3h0M80.3 241.5h0M93.7 266.8h0M80.8 246.9h0M80.4 215.8h0M127.7 307.3h0M81.4 246.8h0M87.8 302.7h0M84.8 283.8h0M93.6 262.8h0M79.5 277.1h0M84.4 306.9h0M97.0 265.6h0M87.4 294.2h0M94.3 304.8h0M86.9 281.1h0M82.1 302.8h0"/><path stroke="#1f958b" d="M83.7 266.8h0M112.6 283.5h0M89.8 253.1h0M104.6 285.2h0M90.2 265.6h0M79.7 256.5h0M84.2 280.4h0M80.6 233.0h0M147.5 306.6h0M95.1 251.6h0M84.4 278.9h0M160.2 306.9h0M114.3 300.4h0M113.6 305.7h0M87.5 275.1h0M81.1 266.5h0M94.7 262.9h0M117.6 302.3h0M105.9 283.8h0M100.6 273.8h0M109.9 296.8h0M88.8 239.1h0M118.0 288.0h0M87.9 279.8h0M94.2 262.1h0M119.1 285.6h0M80.7 276.0h0M86.9 266.1h0M79.2 226.5h0M122.3 304.0h0M111.8 295.1h0M90.6 280.4h0M124.1 289.7h0M108.6 298.0h0M79.7 272.7h0M81.5 257.7h0M105.0 282.4h0M86.6 286.1h0M87.7 237.9h0M91.8 289.2h0M93.3 300.3h0M108.2 304.7h0M79.8 284.0h0M83.0 241.1h0M79.0 252.0h0M83.1 253.1h0M107.5 307.2h0M84.6 270.5h0M79.2 268.8h0M109.6 275.2h0M97.2 292.6h0M104.4 276.4h0M92.4 300.9h0M95.5 302.1h0M84.7 294.3h0M91.6 281.7h0M84.8 277.8h0M95.9 258.6h0M94.5 298.5h0M125.7 260.1h0M121.5 305.2h0M91.6 291.4h0M112.3 295.8h0"/><path stroke="#1fa088" d="M94.1 267.9h0M105.6 301.7h0M116.5 298.1h0M85.3 274.8h0M85.5 265.5h0M112.6 290.4h0M80.1 183.1h0M99.9 304.4h0M109.9 273.6h0M101.3 282.6h0M112.3 300.7h0M102.6 293.5h0M109.3 291.6h0M84.8 266.6h0M91.2 281.6h0M99.9 293.2h0M112.4 290.4h0M79.7 238.5h0M81.2 250.2h0M89.3 274.4h0M146.6 297.2h0M98.2 282.5h0M116.5 276.8h0M96.3 279.0h0M80.1 254.8h0M84.7 285.4h0M91.0 288.1h0M87.6 293.3h0M84.8 282.8h0M90.5 278.9h0M121.6 296.3h0M104.7 298.2h0M130.8 299.5h0M148.3 304.2h0M98.4 279.0h0M118.6 288.3h0M79.0 220.9h0M79.8 242.2h0M80.7 265.8h0M79.4 272.4h0M78.4 207.6h0M106.8 299.7h0M83.7 253.9h0M98.1 287.5h0M108.5 294.0h0M111.1 294.4h0M140.2 303.0h0M130.2 280.2h0M98.4 270.8h0M89.0 282.0h0M93.1 275.4h0M88.1 268.6h0M88.9 302.4h0M115.0 303.7h0M87.4 279.0h0M80.8 296.1h0M107.8 301.5h0M87.2 291.9h0M88.4 285.4h0M80.9 301.1h0M116.5 303.6h0M90.3 273.1h0M84.0 273.9h0M135.0 298.7h0M79.4 264.9h0M81.3 279.2h0M125.2 304.9h0M95.0 300.0h0M90.4 304.5h0M141.9 303.3h0M83.1 236.6h0M134.6 297.1h0M143.1 306.4h0"/><path stroke="#23a983" d="M92.7 295.7h0M90.7 279.3h0M83.9 263.4h0M105.9 302.0h0M94.5 292.5h0M117.4 255.3h0M165.5 307.7h0M114.8 304.1h0M79.4 244.1h0M132.3 305.8h0M93.6 295.9h0M98.3 295.4h0M108.5 295.9h0M130.1 295.3h0M91.3 287.8h0M112.0 302.2h0M88.3 278.8h0M78.4 193.6h0M85.8 301.4h0M107.3 298.8h0M85.0 264.7h0M108.2 306.8h0M193.0 307.7h0M79.9 247.6h0M167.7 307.7h0M85.3 293.9h0M81.9 271.2h0M179.5 307.7h0M96.2 301.7h0M118.5 305.8h0M110.5 302.3h0M135.8 306.2h0M134.8 289.8h0M109.8 294.8h0M79.0 212.5h0M122.4 304.3h0M126.6 307.4h0M109.0 299.9h0M84.5 278.2h0M167.2 302.2h0M80.5 301.7h0M114.6 302.2h0M94.0 289.1h0M82.7 266.6h0M88.0 286.3h0M86.3 285.3h0M95.8 304.1h0M99.5 306.3h0M101.9 292.0h0M80.8 251.5h0M122.8 306.4h0M119.4 305.5h0M98.7 304.0h0M102.6 300.7h0M100.0 286.5h0M172.2 306.5h0M113.8 293.7h0M106.5 303.6h0M79.7 255.8h0M81.3 287.1h0M118.0 296.4h0M92.0 270.7h0M102.9 282.2h0M79.6 262.2h0M83.4 305.7h0M212.5 307.7h0M97.0 293.5h0M88.7 306.8h0M176.2 307.6h0M82.1 301.2h0M82.1 272.4h0M87.8 294.9h0M104.6 285.6h0M81.2 293.7h0M79.9 285.6h0M211.1 306.2h0"/><path stroke="#2eb37c" d="M98.2 283.4h0M79.0 208.8h0M167.6 306.8h0M99.7 297.0h0M86.5 277.4h0M89.5 282.4h0M126.8 306.1h0M104.6 301.3h0M89.9 258.3h0M91.4 263.7h0M80.1 284.8h0M97.9 288.6h0M86.5 282.3h0M82.5 278.8h0M85.6 287.2h0M78.7 211.1h0M87.4 263.7h0M140.1 306.1h0M144.8 307.1h0M101.1 292.2h0M78.4 221.0h0M89.5 261.3h0M100.6 304.7h0M189.9 307.7h0M102.7 283.4h0M78.6 183.9h0M98.6 291.0h0M96.3 302.7h0M79.4 277.8h0M189.1 307.6h0M101.5 289.3h0M110.9 304.3h0M80.1 226.1h0M92.7 293.2h0M81.6 299.4h0M86.7 284.3h0M81.1 288.9h0M109.0 291.8h0M112.5 298.9h0M90.4 276.4h0M110.2 301.0h0M85.0 285.1h0M108.6 292.3h0M112.9 294.3h0M87.6 280.2h0M96.5 292.2h0M96.3 293.2h0M80.4 261.9h0M82.7 275.7h0M133.6 307.6h0M111.6 283.5h0M85.0 298.9h0M87.7 301.5h0M102.5 295.6h0M78.4 176.1h0M93.0 306.3h0M113.3 285.4h0M160.9 304.8h0M79.9 286.1h0M86.1 279.8h0M79.6 267.7h0M88.1 298.9h0M89.8 291.1h0M85.3 258.8h0M97.1 296.7h0M159.7 307.6h0M169.6 307.7h0M84.7 278.6h0M178.9 307.7h0M99.8 287.7h0M89.2 303.7h0M98.7 303.6h0M107.0 294.4h0M93.5 287.5h0M102.5 300.6h0M79.1 289.3h0M79.3 258.8h0M78.4 227.3h0M104.2 298.1h0M143.7 305.3h0M80.7 273.6h0M79.2 238.6h0M80.4 280.5h0M78.4 251.8h0M142.3 307.7h0M86.0 300.2h0M152.6 307.6h0M78.4 259.6h0M79.2 201.9h0M94.1 286.5h0M83.1 290.9h0M81.7 247.6h0M107.3 307.7h0"/><path stroke="#3fbc73" d="M116.7 305.9h0M100.4 304.5h0M81.1 243.6h0M81.1 283.0h0M183.1 307.7h0M95.4 291.8h0M112.5 297.3h0M93.4 295.7h0M114.9 306.1h0M83.9 259.6h0M99.4 284.3h0M101.3 288.5h0M112.5 288.1h0M88.9 267.2h0M113.2 297.1h0M91.8 294.1h0M81.7 283.3h0M112.6 302.2h0M91.0 287.6h0M83.1 289.9h0M100.4 298.1h0M78.4 229.5h0M84.9 289.3h0M103.3 297.7h0M109.6 303.0h0M96.9 291.1h0M96.0 296.6h0M100.9 301.1h0M169.9 305.5h0M147.9 305.9h0M87.7 268.8h0M107.8 303.0h0M124.6 304.5h0M82.5 276.9h0M99.5 276.0h0M135.8 298.8h0M117.2 301.2h0M109.8 298.7h0M81.6 289.1h0M101.1 305.1h0M100.9 283.6h0M106.2 290.5h0M152.0 307.6h0M88.7 265.2h0M83.4 285.8h0M79.5 246.0h0M162.4 301.6h0M115.5 294.8h0M83.7 289.6h0M85.5 228.6h0M81.9 281.1h0M78.4 195.3h0M108.7 290.7h0M96.9 283.2h0M86.6 275.3h0M158.5 307.1h0M89.1 301.9h0M79.5 274.8h0M88.3 284.8h0M82.4 276.2h0M141.2 307.6h0M122.0 306.9h0M131.8 301.6h0M78.4 204.6h0M83.5 269.6h0M95.8 297.0h0M94.7 279.9h0M141.7 306.8h0M81.7 293.1h0M106.6 299.1h0M81.4 286.4h0M79.3 249.7h0M99.3 296.0h0M89.2 294.8h0M78.7 236.4h0M78.4 209.4h0M176.0 307.7h0M143.6 306.1h0M83.8 300.3h0M168.4 306.9h0M105.2 299.8h0M106.4 301.8h0M101.8 293.0h0M107.2 303.8h0M178.4 304.5h0M78.6 205.3h0M106.3 306.6h0M89.8 305.4h0M78.4 234.1h0M94.1 291.4h0M135.0 307.7h0M95.5 295.3h0M82.0 304.0h0M82.8 279.3h0M197.2 307.7h0M143.3 307.7h0M131.6 307.5h0M116.5 306.8h0M78.4 224.7h0M162.5 307.7h0M81.6 304.4h0M80.1 305.4h0M88.2 289.9h0M78.5 182.0h0M99.9 303.0h0M91.4 301.0h0M87.6 304.9h0M79.0 303.2h0M78.4 253.1h0M82.1 260.3h0M78.4 255.2h0M95.5 306.9h0M78.5 227.8h0M78.4 274.8h0M130.3 307.4h0M171.2 307.7h0M78.4 223.1h0M122.8 307.3h0M146.1 307.7h0"/><path stroke="#52c569" d="M116.6 297.5h0M78.8 218.7h0M181.1 307.7h0M193.5 307.6h0M164.6 307.4h0M78.9 266.3h0M94.7 276.4h0M89.0 279.2h0M145.3 304.6h0M88.8 292.5h0M93.1 297.9h0M100.8 298.9h0M133.6 307.0h0M86.4 290.6h0M78.7 231.1h0M92.2 279.9h0M78.4 240.4h0M91.3 266.8h0M108.1 294.1h0M92.7 302.6h0M78.7 240.5h0M82.9 300.3h0M161.3 307.7h0M101.0 298.9h0M92.1 299.2h0M79.9 272.7h0M80.4 245.4h0M84.4 297.2h0M158.3 307.7h0M93.4 299.2h0M79.6 287.7h0M79.3 232.1h0M166.5 307.6h0M82.1 265.3h0M100.8 290.8h0M85.0 280.1h0M80.3 257.5h0M82.5 232.8h0M150.6 307.5h0M86.3 294.7h0M106.7 301.2h0M93.0 305.3h0M92.6 286.2h0M103.8 298.7h0M78.5 220.4h0M155.2 307.0h0M87.2 286.3h0M158.8 307.6h0M104.2 304.5h0M159.0 307.4h0M83.4 250.1h0M98.9 285.8h0M120.8 306.4h0M78.5 190.1h0M78.9 246.5h0M85.5 292.1h0M87.6 299.8h0M200.2 307.7h0M79.5 253.9h0M94.6 289.3h0M149.4 307.6h0M95.0 293.5h0M81.5 294.9h0M90.1 299.1h0M95.9 305.6h0M106.2 305.9h0M113.8 307.0h0M78.7 238.9h0M82.2 297.0h0M92.0 300.4h0M84.2 301.8h0M192.9 306.5h0M93.6 306.4h0M79.2 273.4h0M131.3 306.4h0M88.9 274.8h0M80.0 279.7h0M91.8 273.5h0M93.0 281.5h0M139.4 307.4h0M108.1 304.2h0M93.7 293.4h0M93.8 295.0h0M93.7 285.9h0M80.6 304.4h0M182.9 304.6h0M78.4 232.6h0M102.0 306.2h0M85.5 298.9h0M78.4 223.5h0M83.9 294.0h0M80.5 266.6h0M81.1 298.0h0M154.7 307.7h0M87.1 273.5h0M85.6 305.6h0M172.4 307.7h0M86.1 244.7h0M82.5 284.5h0M136.8 307.7h0M110.4 307.1h0M79.0 278.3h0M84.9 284.0h0M83.3 291.2h0M112.0 304.6h0M91.9 287.6h0M148.9 307.7h0M90.5 283.7h0M94.9 297.5h0M78.8 265.9h0M81.7 275.9h0M80.5 235.2h0M120.2 307.3h0M78.4 249.0h0M79.9 229.4h0M78.4 274.0h0M131.1 307.7h0M78.9 222.4h0"/><path stroke="#69cd5b" d="M168.5 307.7h0M91.4 293.0h0M78.8 210.7h0M79.9 259.0h0M82.4 286.8h0M131.3 304.9h0M81.0 279.1h0M86.0 278.9h0M78.4 228.4h0M137.3 298.0h0M83.4 284.7h0M82.3 279.9h0M92.9 267.1h0M90.3 302.6h0M98.3 296.2h0M97.2 305.7h0M155.5 307.7h0M108.7 304.0h0M102.3 300.2h0M97.6 299.8h0M84.6 280.6h0M108.3 301.7h0M82.9 303.2h0M86.1 302.8h0M140.7 306.6h0M82.8 280.9h0M78.5 172.7h0M108.6 306.9h0M103.3 305.7h0M78.4 227.0h0M78.5 206.9h0M96.8 298.6h0M78.4 190.9h0M84.3 292.4h0M97.7 306.4h0M95.4 295.8h0M134.3 306.5h0M137.4 307.2h0M109.1 306.5h0M128.6 304.6h0M79.0 272.7h0M87.1 288.4h0M90.9 290.0h0M93.9 291.0h0M175.8 307.7h0M138.1 307.7h0M154.1 307.7h0M89.8 292.3h0M78.4 235.5h0M84.8 307.1h0M79.7 282.4h0M81.5 231.7h0M82.7 288.4h0M90.8 295.6h0M87.9 302.3h0M96.5 293.7h0M85.3 297.3h0M92.7 292.0h0M132.7 307.7h0M78.4 238.7h0M104.0 307.1h0M98.0 301.7h0M82.0 293.9h0M97.8 301.9h0M127.7 306.8h0M94.1 296.0h0M91.8 305.2h0M102.8 297.9h0M86.7 299.8h0M103.9 291.1h0M78.5 237.9h0M81.4 277.0h0M84.5 303.4h0M124.4 307.3h0M80.8 305.9h0M78.7 256.8h0M86.7 285.5h0M79.5 286.4h0M78.4 219.2h0M82.0 306.1h0M82.9 287.5h0M102.6 303.9h0M79.3 250.5h0M84.7 298.0h0M147.6 307.7h0M127.2 307.7h0M126.7 307.7h0M84.6 291.5h0M104.1 303.9h0M78.9 249.5h0M89.6 307.7h0M78.4 233.0h0M111.6 305.8h0M78.4 228.2h0M126.4 307.5h0M106.1 307.7h0M89.9 305.6h0M78.4 243.5h0M136.0 307.7h0M78.4 290.1h0M78.4 258.8h0M104.1 307.7h0M78.6 293.5h0M78.4 301.8h0"/><path stroke="#84d44b" d="M168.6 307.5h0M90.3 286.9h0M117.0 298.7h0M103.4 289.6h0M102.0 303.4h0M80.0 276.4h0M83.1 285.4h0M104.6 294.9h0M98.8 301.0h0M174.5 307.7h0M79.2 238.3h0M98.8 298.5h0M80.2 235.6h0M114.7 302.4h0M78.4 212.5h0M79.2 245.6h0M83.4 296.1h0M90.0 290.4h0M90.1 303.7h0M107.3 301.2h0M93.2 303.9h0M104.8 305.8h0M96.3 287.8h0M90.3 304.0h0M89.6 289.7h0M80.6 254.6h0M80.4 279.5h0M79.9 259.2h0M124.9 306.3h0M82.1 291.1h0M89.3 296.3h0M83.2 290.6h0M79.8 268.2h0M135.6 307.5h0M81.7 277.4h0M97.3 304.6h0M86.0 289.8h0M95.4 303.6h0M132.2 306.8h0M107.3 306.4h0M91.7 297.0h0M83.1 265.5h0M91.5 299.3h0M99.5 304.6h0M89.5 299.8h0M81.0 290.8h0M103.5 304.3h0M151.5 307.7h0M157.0 307.5h0M116.2 304.2h0M151.2 301.6h0M87.7 292.2h0M78.7 257.7h0M86.0 295.4h0M100.7 302.2h0M96.6 299.5h0M79.1 268.5h0M152.4 307.3h0M88.6 298.0h0M125.7 306.8h0M81.7 281.1h0M93.5 307.3h0M86.5 305.2h0M81.4 287.5h0M91.1 297.0h0M89.9 297.5h0M95.6 306.3h0M105.0 305.9h0M133.1 307.6h0M82.5 295.9h0M79.2 256.4h0M84.6 290.7h0M81.7 267.6h0M91.4 303.3h0M101.0 294.7h0M93.4 301.0h0M94.9 293.3h0M90.8 305.5h0M81.1 284.9h0M87.4 298.3h0M80.8 299.5h0M79.7 236.6h0M114.2 302.0h0M80.0 273.6h0M118.8 307.3h0M95.0 305.2h0M96.3 300.5h0M136.7 307.5h0M110.1 305.9h0M89.0 296.5h0M99.2 302.2h0M78.5 242.5h0M118.4 307.6h0M85.2 307.7h0M125.8 307.7h0M119.8 307.7h0M78.7 278.0h0M89.8 299.3h0M79.3 297.9h0M78.4 275.8h0M119.2 306.6h0M79.0 290.4h0M148.4 304.2h0M81.2 292.6h0M78.4 250.3h0M136.3 307.7h0M106.1 307.1h0M78.4 275.0h0M79.3 307.7h0M78.4 307.5h0M78.4 281.8h0M78.4 255.0h0M78.7 268.0h0M98.5 307.7h0M78.4 293.8h0M78.4 247.6h0M115.6 306.9h0M92.4 307.7h0M78.4 258.1h0M78.5 265.8h0M86.3 306.8h0M78.4 300.2h0M78.4 241.5h0"/><path stroke="#9dd93b" d="M88.3 283.8h0M110.4 305.5h0M90.8 282.6h0M129.8 306.3h0M110.5 304.4h0M162.5 307.4h0M94.2 290.5h0M92.9 302.0h0M80.2 281.7h0M80.3 287.5h0M78.5 232.1h0M89.5 296.7h0M84.6 288.7h0M79.8 275.0h0M80.9 281.4h0M105.5 304.7h0M105.0 305.4h0M105.1 294.7h0M91.8 298.2h0M91.7 304.3h0M81.4 280.9h0M90.7 299.0h0M87.7 296.8h0M85.7 291.2h0M113.3 306.6h0M133.3 307.6h0M87.7 295.4h0M94.1 303.0h0M113.7 304.8h0M85.9 283.3h0M138.2 306.0h0M86.9 297.7h0M88.4 299.2h0M91.1 302.1h0M79.2 259.5h0M111.6 305.6h0M94.8 303.4h0M80.9 302.9h0M83.7 292.2h0M80.0 280.8h0M86.5 295.5h0M78.4 261.8h0M79.4 304.5h0M88.9 305.0h0M100.5 306.1h0M88.3 305.9h0M86.9 296.2h0M88.8 303.9h0M150.1 307.6h0M79.2 288.1h0M97.9 303.2h0M97.4 306.4h0M78.6 279.8h0M78.8 244.2h0M79.0 277.3h0M100.3 304.9h0M129.8 307.7h0M78.7 303.7h0M87.3 288.8h0M79.4 303.2h0M78.8 272.4h0M80.0 276.1h0M122.7 307.7h0M86.2 285.8h0M78.4 267.9h0M95.2 300.9h0M120.7 307.7h0M78.4 253.8h0M78.4 256.2h0M112.1 303.3h0M78.6 252.2h0M79.6 296.5h0M80.4 289.5h0M93.3 286.0h0M78.8 296.6h0M81.8 298.8h0M140.3 307.7h0M144.2 307.7h0M111.0 306.7h0M81.0 301.1h0M109.1 307.6h0M79.0 264.8h0M135.2 307.7h0M100.6 307.6h0M89.3 304.1h0M86.5 307.7h0M103.3 307.2h0M127.1 307.5h0M78.9 281.7h0M94.9 307.7h0M78.9 269.9h0M79.4 293.6h0M78.7 246.1h0M93.2 303.0h0M105.5 307.7h0M109.3 307.7h0M78.4 269.6h0M78.4 271.4h0M97.1 307.5h0M79.4 306.2h0M78.4 267.0h0M97.7 307.6h0M116.8 307.7h0M106.3 307.7h0M92.1 301.4h0M94.0 277.1h0M78.4 252.6h0M88.9 300.2h0M138.8 307.3h0M85.2 307.5h0M78.4 274.4h0M81.0 301.6h0M100.1 307.7h0M78.8 260.2h0M78.4 284.8h0M80.4 307.7h0M78.4 296.8h0"/><path stroke="#bade28" d="M81.6 284.3h0M137.4 304.1h0M83.9 261.5h0M80.5 270.9h0M80.3 250.8h0M130.5 305.0h0M97.8 304.5h0M86.5 291.5h0M94.0 304.3h0M79.0 261.0h0M94.0 297.7h0M82.4 292.0h0M79.2 271.6h0M79.6 283.3h0M113.3 305.5h0M83.3 296.6h0M79.1 261.7h0M82.6 294.0h0M117.8 304.2h0M84.6 300.6h0M79.1 263.4h0M79.5 264.6h0M85.6 296.7h0M95.0 302.2h0M94.6 305.9h0M120.2 305.2h0M150.1 307.7h0M91.3 302.5h0M78.6 307.7h0M83.8 301.9h0M86.4 305.5h0M156.0 307.5h0M138.5 307.7h0M80.6 298.4h0M101.4 307.0h0M145.9 307.7h0M79.6 275.7h0M78.4 225.6h0M79.0 283.2h0M91.1 294.8h0M113.9 307.2h0M82.3 305.8h0M81.7 294.8h0M99.9 307.1h0M129.1 306.8h0M83.2 304.2h0M84.5 293.6h0M79.6 292.1h0M136.1 305.8h0M79.0 261.9h0M88.6 307.7h0M84.8 295.7h0M99.5 307.5h0M82.3 297.9h0M107.0 307.3h0M78.4 303.6h0M98.4 307.1h0M79.7 247.9h0M111.5 307.7h0M86.9 307.7h0M78.9 286.7h0M79.6 299.3h0M114.4 307.7h0M78.4 303.2h0M78.4 262.9h0M110.5 307.7h0M132.2 307.7h0M88.1 305.8h0M78.4 293.0h0M78.4 246.4h0M81.6 307.1h0M78.4 283.1h0M83.0 306.9h0M88.7 307.5h0M108.6 307.6h0M78.4 286.5h0M98.3 307.6h0M85.5 307.6h0M78.4 263.6h0M101.4 307.6h0"/><path stroke="#d8e219" d="M88.4 293.0h0M79.3 286.9h0M82.8 300.7h0M144.7 307.7h0M85.6 303.1h0M128.7 307.7h0M90.8 304.2h0M79.2 257.6h0M91.7 302.1h0M82.1 296.2h0M79.2 278.9h0M85.0 304.5h0M112.1 307.1h0M162.0 307.7h0M92.9 307.0h0M82.6 301.1h0M83.3 299.1h0M107.0 304.6h0M106.7 306.2h0M80.1 303.5h0M79.8 291.3h0M83.8 297.8h0M92.2 306.7h0M102.7 306.8h0M96.1 306.1h0M82.0 299.1h0M112.8 307.5h0M80.3 293.9h0M83.0 306.3h0M95.5 304.7h0M84.8 307.5h0M80.4 292.5h0M79.1 267.9h0M121.9 307.7h0M84.2 295.6h0M80.6 290.9h0M78.7 284.8h0M111.2 306.9h0M82.7 303.3h0M92.0 305.3h0M94.1 303.9h0M92.4 307.4h0M86.7 302.6h0M101.2 307.4h0M120.8 307.2h0M79.0 292.1h0M79.9 295.1h0M78.9 291.0h0M87.2 304.3h0M78.7 268.6h0M78.6 292.1h0M78.8 271.4h0M79.3 295.3h0M87.6 306.8h0M94.2 307.5h0M78.7 265.3h0M107.3 307.4h0M112.9 307.7h0M90.3 306.9h0M78.4 306.2h0M78.4 305.7h0M78.4 282.0h0M104.4 306.6h0M79.1 302.8h0M78.4 295.2h0M110.8 307.6h0M99.1 307.3h0M78.5 273.1h0M98.0 307.7h0M78.4 261.1h0M78.6 293.9h0M79.8 300.3h0M90.3 307.7h0M78.4 305.0h0M110.5 306.0h0M80.5 296.0h0M114.0 307.7h0M78.4 283.5h0M79.9 295.7h0M123.8 307.7h0M115.7 307.7h0M78.4 276.7h0M78.4 270.0h0M78.4 302.1h0M78.4 265.3h0M84.9 302.6h0M81.8 307.7h0M101.9 307.5h0M81.9 307.7h0"/><path stroke="#f1e51d" d="M85.1 302.4h0M90.2 302.1h0M86.3 303.9h0M88.5 293.2h0M89.8 301.2h0M79.3 284.3h0M87.0 300.7h0M82.8 302.7h0M86.4 298.5h0M83.8 293.8h0M80.5 300.5h0M79.2 304.0h0M99.0 298.4h0M106.6 306.9h0M124.3 305.3h0M83.7 298.5h0M79.2 305.2h0M78.8 288.6h0M124.3 307.7h0M78.4 244.9h0M78.7 282.5h0M84.4 305.5h0M83.4 293.0h0M80.0 306.9h0M113.6 303.5h0M103.8 305.4h0M78.8 267.2h0M96.0 307.7h0M78.7 263.9h0M95.2 307.7h0M93.8 307.7h0M118.7 307.7h0M78.4 289.5h0M78.5 285.5h0M78.4 271.0h0M78.4 290.8h0M90.8 307.0h0M83.4 307.6h0M78.4 279.2h0M78.4 288.1h0M98.9 307.7h0M78.4 297.8h0M78.4 295.9h0M78.4 288.3h0M102.8 307.7h0M82.5 307.7h0M78.5 278.1h0M91.8 306.7h0M90.5 307.7h0M78.4 298.9h0M79.2 301.6h0M84.4 307.6h0M91.2 307.7h0"/></g></g><rect x="50.85" y="41.4" width="307.25" height="287.95" fill="none" stroke="#b4b4b4" stroke-width="1.15"/><line x1="48.85" y1="307.70" x2="50.85" y2="307.70" stroke="#8a8a8a" stroke-width="1"/><text x="34.40" y="313.10" text-anchor="middle" font-family="'Liberation Serif', serif" font-size="16.2" textLength="25.2" lengthAdjust="spacingAndGlyphs" fill="#383838">0.00</text><line x1="78.40" y1="329.35" x2="78.40" y2="331.35" stroke="#8a8a8a" stroke-width="1"/><text x="78.40" y="344.10" text-anchor="middle" font-family="'Liberation Serif', serif" font-size="16.2" textLength="25.2" lengthAdjust="spacingAndGlyphs" fill="#383838">0.00</text><line x1="48.85" y1="251.50" x2="50.85" y2="251.50" stroke="#8a8a8a" stroke-width="1"/><text x="34.40" y="256.90" text-anchor="middle" font-family="'Liberation Serif', serif" font-size="16.2" textLength="25.2" lengthAdjust="spacingAndGlyphs" fill="#383838">0.02</text><line x1="134.60" y1="329.35" x2="134.60" y2="331.35" stroke="#8a8a8a" stroke-width="1"/><text x="134.60" y="344.10" text-anchor="middle" font-family="'Liberation Serif', serif" font-size="16.2" textLength="25.2" lengthAdjust="spacingAndGlyphs" fill="#383838">0.02</text><line x1="48.85" y1="195.30" x2="50.85" y2="195.30" stroke="#8a8a8a" stroke-width="1"/><text x="34.40" y="200.70" text-anchor="middle" font-family="'Liberation Serif', serif" font-size="16.2" textLength="25.2" lengthAdjust="spacingAndGlyphs" fill="#383838">0.04</text><line x1="190.80" y1="329.35" x2="190.80" y2="331.35" stroke="#8a8a8a" stroke-width="1"/><text x="190.80" y="344.10" text-anchor="middle" font-family="'Liberation Serif', serif" font-size="16.2" textLength="25.2" lengthAdjust="spacingAndGlyphs" fill="#383838">0.04</text><line x1="48.85" y1="139.10" x2="50.85" y2="139.10" stroke="#8a8a8a" stroke-width="1"/><text x="34.40" y="144.50" text-anchor="middle" font-family="'Liberation Serif', serif" font-size="16.2" textLength="25.2" lengthAdjust="spacingAndGlyphs" fill="#383838">0.06</text><line x1="247.00" y1="329.35" x2="247.00" y2="331.35" stroke="#8a8a8a" stroke-width="1"/><text x="247.00" y="344.10" text-anchor="middle" font-family="'Liberation Serif', serif" font-size="16.2" textLength="25.2" lengthAdjust="spacingAndGlyphs" fill="#383838">0.06</text><line x1="48.85" y1="82.90" x2="50.85" y2="82.90" stroke="#8a8a8a" stroke-width="1"/><text x="34.40" y="88.30" text-anchor="middle" font-family="'Liberation Serif', serif" font-size="16.2" textLength="25.2" lengthAdjust="spacingAndGlyphs" fill="#383838">0.08</text><line x1="303.20" y1="329.35" x2="303.20" y2="331.35" stroke="#8a8a8a" stroke-width="1"/><text x="303.20" y="344.10" text-anchor="middle" font-family="'Liberation Serif', serif" font-size="16.2" textLength="25.2" lengthAdjust="spacingAndGlyphs" fill="#383838">0.08</text><text x="176.95" y="359.20" text-anchor="middle" font-family="'DejaVu Serif', serif" font-size="16.5" fill="#383838">⟨</text><text x="184.65" y="358.40" text-anchor="middle" font-family="'Liberation Serif', serif" font-size="14.5" fill="#383838">Γ</text><text x="192.85" y="360.80" text-anchor="middle" font-family="'Liberation Serif', serif" font-size="10.44" font-style="italic" fill="#383838">L</text><text x="198.70" y="359.20" text-anchor="middle" font-family="'DejaVu Serif', serif" font-size="16.5" fill="#383838">⟩</text><text x="209.50" y="359.00" text-anchor="middle" font-family="'Liberation Sans', 'DejaVu Sans', sans-serif" font-size="16.5" fill="#383838">[</text><text x="214.15" y="358.40" text-anchor="middle" font-family="'Liberation Sans', 'DejaVu Sans', sans-serif" font-size="13.8" fill="#383838">e</text><text x="222.60" y="358.40" text-anchor="middle" font-family="'Liberation Sans', 'DejaVu Sans', sans-serif" font-size="15.2" textLength="9.6" lengthAdjust="spacingAndGlyphs" fill="#383838">V</text><text x="228.75" y="359.00" text-anchor="middle" font-family="'Liberation Sans', 'DejaVu Sans', sans-serif" font-size="16.5" fill="#383838">]</text><g transform="translate(15.3,184.5) rotate(-90)"><text x="-25.50" y="0.80" text-anchor="middle" font-family="'DejaVu Serif', serif" font-size="16.5" fill="#383838">⟨</text><text x="-17.80" y="0.00" text-anchor="middle" font-family="'Liberation Serif', serif" font-size="14.5" fill="#383838">Γ</text><text x="-9.60" y="2.40" text-anchor="middle" font-family="'Liberation Serif', serif" font-size="10.44" font-style="italic" fill="#383838">R</text><text x="-3.75" y="0.80" text-anchor="middle" font-family="'DejaVu Serif', serif" font-size="16.5" fill="#383838">⟩</text><text x="7.05" y="0.60" text-anchor="middle" font-family="'Liberation Sans', 'DejaVu Sans', sans-serif" font-size="16.5" fill="#383838">[</text><text x="11.70" y="0.00" text-anchor="middle" font-family="'Liberation Sans', 'DejaVu Sans', sans-serif" font-size="13.8" fill="#383838">e</text><text x="20.15" y="0.00" text-anchor="middle" font-family="'Liberation Sans', 'DejaVu Sans', sans-serif" font-size="15.2" textLength="9.6" lengthAdjust="spacingAndGlyphs" fill="#383838">V</text><text x="26.30" y="0.60" text-anchor="middle" font-family="'Liberation Sans', 'DejaVu Sans', sans-serif" font-size="16.5" fill="#383838">]</text></g><text stroke="#000" stroke-width="0.9" x="306.90" y="82.00" text-anchor="middle" font-family="'Liberation Sans', 'DejaVu Sans', sans-serif" font-size="28.4" font-weight="normal" fill="#000">(</text><text x="319.20" y="82.00" text-anchor="middle" font-family="'Liberation Sans', 'DejaVu Sans', sans-serif" font-size="25.5" font-weight="bold" fill="#000">a</text><text stroke="#000" stroke-width="0.9" x="331.20" y="82.00" text-anchor="middle" font-family="'Liberation Sans', 'DejaVu Sans', sans-serif" font-size="28.4" font-weight="normal" fill="#000">)</text><rect x="371.3" y="30.3" width="15.5" height="309.4" fill="url(#vir)" stroke="#555" stroke-opacity="0.7" stroke-width="0.6"/><line x1="386.8" y1="305.20" x2="389" y2="305.20" stroke="#444" stroke-width="0.8"/><text x="389.00" y="310.60" text-anchor="start" font-family="'Liberation Serif', serif" font-size="16.2" fill="#383838">1</text><line x1="386.8" y1="266.60" x2="389" y2="266.60" stroke="#444" stroke-width="0.8"/><text x="389.00" y="272.00" text-anchor="start" font-family="'Liberation Serif', serif" font-size="16.2" fill="#383838">2</text><line x1="386.8" y1="228.00" x2="389" y2="228.00" stroke="#444" stroke-width="0.8"/><text x="389.00" y="233.40" text-anchor="start" font-family="'Liberation Serif', serif" font-size="16.2" fill="#383838">3</text><line x1="386.8" y1="189.40" x2="389" y2="189.40" stroke="#444" stroke-width="0.8"/><text x="389.00" y="194.80" text-anchor="start" font-family="'Liberation Serif', serif" font-size="16.2" fill="#383838">4</text><line x1="386.8" y1="150.80" x2="389" y2="150.80" stroke="#444" stroke-width="0.8"/><text x="389.00" y="156.20" text-anchor="start" font-family="'Liberation Serif', serif" font-size="16.2" fill="#383838">5</text><line x1="386.8" y1="112.20" x2="389" y2="112.20" stroke="#444" stroke-width="0.8"/><text x="389.00" y="117.60" text-anchor="start" font-family="'Liberation Serif', serif" font-size="16.2" fill="#383838">6</text><line x1="386.8" y1="73.60" x2="389" y2="73.60" stroke="#444" stroke-width="0.8"/><text x="389.00" y="79.00" text-anchor="start" font-family="'Liberation Serif', serif" font-size="16.2" fill="#383838">7</text><line x1="386.8" y1="35.00" x2="389" y2="35.00" stroke="#444" stroke-width="0.8"/><text x="389.00" y="40.40" text-anchor="start" font-family="'Liberation Serif', serif" font-size="16.2" fill="#383838">8</text><text x="294.80" y="18.20" text-anchor="middle" font-family="'Liberation Serif', serif" font-size="17" fill="#383838">|</text><text x="300.60" y="18.20" text-anchor="middle" font-family="'Liberation Serif', serif" font-size="17" font-style="italic" fill="#383838">ε</text><text x="316.70" y="18.20" text-anchor="middle" font-family="'Liberation Serif', serif" font-size="17" textLength="10.4" lengthAdjust="spacingAndGlyphs" fill="#383838">−</text><text x="334.40" y="18.20" text-anchor="middle" font-family="'Liberation Serif', serif" font-size="17" font-style="italic" fill="#383838">E</text><text x="346.40" y="21.20" text-anchor="middle" font-family="'Liberation Serif', serif" font-size="11.899999999999999" font-style="italic" textLength="7.6" lengthAdjust="spacingAndGlyphs" fill="#383838">F</text><text x="354.50" y="18.20" text-anchor="middle" font-family="'Liberation Serif', serif" font-size="17" fill="#383838">|</text><text x="378.25" y="18.20" text-anchor="middle" font-family="'Liberation Serif', serif" font-size="17" textLength="27.5" lengthAdjust="spacingAndGlyphs" fill="#383838">[eV]</text><rect x="481.5" y="47.3" width="307.2" height="276.1" fill="none" stroke="#b4b4b4" stroke-width="1.15"/><line x1="479.5" y1="290.40" x2="481.5" y2="290.40" stroke="#8a8a8a" stroke-width="1"/><text x="464.70" y="295.80" text-anchor="middle" font-family="'Liberation Serif', serif" font-size="16.2" textLength="25.2" lengthAdjust="spacingAndGlyphs" fill="#383838">0.00</text><line x1="529.40" y1="323.4" x2="529.40" y2="325.4" stroke="#8a8a8a" stroke-width="1"/><text x="529.40" y="337.40" text-anchor="middle" font-family="'Liberation Serif', serif" font-size="16.2" textLength="25.2" lengthAdjust="spacingAndGlyphs" fill="#383838">0.00</text><line x1="479.5" y1="247.12" x2="481.5" y2="247.12" stroke="#8a8a8a" stroke-width="1"/><text x="464.70" y="252.52" text-anchor="middle" font-family="'Liberation Serif', serif" font-size="16.2" textLength="25.2" lengthAdjust="spacingAndGlyphs" fill="#383838">0.01</text><line x1="572.70" y1="323.4" x2="572.70" y2="325.4" stroke="#8a8a8a" stroke-width="1"/><text x="572.70" y="337.40" text-anchor="middle" font-family="'Liberation Serif', serif" font-size="16.2" textLength="25.2" lengthAdjust="spacingAndGlyphs" fill="#383838">0.01</text><line x1="479.5" y1="203.84" x2="481.5" y2="203.84" stroke="#8a8a8a" stroke-width="1"/><text x="464.70" y="209.24" text-anchor="middle" font-family="'Liberation Serif', serif" font-size="16.2" textLength="25.2" lengthAdjust="spacingAndGlyphs" fill="#383838">0.02</text><line x1="616.00" y1="323.4" x2="616.00" y2="325.4" stroke="#8a8a8a" stroke-width="1"/><text x="616.00" y="337.40" text-anchor="middle" font-family="'Liberation Serif', serif" font-size="16.2" textLength="25.2" lengthAdjust="spacingAndGlyphs" fill="#383838">0.02</text><line x1="479.5" y1="160.56" x2="481.5" y2="160.56" stroke="#8a8a8a" stroke-width="1"/><text x="464.70" y="165.96" text-anchor="middle" font-family="'Liberation Serif', serif" font-size="16.2" textLength="25.2" lengthAdjust="spacingAndGlyphs" fill="#383838">0.03</text><line x1="659.30" y1="323.4" x2="659.30" y2="325.4" stroke="#8a8a8a" stroke-width="1"/><text x="659.30" y="337.40" text-anchor="middle" font-family="'Liberation Serif', serif" font-size="16.2" textLength="25.2" lengthAdjust="spacingAndGlyphs" fill="#383838">0.03</text><line x1="479.5" y1="117.28" x2="481.5" y2="117.28" stroke="#8a8a8a" stroke-width="1"/><text x="464.70" y="122.68" text-anchor="middle" font-family="'Liberation Serif', serif" font-size="16.2" textLength="25.2" lengthAdjust="spacingAndGlyphs" fill="#383838">0.04</text><line x1="702.60" y1="323.4" x2="702.60" y2="325.4" stroke="#8a8a8a" stroke-width="1"/><text x="702.60" y="337.40" text-anchor="middle" font-family="'Liberation Serif', serif" font-size="16.2" textLength="25.2" lengthAdjust="spacingAndGlyphs" fill="#383838">0.04</text><line x1="479.5" y1="74.00" x2="481.5" y2="74.00" stroke="#8a8a8a" stroke-width="1"/><text x="464.70" y="79.40" text-anchor="middle" font-family="'Liberation Serif', serif" font-size="16.2" textLength="25.2" lengthAdjust="spacingAndGlyphs" fill="#383838">0.05</text><line x1="745.90" y1="323.4" x2="745.90" y2="325.4" stroke="#8a8a8a" stroke-width="1"/><text x="745.90" y="337.40" text-anchor="middle" font-family="'Liberation Serif', serif" font-size="16.2" textLength="25.2" lengthAdjust="spacingAndGlyphs" fill="#383838">0.05</text><text x="607.40" y="353.20" text-anchor="middle" font-family="'DejaVu Serif', serif" font-size="16.5" fill="#383838">⟨</text><text x="615.10" y="352.40" text-anchor="middle" font-family="'Liberation Serif', serif" font-size="14.5" fill="#383838">Γ</text><text x="623.30" y="354.80" text-anchor="middle" font-family="'Liberation Serif', serif" font-size="10.44" font-style="italic" fill="#383838">L</text><text x="629.15" y="353.20" text-anchor="middle" font-family="'DejaVu Serif', serif" font-size="16.5" fill="#383838">⟩</text><text x="639.95" y="353.00" text-anchor="middle" font-family="'Liberation Sans', 'DejaVu Sans', sans-serif" font-size="16.5" fill="#383838">[</text><text x="644.60" y="352.40" text-anchor="middle" font-family="'Liberation Sans', 'DejaVu Sans', sans-serif" font-size="13.8" fill="#383838">e</text><text x="653.05" y="352.40" text-anchor="middle" font-family="'Liberation Sans', 'DejaVu Sans', sans-serif" font-size="15.2" textLength="9.6" lengthAdjust="spacingAndGlyphs" fill="#383838">V</text><text x="659.20" y="353.00" text-anchor="middle" font-family="'Liberation Sans', 'DejaVu Sans', sans-serif" font-size="16.5" fill="#383838">]</text><g transform="translate(445.1,184.5) rotate(-90)"><text x="-25.50" y="0.80" text-anchor="middle" font-family="'DejaVu Serif', serif" font-size="16.5" fill="#383838">⟨</text><text x="-17.80" y="0.00" text-anchor="middle" font-family="'Liberation Serif', serif" font-size="14.5" fill="#383838">Γ</text><text x="-9.60" y="2.40" text-anchor="middle" font-family="'Liberation Serif', serif" font-size="10.44" font-style="italic" fill="#383838">R</text><text x="-3.75" y="0.80" text-anchor="middle" font-family="'DejaVu Serif', serif" font-size="16.5" fill="#383838">⟩</text><text x="7.05" y="0.60" text-anchor="middle" font-family="'Liberation Sans', 'DejaVu Sans', sans-serif" font-size="16.5" fill="#383838">[</text><text x="11.70" y="0.00" text-anchor="middle" font-family="'Liberation Sans', 'DejaVu Sans', sans-serif" font-size="13.8" fill="#383838">e</text><text x="20.15" y="0.00" text-anchor="middle" font-family="'Liberation Sans', 'DejaVu Sans', sans-serif" font-size="15.2" textLength="9.6" lengthAdjust="spacingAndGlyphs" fill="#383838">V</text><text x="26.30" y="0.60" text-anchor="middle" font-family="'Liberation Sans', 'DejaVu Sans', sans-serif" font-size="16.5" fill="#383838">]</text></g><text stroke="#000" stroke-width="0.9" x="499.20" y="82.00" text-anchor="middle" font-family="'Liberation Sans', 'DejaVu Sans', sans-serif" font-size="28.4" font-weight="normal" fill="#000">(</text><text x="511.80" y="82.00" text-anchor="middle" font-family="'Liberation Sans', 'DejaVu Sans', sans-serif" font-size="25.0" font-weight="bold" fill="#000">b</text><text stroke="#000" stroke-width="0.9" x="523.50" y="82.00" text-anchor="middle" font-family="'Liberation Sans', 'DejaVu Sans', sans-serif" font-size="28.4" font-weight="normal" fill="#000">)</text><g stroke-width="2.4" fill="none" stroke-linecap="butt"><path stroke="#2c738e" d="M531.0 288.8L532.8 287.0"/><path stroke="#b0dd2f" d="M533.3 286.5L535.0 284.8"/><path stroke="#1e9c89" d="M535.5 284.3L537.0 282.8"/><path stroke="#21918c" d="M539.8 280.0L542.5 277.3"/><path stroke="#287d8e" d="M542.5 277.3L545.5 274.3"/><path stroke="#a2da37" d="M545.5 274.3L547.5 272.3"/><path stroke="#44bf70" d="M547.5 272.3L549.2 270.6"/><path stroke="#21918c" d="M549.2 270.6L550.7 269.1"/><path stroke="#433e85" d="M550.7 269.1L553.0 266.8"/><path stroke="#355f8d" d="M553.0 266.8L555.5 264.3"/><path stroke="#2e6f8e" d="M555.5 264.3L557.5 262.3"/><path stroke="#21918c" d="M559.5 260.3L561.5 258.3"/><path stroke="#5ec962" d="M561.5 258.3L564.0 255.8"/><path stroke="#9bd93c" d="M564.0 255.8L566.5 253.3"/><path stroke="#2a788e" d="M566.5 253.3L571.0 248.8"/><path stroke="#355f8d" d="M571.0 248.8L574.5 245.3"/><path stroke="#3b528b" d="M574.5 245.3L577.5 242.3"/><path stroke="#21918c" d="M577.5 242.3L581.0 238.8"/><path stroke="#9bd93c" d="M581.0 238.8L584.0 235.8"/><path stroke="#2a788e" d="M584.0 235.8L587.0 232.8"/><path stroke="#21918c" d="M587.0 232.8L589.5 230.3"/><path stroke="#26ad81" d="M589.5 230.3L592.5 227.3"/><path stroke="#1e9c89" d="M592.5 227.3L596.0 223.8"/><path stroke="#44bf70" d="M596.0 223.8L599.0 220.8"/><path stroke="#22a884" d="M599.0 220.8L602.0 217.8"/><path stroke="#3bbb75" d="M602.0 217.8L604.6 215.2"/></g><rect x="619.7" y="197.9" width="2" height="2" fill="#5a1a7a"/><rect x="670.2" y="147.8" width="2" height="2" fill="#5a1a7a"/><rect x="710.4" y="107.3" width="2" height="2" fill="#5a1a7a"/><rect x="736.0" y="81.6" width="2" height="2" fill="#5a1a7a"/><rect x="802.2" y="30.3" width="15.2" height="309.4" fill="url(#vir)" stroke="#555" stroke-opacity="0.7" stroke-width="0.6"/><line x1="817.4" y1="304.76" x2="819.6" y2="304.76" stroke="#444" stroke-width="0.8"/><text x="819.60" y="310.16" text-anchor="start" font-family="'Liberation Serif', serif" font-size="16.2" fill="#383838">1</text><line x1="817.4" y1="263.40" x2="819.6" y2="263.40" stroke="#444" stroke-width="0.8"/><text x="819.60" y="268.80" text-anchor="start" font-family="'Liberation Serif', serif" font-size="16.2" fill="#383838">2</text><line x1="817.4" y1="222.04" x2="819.6" y2="222.04" stroke="#444" stroke-width="0.8"/><text x="819.60" y="227.44" text-anchor="start" font-family="'Liberation Serif', serif" font-size="16.2" fill="#383838">3</text><line x1="817.4" y1="180.68" x2="819.6" y2="180.68" stroke="#444" stroke-width="0.8"/><text x="819.60" y="186.08" text-anchor="start" font-family="'Liberation Serif', serif" font-size="16.2" fill="#383838">4</text><line x1="817.4" y1="139.32" x2="819.6" y2="139.32" stroke="#444" stroke-width="0.8"/><text x="819.60" y="144.72" text-anchor="start" font-family="'Liberation Serif', serif" font-size="16.2" fill="#383838">5</text><line x1="817.4" y1="97.96" x2="819.6" y2="97.96" stroke="#444" stroke-width="0.8"/><text x="819.60" y="103.36" text-anchor="start" font-family="'Liberation Serif', serif" font-size="16.2" fill="#383838">6</text><line x1="817.4" y1="56.60" x2="819.6" y2="56.60" stroke="#444" stroke-width="0.8"/><text x="819.60" y="62.00" text-anchor="start" font-family="'Liberation Serif', serif" font-size="16.2" fill="#383838">7</text><text x="725.80" y="18.20" text-anchor="middle" font-family="'Liberation Serif', serif" font-size="17" fill="#383838">|</text><text x="731.60" y="18.20" text-anchor="middle" font-family="'Liberation Serif', serif" font-size="17" font-style="italic" fill="#383838">ε</text><text x="747.70" y="18.20" text-anchor="middle" font-family="'Liberation Serif', serif" font-size="17" textLength="10.4" lengthAdjust="spacingAndGlyphs" fill="#383838">−</text><text x="765.40" y="18.20" text-anchor="middle" font-family="'Liberation Serif', serif" font-size="17" font-style="italic" fill="#383838">E</text><text x="777.40" y="21.20" text-anchor="middle" font-family="'Liberation Serif', serif" font-size="11.899999999999999" font-style="italic" textLength="7.6" lengthAdjust="spacingAndGlyphs" fill="#383838">F</text><text x="785.50" y="18.20" text-anchor="middle" font-family="'Liberation Serif', serif" font-size="17" fill="#383838">|</text><text x="809.25" y="18.20" text-anchor="middle" font-family="'Liberation Serif', serif" font-size="17" textLength="27.5" lengthAdjust="spacingAndGlyphs" fill="#383838">[eV]</text><text x="647.50" y="221.30" text-anchor="middle" font-family="'Liberation Serif', serif" font-size="11.5" fill="#383838">|</text><text x="656.30" y="221.30" text-anchor="middle" font-family="'Liberation Serif', serif" font-size="11.5" font-style="italic" fill="#383838">φ</text><text x="667.45" y="221.30" text-anchor="middle" font-family="'Liberation Serif', serif" font-size="11.5" fill="#383838">|</text><text x="672.15" y="221.30" text-anchor="middle" font-family="'Liberation Serif', serif" font-size="11.5" font-style="italic" fill="#383838">ψ</text><text x="683.50" y="221.30" text-anchor="middle" font-family="'Liberation Serif', serif" font-size="11.5" fill="#383838">|</text><text x="696.70" y="221.30" text-anchor="middle" font-family="'Liberation Serif', serif" font-size="11.5" fill="#383838">[</text><text x="707.75" y="221.30" text-anchor="middle" font-family="'Liberation Serif', serif" font-size="11.5" textLength="19.5" lengthAdjust="spacingAndGlyphs" fill="#383838">arb.</text><text x="735.70" y="221.30" text-anchor="middle" font-family="'Liberation Serif', serif" font-size="11.5" textLength="24.2" lengthAdjust="spacingAndGlyphs" fill="#383838">units</text><text x="749.60" y="221.30" text-anchor="middle" font-family="'Liberation Serif', serif" font-size="11.5" fill="#383838">]</text><text x="662.40" y="223.30" text-anchor="middle" font-family="'Liberation Serif', serif" font-size="8.049999999999999" font-style="italic" fill="#383838">j</text><text x="650.30" y="221.90" text-anchor="middle" font-family="'DejaVu Serif', serif" font-size="12.88" fill="#383838">⟨</text><text x="676.85" y="221.90" text-anchor="middle" font-family="'DejaVu Serif', serif" font-size="12.88" fill="#383838">⟩</text><text x="687.70" y="216.70" text-anchor="middle" font-family="'Liberation Serif', serif" font-size="8.049999999999999" fill="#383838">2</text><rect x="632" y="231.1" width="139.4" height="7.3" fill="url(#pla)" fill-opacity="0.88" stroke="#555" stroke-width="0.5"/><rect x="622.8" y="245.5" width="157.2" height="68" fill="#fff" stroke="#b4b4b4" stroke-width="1"/><g><circle cx="642.20" cy="248.80" r="2.45" fill="#2a0593"/><circle cx="646.01" cy="251.00" r="2.45" fill="#0d0887"/><circle cx="646.01" cy="255.40" r="2.45" fill="#0d0887"/><circle cx="642.20" cy="257.60" r="2.45" fill="#0d0887"/><circle cx="638.39" cy="255.40" r="2.45" fill="#0d0887"/><circle cx="638.39" cy="251.00" r="2.45" fill="#0d0887"/><circle cx="649.82" cy="248.80" r="2.45" fill="#5c01a6"/><circle cx="653.63" cy="251.00" r="2.45" fill="#0d0887"/><circle cx="653.63" cy="255.40" r="2.45" fill="#0d0887"/><circle cx="649.82" cy="257.60" r="2.45" fill="#0d0887"/><circle cx="657.44" cy="248.80" r="2.45" fill="#9814a0"/><circle cx="661.25" cy="251.00" r="2.45" fill="#0d0887"/><circle cx="661.25" cy="255.40" r="2.45" fill="#0d0887"/><circle cx="657.44" cy="257.60" r="2.45" fill="#0d0887"/><circle cx="665.06" cy="248.80" r="2.45" fill="#cb4679"/><circle cx="668.87" cy="251.00" r="2.45" fill="#0d0887"/><circle cx="668.87" cy="255.40" r="2.45" fill="#0d0887"/><circle cx="665.06" cy="257.60" r="2.45" fill="#0d0887"/><circle cx="672.68" cy="248.80" r="2.45" fill="#ee7b51"/><circle cx="676.49" cy="251.00" r="2.45" fill="#0d0887"/><circle cx="676.49" cy="255.40" r="2.45" fill="#0d0887"/><circle cx="672.68" cy="257.60" r="2.45" fill="#0d0887"/><circle cx="680.30" cy="248.80" r="2.45" fill="#fdaf31"/><circle cx="684.11" cy="251.00" r="2.45" fill="#0d0887"/><circle cx="684.11" cy="255.40" r="2.45" fill="#0d0887"/><circle cx="680.30" cy="257.60" r="2.45" fill="#0d0887"/><circle cx="687.92" cy="248.80" r="2.45" fill="#f9dd25"/><circle cx="691.73" cy="251.00" r="2.45" fill="#0d0887"/><circle cx="691.73" cy="255.40" r="2.45" fill="#0d0887"/><circle cx="687.92" cy="257.60" r="2.45" fill="#0d0887"/><circle cx="695.54" cy="248.80" r="2.45" fill="#f0f724"/><circle cx="699.35" cy="251.00" r="2.45" fill="#0d0887"/><circle cx="699.35" cy="255.40" r="2.45" fill="#0d0887"/><circle cx="695.54" cy="257.60" r="2.45" fill="#0d0887"/><circle cx="703.16" cy="248.80" r="2.45" fill="#f0f724"/><circle cx="706.97" cy="251.00" r="2.45" fill="#0d0887"/><circle cx="706.97" cy="255.40" r="2.45" fill="#0d0887"/><circle cx="703.16" cy="257.60" r="2.45" fill="#0d0887"/><circle cx="710.78" cy="248.80" r="2.45" fill="#f9dd25"/><circle cx="714.59" cy="251.00" r="2.45" fill="#0d0887"/><circle cx="714.59" cy="255.40" r="2.45" fill="#0d0887"/><circle cx="710.78" cy="257.60" r="2.45" fill="#0d0887"/><circle cx="718.40" cy="248.80" r="2.45" fill="#fdaf31"/><circle cx="722.21" cy="251.00" r="2.45" fill="#0d0887"/><circle cx="722.21" cy="255.40" r="2.45" fill="#0d0887"/><circle cx="718.40" cy="257.60" r="2.45" fill="#0d0887"/><circle cx="726.02" cy="248.80" r="2.45" fill="#ee7b51"/><circle cx="729.83" cy="251.00" r="2.45" fill="#0d0887"/><circle cx="729.83" cy="255.40" r="2.45" fill="#0d0887"/><circle cx="726.02" cy="257.60" r="2.45" fill="#0d0887"/><circle cx="733.64" cy="248.80" r="2.45" fill="#cb4679"/><circle cx="737.45" cy="251.00" r="2.45" fill="#0d0887"/><circle cx="737.45" cy="255.40" r="2.45" fill="#0d0887"/><circle cx="733.64" cy="257.60" r="2.45" fill="#0d0887"/><circle cx="741.26" cy="248.80" r="2.45" fill="#9814a0"/><circle cx="745.07" cy="251.00" r="2.45" fill="#0d0887"/><circle cx="745.07" cy="255.40" r="2.45" fill="#0d0887"/><circle cx="741.26" cy="257.60" r="2.45" fill="#0d0887"/><circle cx="748.88" cy="248.80" r="2.45" fill="#5c01a6"/><circle cx="752.69" cy="251.00" r="2.45" fill="#0d0887"/><circle cx="752.69" cy="255.40" r="2.45" fill="#0d0887"/><circle cx="748.88" cy="257.60" r="2.45" fill="#0d0887"/><circle cx="756.50" cy="248.80" r="2.45" fill="#2a0593"/><circle cx="760.31" cy="251.00" r="2.45" fill="#0d0887"/><circle cx="760.31" cy="255.40" r="2.45" fill="#0d0887"/><circle cx="756.50" cy="257.60" r="2.45" fill="#0d0887"/><circle cx="649.82" cy="257.63" r="2.45" fill="#0d0887"/><circle cx="649.82" cy="262.03" r="2.45" fill="#0d0887"/><circle cx="646.01" cy="264.23" r="2.45" fill="#0d0887"/><circle cx="642.20" cy="262.03" r="2.45" fill="#0d0887"/><circle cx="642.20" cy="257.63" r="2.45" fill="#0d0887"/><circle cx="657.44" cy="257.63" r="2.45" fill="#0d0887"/><circle cx="657.44" cy="262.03" r="2.45" fill="#0d0887"/><circle cx="653.63" cy="264.23" r="2.45" fill="#0d0887"/><circle cx="665.06" cy="257.63" r="2.45" fill="#0d0887"/><circle cx="665.06" cy="262.03" r="2.45" fill="#0d0887"/><circle cx="661.25" cy="264.23" r="2.45" fill="#0d0887"/><circle cx="672.68" cy="257.63" r="2.45" fill="#0d0887"/><circle cx="672.68" cy="262.03" r="2.45" fill="#0d0887"/><circle cx="668.87" cy="264.23" r="2.45" fill="#0d0887"/><circle cx="680.30" cy="257.63" r="2.45" fill="#0d0887"/><circle cx="680.30" cy="262.03" r="2.45" fill="#0d0887"/><circle cx="676.49" cy="264.23" r="2.45" fill="#0d0887"/><circle cx="687.92" cy="257.63" r="2.45" fill="#0d0887"/><circle cx="687.92" cy="262.03" r="2.45" fill="#0d0887"/><circle cx="684.11" cy="264.23" r="2.45" fill="#0d0887"/><circle cx="695.54" cy="257.63" r="2.45" fill="#0d0887"/><circle cx="695.54" cy="262.03" r="2.45" fill="#0d0887"/><circle cx="691.73" cy="264.23" r="2.45" fill="#0d0887"/><circle cx="703.16" cy="257.63" r="2.45" fill="#0d0887"/><circle cx="703.16" cy="262.03" r="2.45" fill="#0d0887"/><circle cx="699.35" cy="264.23" r="2.45" fill="#0d0887"/><circle cx="710.78" cy="257.63" r="2.45" fill="#0d0887"/><circle cx="710.78" cy="262.03" r="2.45" fill="#0d0887"/><circle cx="706.97" cy="264.23" r="2.45" fill="#0d0887"/><circle cx="718.40" cy="257.63" r="2.45" fill="#0d0887"/><circle cx="718.40" cy="262.03" r="2.45" fill="#0d0887"/><circle cx="714.59" cy="264.23" r="2.45" fill="#0d0887"/><circle cx="726.02" cy="257.63" r="2.45" fill="#0d0887"/><circle cx="726.02" cy="262.03" r="2.45" fill="#0d0887"/><circle cx="722.21" cy="264.23" r="2.45" fill="#0d0887"/><circle cx="733.64" cy="257.63" r="2.45" fill="#0d0887"/><circle cx="733.64" cy="262.03" r="2.45" fill="#0d0887"/><circle cx="729.83" cy="264.23" r="2.45" fill="#0d0887"/><circle cx="741.26" cy="257.63" r="2.45" fill="#0d0887"/><circle cx="741.26" cy="262.03" r="2.45" fill="#0d0887"/><circle cx="737.45" cy="264.23" r="2.45" fill="#0d0887"/><circle cx="748.88" cy="257.63" r="2.45" fill="#0d0887"/><circle cx="748.88" cy="262.03" r="2.45" fill="#0d0887"/><circle cx="745.07" cy="264.23" r="2.45" fill="#0d0887"/><circle cx="756.50" cy="257.63" r="2.45" fill="#0d0887"/><circle cx="756.50" cy="262.03" r="2.45" fill="#0d0887"/><circle cx="752.69" cy="264.23" r="2.45" fill="#0d0887"/><circle cx="764.12" cy="257.63" r="2.45" fill="#0d0887"/><circle cx="764.12" cy="262.03" r="2.45" fill="#0d0887"/><circle cx="760.31" cy="264.23" r="2.45" fill="#0d0887"/><circle cx="646.01" cy="268.66" r="2.45" fill="#0d0887"/><circle cx="642.20" cy="270.86" r="2.45" fill="#0d0887"/><circle cx="638.39" cy="268.66" r="2.45" fill="#0d0887"/><circle cx="638.39" cy="264.26" r="2.45" fill="#0d0887"/><circle cx="653.63" cy="268.66" r="2.45" fill="#0d0887"/><circle cx="649.82" cy="270.86" r="2.45" fill="#0d0887"/><circle cx="661.25" cy="268.66" r="2.45" fill="#0d0887"/><circle cx="657.44" cy="270.86" r="2.45" fill="#0d0887"/><circle cx="668.87" cy="268.66" r="2.45" fill="#0d0887"/><circle cx="665.06" cy="270.86" r="2.45" fill="#0d0887"/><circle cx="676.49" cy="268.66" r="2.45" fill="#0d0887"/><circle cx="672.68" cy="270.86" r="2.45" fill="#0d0887"/><circle cx="684.11" cy="268.66" r="2.45" fill="#0d0887"/><circle cx="680.30" cy="270.86" r="2.45" fill="#0d0887"/><circle cx="691.73" cy="268.66" r="2.45" fill="#0d0887"/><circle cx="687.92" cy="270.86" r="2.45" fill="#0d0887"/><circle cx="699.35" cy="268.66" r="2.45" fill="#0d0887"/><circle cx="695.54" cy="270.86" r="2.45" fill="#0d0887"/><circle cx="706.97" cy="268.66" r="2.45" fill="#0d0887"/><circle cx="703.16" cy="270.86" r="2.45" fill="#0d0887"/><circle cx="714.59" cy="268.66" r="2.45" fill="#0d0887"/><circle cx="710.78" cy="270.86" r="2.45" fill="#0d0887"/><circle cx="722.21" cy="268.66" r="2.45" fill="#0d0887"/><circle cx="718.40" cy="270.86" r="2.45" fill="#0d0887"/><circle cx="729.83" cy="268.66" r="2.45" fill="#0d0887"/><circle cx="726.02" cy="270.86" r="2.45" fill="#0d0887"/><circle cx="737.45" cy="268.66" r="2.45" fill="#0d0887"/><circle cx="733.64" cy="270.86" r="2.45" fill="#0d0887"/><circle cx="745.07" cy="268.66" r="2.45" fill="#0d0887"/><circle cx="741.26" cy="270.86" r="2.45" fill="#0d0887"/><circle cx="752.69" cy="268.66" r="2.45" fill="#0d0887"/><circle cx="748.88" cy="270.86" r="2.45" fill="#0d0887"/><circle cx="760.31" cy="268.66" r="2.45" fill="#0d0887"/><circle cx="756.50" cy="270.86" r="2.45" fill="#0d0887"/><circle cx="649.82" cy="270.89" r="2.45" fill="#0d0887"/><circle cx="649.82" cy="275.29" r="2.45" fill="#0d0887"/><circle cx="646.01" cy="277.49" r="2.45" fill="#0d0887"/><circle cx="642.20" cy="275.29" r="2.45" fill="#0d0887"/><circle cx="642.20" cy="270.89" r="2.45" fill="#0d0887"/><circle cx="657.44" cy="270.89" r="2.45" fill="#0d0887"/><circle cx="657.44" cy="275.29" r="2.45" fill="#0d0887"/><circle cx="653.63" cy="277.49" r="2.45" fill="#0d0887"/><circle cx="665.06" cy="270.89" r="2.45" fill="#0d0887"/><circle cx="665.06" cy="275.29" r="2.45" fill="#0d0887"/><circle cx="661.25" cy="277.49" r="2.45" fill="#0d0887"/><circle cx="672.68" cy="270.89" r="2.45" fill="#0d0887"/><circle cx="672.68" cy="275.29" r="2.45" fill="#0d0887"/><circle cx="668.87" cy="277.49" r="2.45" fill="#0d0887"/><circle cx="680.30" cy="270.89" r="2.45" fill="#0d0887"/><circle cx="680.30" cy="275.29" r="2.45" fill="#0d0887"/><circle cx="676.49" cy="277.49" r="2.45" fill="#0d0887"/><circle cx="687.92" cy="270.89" r="2.45" fill="#0d0887"/><circle cx="687.92" cy="275.29" r="2.45" fill="#0d0887"/><circle cx="684.11" cy="277.49" r="2.45" fill="#0d0887"/><circle cx="695.54" cy="270.89" r="2.45" fill="#0d0887"/><circle cx="695.54" cy="275.29" r="2.45" fill="#0d0887"/><circle cx="691.73" cy="277.49" r="2.45" fill="#0d0887"/><circle cx="703.16" cy="270.89" r="2.45" fill="#0d0887"/><circle cx="703.16" cy="275.29" r="2.45" fill="#0d0887"/><circle cx="699.35" cy="277.49" r="2.45" fill="#0d0887"/><circle cx="710.78" cy="270.89" r="2.45" fill="#0d0887"/><circle cx="710.78" cy="275.29" r="2.45" fill="#0d0887"/><circle cx="706.97" cy="277.49" r="2.45" fill="#0d0887"/><circle cx="718.40" cy="270.89" r="2.45" fill="#0d0887"/><circle cx="718.40" cy="275.29" r="2.45" fill="#0d0887"/><circle cx="714.59" cy="277.49" r="2.45" fill="#0d0887"/><circle cx="726.02" cy="270.89" r="2.45" fill="#0d0887"/><circle cx="726.02" cy="275.29" r="2.45" fill="#0d0887"/><circle cx="722.21" cy="277.49" r="2.45" fill="#0d0887"/><circle cx="733.64" cy="270.89" r="2.45" fill="#0d0887"/><circle cx="733.64" cy="275.29" r="2.45" fill="#0d0887"/><circle cx="729.83" cy="277.49" r="2.45" fill="#0d0887"/><circle cx="741.26" cy="270.89" r="2.45" fill="#0d0887"/><circle cx="741.26" cy="275.29" r="2.45" fill="#0d0887"/><circle cx="737.45" cy="277.49" r="2.45" fill="#0d0887"/><circle cx="748.88" cy="270.89" r="2.45" fill="#0d0887"/><circle cx="748.88" cy="275.29" r="2.45" fill="#0d0887"/><circle cx="745.07" cy="277.49" r="2.45" fill="#0d0887"/><circle cx="756.50" cy="270.89" r="2.45" fill="#0d0887"/><circle cx="756.50" cy="275.29" r="2.45" fill="#0d0887"/><circle cx="752.69" cy="277.49" r="2.45" fill="#0d0887"/><circle cx="764.12" cy="270.89" r="2.45" fill="#0d0887"/><circle cx="764.12" cy="275.29" r="2.45" fill="#0d0887"/><circle cx="760.31" cy="277.49" r="2.45" fill="#0d0887"/><circle cx="646.01" cy="281.92" r="2.45" fill="#0d0887"/><circle cx="642.20" cy="284.12" r="2.45" fill="#0d0887"/><circle cx="638.39" cy="281.92" r="2.45" fill="#0d0887"/><circle cx="638.39" cy="277.52" r="2.45" fill="#0d0887"/><circle cx="653.63" cy="281.92" r="2.45" fill="#0d0887"/><circle cx="649.82" cy="284.12" r="2.45" fill="#0d0887"/><circle cx="661.25" cy="281.92" r="2.45" fill="#0d0887"/><circle cx="657.44" cy="284.12" r="2.45" fill="#0d0887"/><circle cx="668.87" cy="281.92" r="2.45" fill="#0d0887"/><circle cx="665.06" cy="284.12" r="2.45" fill="#0d0887"/><circle cx="676.49" cy="281.92" r="2.45" fill="#0d0887"/><circle cx="672.68" cy="284.12" r="2.45" fill="#0d0887"/><circle cx="684.11" cy="281.92" r="2.45" fill="#0d0887"/><circle cx="680.30" cy="284.12" r="2.45" fill="#0d0887"/><circle cx="691.73" cy="281.92" r="2.45" fill="#0d0887"/><circle cx="687.92" cy="284.12" r="2.45" fill="#0d0887"/><circle cx="699.35" cy="281.92" r="2.45" fill="#0d0887"/><circle cx="695.54" cy="284.12" r="2.45" fill="#0d0887"/><circle cx="706.97" cy="281.92" r="2.45" fill="#0d0887"/><circle cx="703.16" cy="284.12" r="2.45" fill="#0d0887"/><circle cx="714.59" cy="281.92" r="2.45" fill="#0d0887"/><circle cx="710.78" cy="284.12" r="2.45" fill="#0d0887"/><circle cx="722.21" cy="281.92" r="2.45" fill="#0d0887"/><circle cx="718.40" cy="284.12" r="2.45" fill="#0d0887"/><circle cx="729.83" cy="281.92" r="2.45" fill="#0d0887"/><circle cx="726.02" cy="284.12" r="2.45" fill="#0d0887"/><circle cx="737.45" cy="281.92" r="2.45" fill="#0d0887"/><circle cx="733.64" cy="284.12" r="2.45" fill="#0d0887"/><circle cx="745.07" cy="281.92" r="2.45" fill="#0d0887"/><circle cx="741.26" cy="284.12" r="2.45" fill="#0d0887"/><circle cx="752.69" cy="281.92" r="2.45" fill="#0d0887"/><circle cx="748.88" cy="284.12" r="2.45" fill="#0d0887"/><circle cx="760.31" cy="281.92" r="2.45" fill="#0d0887"/><circle cx="756.50" cy="284.12" r="2.45" fill="#0d0887"/><circle cx="649.82" cy="284.15" r="2.45" fill="#0d0887"/><circle cx="649.82" cy="288.55" r="2.45" fill="#0d0887"/><circle cx="646.01" cy="290.75" r="2.45" fill="#0d0887"/><circle cx="642.20" cy="288.55" r="2.45" fill="#0d0887"/><circle cx="642.20" cy="284.15" r="2.45" fill="#0d0887"/><circle cx="657.44" cy="284.15" r="2.45" fill="#0d0887"/><circle cx="657.44" cy="288.55" r="2.45" fill="#0d0887"/><circle cx="653.63" cy="290.75" r="2.45" fill="#0d0887"/><circle cx="665.06" cy="284.15" r="2.45" fill="#0d0887"/><circle cx="665.06" cy="288.55" r="2.45" fill="#0d0887"/><circle cx="661.25" cy="290.75" r="2.45" fill="#0d0887"/><circle cx="672.68" cy="284.15" r="2.45" fill="#0d0887"/><circle cx="672.68" cy="288.55" r="2.45" fill="#0d0887"/><circle cx="668.87" cy="290.75" r="2.45" fill="#0d0887"/><circle cx="680.30" cy="284.15" r="2.45" fill="#0d0887"/><circle cx="680.30" cy="288.55" r="2.45" fill="#0d0887"/><circle cx="676.49" cy="290.75" r="2.45" fill="#0d0887"/><circle cx="687.92" cy="284.15" r="2.45" fill="#0d0887"/><circle cx="687.92" cy="288.55" r="2.45" fill="#0d0887"/><circle cx="684.11" cy="290.75" r="2.45" fill="#0d0887"/><circle cx="695.54" cy="284.15" r="2.45" fill="#0d0887"/><circle cx="695.54" cy="288.55" r="2.45" fill="#0d0887"/><circle cx="691.73" cy="290.75" r="2.45" fill="#0d0887"/><circle cx="703.16" cy="284.15" r="2.45" fill="#0d0887"/><circle cx="703.16" cy="288.55" r="2.45" fill="#0d0887"/><circle cx="699.35" cy="290.75" r="2.45" fill="#0d0887"/><circle cx="710.78" cy="284.15" r="2.45" fill="#0d0887"/><circle cx="710.78" cy="288.55" r="2.45" fill="#0d0887"/><circle cx="706.97" cy="290.75" r="2.45" fill="#0d0887"/><circle cx="718.40" cy="284.15" r="2.45" fill="#0d0887"/><circle cx="718.40" cy="288.55" r="2.45" fill="#0d0887"/><circle cx="714.59" cy="290.75" r="2.45" fill="#0d0887"/><circle cx="726.02" cy="284.15" r="2.45" fill="#0d0887"/><circle cx="726.02" cy="288.55" r="2.45" fill="#0d0887"/><circle cx="722.21" cy="290.75" r="2.45" fill="#0d0887"/><circle cx="733.64" cy="284.15" r="2.45" fill="#0d0887"/><circle cx="733.64" cy="288.55" r="2.45" fill="#0d0887"/><circle cx="729.83" cy="290.75" r="2.45" fill="#0d0887"/><circle cx="741.26" cy="284.15" r="2.45" fill="#0d0887"/><circle cx="741.26" cy="288.55" r="2.45" fill="#0d0887"/><circle cx="737.45" cy="290.75" r="2.45" fill="#0d0887"/><circle cx="748.88" cy="284.15" r="2.45" fill="#0d0887"/><circle cx="748.88" cy="288.55" r="2.45" fill="#0d0887"/><circle cx="745.07" cy="290.75" r="2.45" fill="#0d0887"/><circle cx="756.50" cy="284.15" r="2.45" fill="#0d0887"/><circle cx="756.50" cy="288.55" r="2.45" fill="#0d0887"/><circle cx="752.69" cy="290.75" r="2.45" fill="#0d0887"/><circle cx="764.12" cy="284.15" r="2.45" fill="#0d0887"/><circle cx="764.12" cy="288.55" r="2.45" fill="#0d0887"/><circle cx="760.31" cy="290.75" r="2.45" fill="#0d0887"/><circle cx="646.01" cy="295.18" r="2.45" fill="#0d0887"/><circle cx="642.20" cy="297.38" r="2.45" fill="#0d0887"/><circle cx="638.39" cy="295.18" r="2.45" fill="#0d0887"/><circle cx="638.39" cy="290.78" r="2.45" fill="#0d0887"/><circle cx="653.63" cy="295.18" r="2.45" fill="#0d0887"/><circle cx="649.82" cy="297.38" r="2.45" fill="#0d0887"/><circle cx="661.25" cy="295.18" r="2.45" fill="#0d0887"/><circle cx="657.44" cy="297.38" r="2.45" fill="#0d0887"/><circle cx="668.87" cy="295.18" r="2.45" fill="#0d0887"/><circle cx="665.06" cy="297.38" r="2.45" fill="#0d0887"/><circle cx="676.49" cy="295.18" r="2.45" fill="#0d0887"/><circle cx="672.68" cy="297.38" r="2.45" fill="#0d0887"/><circle cx="684.11" cy="295.18" r="2.45" fill="#0d0887"/><circle cx="680.30" cy="297.38" r="2.45" fill="#0d0887"/><circle cx="691.73" cy="295.18" r="2.45" fill="#0d0887"/><circle cx="687.92" cy="297.38" r="2.45" fill="#0d0887"/><circle cx="699.35" cy="295.18" r="2.45" fill="#0d0887"/><circle cx="695.54" cy="297.38" r="2.45" fill="#0d0887"/><circle cx="706.97" cy="295.18" r="2.45" fill="#0d0887"/><circle cx="703.16" cy="297.38" r="2.45" fill="#0d0887"/><circle cx="714.59" cy="295.18" r="2.45" fill="#0d0887"/><circle cx="710.78" cy="297.38" r="2.45" fill="#0d0887"/><circle cx="722.21" cy="295.18" r="2.45" fill="#0d0887"/><circle cx="718.40" cy="297.38" r="2.45" fill="#0d0887"/><circle cx="729.83" cy="295.18" r="2.45" fill="#0d0887"/><circle cx="726.02" cy="297.38" r="2.45" fill="#0d0887"/><circle cx="737.45" cy="295.18" r="2.45" fill="#0d0887"/><circle cx="733.64" cy="297.38" r="2.45" fill="#0d0887"/><circle cx="745.07" cy="295.18" r="2.45" fill="#0d0887"/><circle cx="741.26" cy="297.38" r="2.45" fill="#0d0887"/><circle cx="752.69" cy="295.18" r="2.45" fill="#0d0887"/><circle cx="748.88" cy="297.38" r="2.45" fill="#0d0887"/><circle cx="760.31" cy="295.18" r="2.45" fill="#0d0887"/><circle cx="756.50" cy="297.38" r="2.45" fill="#0d0887"/><circle cx="649.82" cy="301.81" r="2.45" fill="#0d0887"/><circle cx="646.01" cy="304.01" r="2.45" fill="#0d0887"/><circle cx="642.20" cy="301.81" r="2.45" fill="#0d0887"/><circle cx="657.44" cy="301.81" r="2.45" fill="#0d0887"/><circle cx="653.63" cy="304.01" r="2.45" fill="#0d0887"/><circle cx="665.06" cy="301.81" r="2.45" fill="#0d0887"/><circle cx="661.25" cy="304.01" r="2.45" fill="#0d0887"/><circle cx="672.68" cy="301.81" r="2.45" fill="#0d0887"/><circle cx="668.87" cy="304.01" r="2.45" fill="#0d0887"/><circle cx="680.30" cy="301.81" r="2.45" fill="#0d0887"/><circle cx="676.49" cy="304.01" r="2.45" fill="#0d0887"/><circle cx="687.92" cy="301.81" r="2.45" fill="#0d0887"/><circle cx="684.11" cy="304.01" r="2.45" fill="#0d0887"/><circle cx="695.54" cy="301.81" r="2.45" fill="#0d0887"/><circle cx="691.73" cy="304.01" r="2.45" fill="#0d0887"/><circle cx="703.16" cy="301.81" r="2.45" fill="#0d0887"/><circle cx="699.35" cy="304.01" r="2.45" fill="#0d0887"/><circle cx="710.78" cy="301.81" r="2.45" fill="#0d0887"/><circle cx="706.97" cy="304.01" r="2.45" fill="#0d0887"/><circle cx="718.40" cy="301.81" r="2.45" fill="#0d0887"/><circle cx="714.59" cy="304.01" r="2.45" fill="#0d0887"/><circle cx="726.02" cy="301.81" r="2.45" fill="#0d0887"/><circle cx="722.21" cy="304.01" r="2.45" fill="#0d0887"/><circle cx="733.64" cy="301.81" r="2.45" fill="#0d0887"/><circle cx="729.83" cy="304.01" r="2.45" fill="#0d0887"/><circle cx="741.26" cy="301.81" r="2.45" fill="#0d0887"/><circle cx="737.45" cy="304.01" r="2.45" fill="#0d0887"/><circle cx="748.88" cy="301.81" r="2.45" fill="#0d0887"/><circle cx="745.07" cy="304.01" r="2.45" fill="#0d0887"/><circle cx="756.50" cy="301.81" r="2.45" fill="#0d0887"/><circle cx="752.69" cy="304.01" r="2.45" fill="#0d0887"/><circle cx="764.12" cy="297.41" r="2.45" fill="#0d0887"/><circle cx="764.12" cy="301.81" r="2.45" fill="#0d0887"/><circle cx="760.31" cy="304.01" r="2.45" fill="#0d0887"/><circle cx="646.01" cy="308.44" r="2.45" fill="#0d0887"/><circle cx="642.20" cy="310.64" r="2.45" fill="#2a0593"/><circle cx="638.39" cy="308.44" r="2.45" fill="#0d0887"/><circle cx="638.39" cy="304.04" r="2.45" fill="#0d0887"/><circle cx="653.63" cy="308.44" r="2.45" fill="#0d0887"/><circle cx="649.82" cy="310.64" r="2.45" fill="#5c01a6"/><circle cx="661.25" cy="308.44" r="2.45" fill="#0d0887"/><circle cx="657.44" cy="310.64" r="2.45" fill="#9814a0"/><circle cx="668.87" cy="308.44" r="2.45" fill="#0d0887"/><circle cx="665.06" cy="310.64" r="2.45" fill="#cb4679"/><circle cx="676.49" cy="308.44" r="2.45" fill="#0d0887"/><circle cx="672.68" cy="310.64" r="2.45" fill="#ee7b51"/><circle cx="684.11" cy="308.44" r="2.45" fill="#0d0887"/><circle cx="680.30" cy="310.64" r="2.45" fill="#fdaf31"/><circle cx="691.73" cy="308.44" r="2.45" fill="#0d0887"/><circle cx="687.92" cy="310.64" r="2.45" fill="#f9dd25"/><circle cx="699.35" cy="308.44" r="2.45" fill="#0d0887"/><circle cx="695.54" cy="310.64" r="2.45" fill="#f0f724"/><circle cx="706.97" cy="308.44" r="2.45" fill="#0d0887"/><circle cx="703.16" cy="310.64" r="2.45" fill="#f0f724"/><circle cx="714.59" cy="308.44" r="2.45" fill="#0d0887"/><circle cx="710.78" cy="310.64" r="2.45" fill="#f9dd25"/><circle cx="722.21" cy="308.44" r="2.45" fill="#0d0887"/><circle cx="718.40" cy="310.64" r="2.45" fill="#fdaf31"/><circle cx="729.83" cy="308.44" r="2.45" fill="#0d0887"/><circle cx="726.02" cy="310.64" r="2.45" fill="#ee7b51"/><circle cx="737.45" cy="308.44" r="2.45" fill="#0d0887"/><circle cx="733.64" cy="310.64" r="2.45" fill="#cb4679"/><circle cx="745.07" cy="308.44" r="2.45" fill="#0d0887"/><circle cx="741.26" cy="310.64" r="2.45" fill="#9814a0"/><circle cx="752.69" cy="308.44" r="2.45" fill="#0d0887"/><circle cx="748.88" cy="310.64" r="2.45" fill="#5c01a6"/><circle cx="760.31" cy="308.44" r="2.45" fill="#0d0887"/><circle cx="756.50" cy="310.64" r="2.45" fill="#2a0593"/></g><line x1="623" y1="279.6" x2="780" y2="279.6" stroke="#f23a30" stroke-width="1.2" stroke-dasharray="3.3,1.6"/></g></svg></body></html>
